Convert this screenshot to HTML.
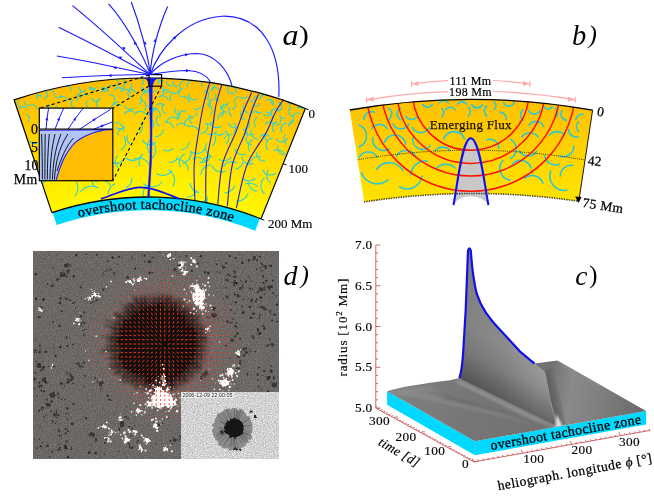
<!DOCTYPE html>
<html><head><meta charset="utf-8"><title>Figure</title>
<style>
html,body{margin:0;padding:0;background:#fff;}
body{width:654px;height:496px;overflow:hidden;font-family:"Liberation Serif", "DejaVu Serif", serif;}
svg{display:block;}
text{font-family:"Liberation Serif", "DejaVu Serif", serif;}
</style></head><body>
<svg width="654" height="496" viewBox="0 0 654 496">
<defs>
<radialGradient id="ga" gradientUnits="userSpaceOnUse" cx="148" cy="500" r="422"><stop offset="0.718" stop-color="#fff800"/><stop offset="0.832" stop-color="#ffe000"/><stop offset="1" stop-color="#ffbe00"/></radialGradient>
<clipPath id="ca"><path d="M14.1,99.81 A422,422 0 0 1 305.4,108.45 L261.02,218.87 A303,303 0 0 0 51.86,212.66 Z"/></clipPath>
</defs>
<g id="panel-a">
<path d="M52.29,211.46 A304,304 0 0 1 260.4,217.54 L255.15,230.74 A289.8,289.8 0 0 0 56.76,224.94 Z" fill="#00d8ff"/>
<path d="M14.1,99.81 A422,422 0 0 1 305.4,108.45 L261.02,218.87 A303,303 0 0 0 51.86,212.66 Z" fill="url(#ga)"/>
<g clip-path="url(#ca)" fill="none" stroke="#30d4d0" stroke-width="1.1" stroke-linecap="round">
<path d="M117.5,134.77 A7.26,7.26 0 0 1 122.42,128.24"/>
<path d="M150.24,194.91 A13.2,13.2 0 0 1 136.68,198.17"/>
<path d="M267.69,150.01 A7.52,7.52 0 0 1 272.72,138.01"/>
<path d="M240.43,211.94 A11.89,11.89 0 0 1 229,213.74"/>
<path d="M223.56,166.41 A9.39,9.39 0 0 1 236.3,162.8"/>
<path d="M177.76,156.99 A8.57,8.57 0 0 1 169.27,162.42"/>
<path d="M134.47,114.47 A6.57,6.57 0 0 1 143.93,112.49"/>
<path d="M164.34,121.82 A8.6,8.6 0 0 1 173.76,128.13"/>
<path d="M50.9,90.67 A4.13,4.13 0 0 1 54.84,94.82"/>
<path d="M233.74,122.77 A7.14,7.14 0 0 1 233.98,132.58"/>
<path d="M177.86,119.66 A6.9,6.9 0 0 1 185.71,110.98"/>
<path d="M157.2,89.15 A4.72,4.72 0 0 1 149.17,90.39"/>
<path d="M283.94,155.1 A7.79,7.79 0 0 1 278.01,145.82"/>
<path d="M38.13,142.37 A6.93,6.93 0 0 1 29.65,141.07"/>
<path d="M214.78,207.72 A11.28,11.28 0 0 1 204.1,200.53"/>
<path d="M247.93,112.63 A5.55,5.55 0 0 1 243.7,105.26"/>
<path d="M255.26,178.69 A10.92,10.92 0 0 1 242.71,178.82"/>
<path d="M189.02,141.95 A8.12,8.12 0 0 1 181.27,149.85"/>
<path d="M211.4,88.8 A4.47,4.47 0 0 1 218.91,90.27"/>
<path d="M255.47,126.77 A6.46,6.46 0 0 1 256.95,117.33"/>
<path d="M196.51,190.87 A10.71,10.71 0 0 1 187.14,197.18"/>
<path d="M131.96,178.42 A10.21,10.21 0 0 1 126.37,187.51"/>
<path d="M288.74,126.41 A5.34,5.34 0 0 1 292.61,120.73"/>
<path d="M39.51,189.72 A12.88,12.88 0 0 1 48.42,179.68"/>
<path d="M274.19,150.39 A9.03,9.03 0 0 1 285.02,154.42"/>
<path d="M165.41,113.48 A6.51,6.51 0 0 1 162.59,105.11"/>
<path d="M220.41,108.95 A5.27,5.27 0 0 1 226.61,104.36"/>
<path d="M57,218.22 A12.01,12.01 0 0 1 45.75,207.52"/>
<path d="M150.01,85.64 A4.92,4.92 0 0 1 141.96,89.79"/>
<path d="M204.74,148.93 A9.36,9.36 0 0 1 190.9,151.55"/>
<path d="M234.37,102.45 A5.15,5.15 0 0 1 238.51,96.68"/>
<path d="M281.92,132.21 A5.66,5.66 0 0 1 286.62,123.26"/>
<path d="M85.3,176.3 A13.08,13.08 0 0 1 93.71,186.77"/>
<path d="M124.74,126.73 A7.19,7.19 0 0 1 116.48,127.81"/>
<path d="M207.34,86.3 A4.33,4.33 0 0 1 204.12,92.32"/>
<path d="M114.5,90.01 A4.79,4.79 0 0 1 123.12,90.69"/>
<path d="M249.75,163.67 A9.23,9.23 0 0 1 260.4,156.41"/>
<path d="M210.25,155.62 A8.88,8.88 0 0 1 206.46,143.61"/>
<path d="M224.15,138.91 A7.21,7.21 0 0 1 232.28,134.51"/>
<path d="M265.08,124.05 A6.09,6.09 0 0 1 274.44,124.16"/>
<path d="M257.92,139.25 A7.49,7.49 0 0 1 251.12,129.91"/>
<path d="M259.34,104.87 A4.12,4.12 0 0 1 252.9,104.24"/>
<path d="M95.85,181.58 A10.99,10.99 0 0 1 110.39,185.22"/>
<path d="M60.18,97.4 A5.23,5.23 0 0 1 67.12,98.63"/>
<path d="M293.26,118.29 A4.72,4.72 0 0 1 289.42,124.35"/>
<path d="M201.94,162.16 A8.89,8.89 0 0 1 211.92,156.38"/>
<path d="M108.1,194.07 A13.23,13.23 0 0 1 114.61,183.67"/>
<path d="M246.82,96.56 A4.67,4.67 0 0 1 239.98,97.16"/>
<path d="M245.65,183.92 A11.86,11.86 0 0 1 257.26,186.43"/>
<path d="M142.25,95.13 A5.05,5.05 0 0 1 151.26,94.05"/>
<path d="M161.81,182.01 A12.55,12.55 0 0 1 143.75,183.73"/>
<path d="M149.52,152.58 A9.9,9.9 0 0 1 150.87,138.87"/>
<path d="M191.96,123.01 A6.5,6.5 0 0 1 189.57,115.53"/>
<path d="M73.96,178.88 A12.53,12.53 0 0 1 75.15,195.8"/>
<path d="M139.6,165.45 A9.45,9.45 0 0 1 142.76,154.79"/>
<path d="M293.42,116.11 A4.43,4.43 0 0 1 290.02,108.66"/>
<path d="M117.71,167.26 A8.91,8.91 0 0 1 117.4,155.56"/>
<path d="M177.48,159.55 A10.98,10.98 0 0 1 188.41,170.08"/>
<path d="M122.58,161.27 A10.68,10.68 0 0 1 106.95,157.88"/>
<path d="M266.39,112.38 A5.69,5.69 0 0 1 272.14,120.41"/>
<path d="M168.75,170.2 A11.75,11.75 0 0 1 172.91,186.27"/>
<path d="M180.58,96.9 A6.15,6.15 0 0 1 189.25,102.43"/>
<path d="M188.03,126.87 A8.25,8.25 0 0 1 199.1,131.14"/>
<path d="M156.95,104.8 A6.35,6.35 0 0 1 164.74,105.54"/>
<path d="M197.02,113.18 A6.35,6.35 0 0 1 189.36,116.21"/>
<path d="M192.77,158.89 A11.1,11.1 0 0 1 205.72,161.06"/>
<path d="M155.96,142.22 A8.29,8.29 0 0 1 142.46,140.33"/>
<path d="M276.09,195.62 A12.46,12.46 0 0 1 265.07,206.63"/>
<path d="M160.44,95.99 A6.21,6.21 0 0 1 168.09,99.86"/>
<path d="M26.42,114.34 A5.82,5.82 0 0 1 28.65,121.61"/>
<path d="M219.26,100.94 A5.18,5.18 0 0 1 215.79,93.88"/>
<path d="M270.06,182.67 A9.69,9.69 0 0 1 268.14,169.97"/>
<path d="M256.91,191.29 A9.76,9.76 0 0 1 248.11,181.81"/>
<path d="M265.73,100.61 A4.78,4.78 0 0 1 273.77,104.01"/>
<path d="M178.9,90.14 A4.82,4.82 0 0 1 170.71,91.88"/>
<path d="M163.05,89.46 A4.53,4.53 0 0 1 158.47,96.42"/>
<path d="M249.56,151.23 A8.39,8.39 0 0 1 252.19,139.79"/>
<path d="M251.75,145.19 A6.82,6.82 0 0 1 245.83,138.46"/>
<path d="M151.33,141.49 A10.5,10.5 0 0 1 151.99,158.07"/>
<path d="M154.04,109.58 A6.22,6.22 0 0 1 144.01,112.82"/>
<path d="M216.86,130.92 A6.57,6.57 0 0 1 207.43,133.68"/>
<path d="M145.02,200.06 A13.36,13.36 0 0 1 145.68,186.1"/>
<path d="M106.61,91.21 A4.66,4.66 0 0 1 101.41,87.03"/>
<path d="M61.1,95.31 A3.78,3.78 0 0 1 55.51,97.07"/>
<path d="M272.1,110.36 A5.24,5.24 0 0 1 263.54,114.51"/>
<path d="M228.01,93.16 A4.06,4.06 0 0 1 233.87,95.17"/>
<path d="M78.17,87.56 A4.2,4.2 0 0 1 78.29,95.06"/>
<path d="M76.87,94.37 A4.59,4.59 0 0 1 76.63,100.2"/>
<path d="M243.25,161.87 A9.95,9.95 0 0 1 235.42,169.14"/>
<path d="M123.9,88.57 A4.16,4.16 0 0 1 127.07,82.68"/>
<path d="M231.96,116.02 A5.78,5.78 0 0 1 229.68,108"/>
<path d="M95.4,88.23 A3.7,3.7 0 0 1 89.39,88.34"/>
<path d="M133.55,159.22 A11.23,11.23 0 0 1 148.8,164.3"/>
<path d="M208.2,98.64 A4.88,4.88 0 0 1 209.58,105.5"/>
<path d="M181.03,89.12 A4.75,4.75 0 0 1 183.8,80.98"/>
<path d="M234.58,185.97 A11.3,11.3 0 0 1 225.17,192.85"/>
<path d="M198.82,192.59 A11.26,11.26 0 0 1 190.02,183.2"/>
<path d="M120.31,78.56 A3.75,3.75 0 0 1 124.55,81.84"/>
<path d="M260.1,136.32 A6.49,6.49 0 0 1 269.19,136.08"/>
<path d="M171.92,171.07 A11.59,11.59 0 0 1 156.94,173.68"/>
<path d="M196.94,99.11 A5.3,5.3 0 0 1 188.81,94.67"/>
<path d="M32.15,104.68 A5.03,5.03 0 0 1 36.89,108.96"/>
<path d="M249.36,123.05 A5.93,5.93 0 0 1 243.25,129.66"/>
<path d="M278.68,102.9 A4.04,4.04 0 0 1 279.95,110.2"/>
<path d="M99.91,100.37 A5.36,5.36 0 0 1 91.65,98.25"/>
<path d="M199.16,81 A3.99,3.99 0 0 1 201.69,86.3"/>
<path d="M225.46,171.03 A9.62,9.62 0 0 1 212.14,165.67"/>
<path d="M176.82,125.4 A7.17,7.17 0 0 1 187.17,125.54"/>
<path d="M221.19,107.95 A5.22,5.22 0 0 1 221,116.72"/>
<path d="M209.05,107.3 A5.97,5.97 0 0 1 214.88,99.04"/>
<path d="M284.99,118.19 A4.32,4.32 0 0 1 279.81,115.69"/>
<path d="M200.45,107.15 A5.3,5.3 0 0 1 193.84,108.8"/>
<path d="M157.89,82.14 A4.75,4.75 0 0 1 163.95,81.36"/>
<path d="M111.66,106.75 A6.39,6.39 0 0 1 118.83,101.95"/>
<path d="M141.62,155.51 A10.34,10.34 0 0 1 125.3,157.35"/>
<path d="M80.29,98.24 A5.02,5.02 0 0 1 88.48,95.42"/>
<path d="M253.46,133.98 A6.1,6.1 0 0 1 245.34,132.78"/>
<path d="M141.11,122.42 A8.05,8.05 0 0 1 138.68,133.62"/>
<path d="M180.3,166.82 A9.14,9.14 0 0 1 184.77,153.97"/>
<path d="M30.85,105.08 A4.31,4.31 0 0 1 24.26,101.23"/>
<path d="M200.64,174.53 A12.22,12.22 0 0 1 210.07,164.66"/>
<path d="M133.73,108.15 A5.38,5.38 0 0 1 124.87,105.76"/>
<path d="M244.69,119.55 A5.61,5.61 0 0 1 241.42,111.27"/>
<path d="M207.09,123.38 A7.03,7.03 0 0 1 200.96,133.44"/>
<path d="M250.82,225.91 A13.4,13.4 0 0 1 239.64,219.9"/>
<path d="M207.13,103.97 A6.6,6.6 0 0 1 210.37,114.9"/>
<path d="M36.36,96.6 A4.54,4.54 0 0 1 42.19,96.49"/>
<path d="M106.61,90.12 A5.22,5.22 0 0 1 113.56,85.55"/>
<path d="M97.54,106.97 A6.06,6.06 0 0 1 100.27,97.91"/>
<path d="M40.09,118.1 A6.31,6.31 0 0 1 38.28,127.84"/>
<path d="M80.62,191.48 A14.33,14.33 0 0 1 98.33,187.8"/>
<path d="M206.26,90.59 A4.64,4.64 0 0 1 206.64,98.72"/>
<path d="M179.82,198.11 A11.02,11.02 0 0 1 164.78,199.18"/>
<path d="M191.07,151.73 A10.59,10.59 0 0 1 182.73,163.37"/>
<path d="M207.14,196.76 A11.69,11.69 0 0 1 204.16,207.29"/>
<path d="M89.08,87.79 A5.19,5.19 0 0 1 94.9,90.79"/>
<path d="M248.08,193.73 A11.46,11.46 0 0 1 236.64,200.96"/>
<path d="M121.04,91.35 A5.28,5.28 0 0 1 130.35,93.06"/>
<path d="M161.93,91.94 A5.03,5.03 0 0 1 168.65,90.23"/>
<path d="M261.33,97.16 A4.11,4.11 0 0 1 267.05,95.24"/>
<path d="M140.16,99.82 A6.7,6.7 0 0 1 144.95,110.29"/>
<path d="M149.83,117.41 A7.06,7.06 0 0 1 152.8,127.31"/>
<path d="M177.88,110.43 A6,6 0 0 1 178.39,118.58"/>
<path d="M56.86,105.59 A5.5,5.5 0 0 1 47.01,106.53"/>
<path d="M19.85,106.71 A4.56,4.56 0 0 1 18.35,100.61"/>
<path d="M253.15,163.52 A8.2,8.2 0 0 1 241.81,157.01"/>
<path d="M76.26,214.73 A13.37,13.37 0 0 1 64.27,213.23"/>
<path d="M225.13,131.19 A7.18,7.18 0 0 1 226.18,143.28"/>
<path d="M249.52,116.25 A5.04,5.04 0 0 1 258.02,113.17"/>
<path d="M245.24,129.06 A8.04,8.04 0 0 1 246.21,138.36"/>
<path d="M264.77,161.14 A8.39,8.39 0 0 1 256.42,152.28"/>
<path d="M172.71,148.5 A8.02,8.02 0 0 1 163.51,150.08"/>
<path d="M218.05,119.75 A6.8,6.8 0 0 1 226.62,112.15"/>
<path d="M19.31,109.1 A4.28,4.28 0 0 1 25.92,107.47"/>
<path d="M124.52,113.92 A6.6,6.6 0 0 1 133.63,112.12"/>
<path d="M178.89,95.05 A4.71,4.71 0 0 1 182.62,88.95"/>
<path d="M121.03,104.78 A5.59,5.59 0 0 1 114.02,102.74"/>
<path d="M231.25,157.48 A9.61,9.61 0 0 1 219.22,159.48"/>
<path d="M231.8,86.95 A3.67,3.67 0 0 1 235.54,92.67"/>
<path d="M159.47,126.09 A6.92,6.92 0 0 1 157.47,116.23"/>
<path d="M226.09,85.86 A3.7,3.7 0 0 1 227.09,91.53"/>
<path d="M215.13,136.04 A8.81,8.81 0 0 1 212.55,145.49"/>
<path d="M287.47,138.48 A6.58,6.58 0 0 1 276.33,139.17"/>
<path d="M210.17,156.7 A8.97,8.97 0 0 1 199.68,162.26"/>
<path d="M85.5,89.84 A4.4,4.4 0 0 1 80.06,91.54"/>
<path d="M130.06,144.21 A8.56,8.56 0 0 1 127.44,135.19"/>
<path d="M140.4,96.17 A5.43,5.43 0 0 1 138.91,104.34"/>
<path d="M34.43,163.4 A9.39,9.39 0 0 1 26.49,154.42"/>
<path d="M170.85,100.72 A5.31,5.31 0 0 1 172.07,94.12"/>
<path d="M135.55,91.48 A4.66,4.66 0 0 1 132.4,83.61"/>
<path d="M292.79,117.35 A5.25,5.25 0 0 1 299.2,113.11"/>
<path d="M65.39,86.37 A4.06,4.06 0 0 1 70.99,90.63"/>
<path d="M169.38,91.65 A4.24,4.24 0 0 1 163.17,87.22"/>
<path d="M245.72,153.89 A7.53,7.53 0 0 1 234.9,148.85"/>
<path d="M109.88,94.64 A4.89,4.89 0 0 1 114.92,99.76"/>
<path d="M280.4,118.88 A4.85,4.85 0 0 1 276.71,125.32"/>
<path d="M235.88,103.38 A5.3,5.3 0 0 1 232.47,109.12"/>
<path d="M140.6,77.48 A4.13,4.13 0 0 1 141.47,84.73"/>
<path d="M74.09,108.02 A5.81,5.81 0 0 1 71.67,101.2"/>
<path d="M102.95,88.31 A4.9,4.9 0 0 1 108.64,91.1"/>
<path d="M287.93,102.16 A3.87,3.87 0 0 1 288.97,108.61"/>
<path d="M65.88,101.13 A4.93,4.93 0 0 1 72.62,100.56"/>
<path d="M177.56,86.44 A3.9,3.9 0 0 1 173.16,81.47"/>
<path d="M88.32,107.48 A5.35,5.35 0 0 1 87.12,100.77"/>
<path d="M156.68,109.03 A6.29,6.29 0 0 1 148.34,105.38"/>
<path d="M103.65,87.06 A4.42,4.42 0 0 1 100.47,92.48"/>
<path d="M24.31,132.86 A5.65,5.65 0 0 1 22.76,125.98"/>
<path d="M264.34,193.61 A10.97,10.97 0 0 1 264.21,177.85"/>
<path d="M214.42,119.74 A6.05,6.05 0 0 1 205.43,123.28"/>
<path d="M49.85,105.1 A5.19,5.19 0 0 1 42.27,109.27"/>
<path d="M163.24,129.68 A7.62,7.62 0 0 1 155.65,136.76"/>
<path d="M115.66,78.93 A4.45,4.45 0 0 1 116.35,86.85"/>
<path d="M286.11,143.76 A6.63,6.63 0 0 1 285.57,134.42"/>
<path d="M237.86,127.1 A6.7,6.7 0 0 1 228.66,123.06"/>
<path d="M254.6,96 A4.76,4.76 0 0 1 249.92,101.61"/>
<path d="M297.32,108.44 A3.65,3.65 0 0 1 302.32,108.84"/>
<path d="M166.23,123.13 A6.73,6.73 0 0 1 176.97,118.52"/>
<path d="M156.8,77.81 A3.98,3.98 0 0 1 157.94,84"/>
<path d="M171.88,85.37 A3.76,3.76 0 0 1 166.6,81.48"/>
<path d="M184.35,125.82 A6.56,6.56 0 0 1 192.85,118.58"/>
<path d="M124.1,136.65 A9.49,9.49 0 0 1 121.3,149.97"/>
<path d="M150.81,108.13 A7.47,7.47 0 0 1 159.87,117.41"/>
<path d="M261.3,112.16 A4.39,4.39 0 0 1 255.37,110.3"/>
<path d="M30.6,152.51 A7.24,7.24 0 0 1 25.12,143.85"/>
<path d="M178.36,114.75 A5.4,5.4 0 0 1 175.16,107.39"/>
<path d="M44.76,90.63 A4.28,4.28 0 0 1 44.26,98.62"/>
<path d="M267,141.11 A7.37,7.37 0 0 1 266.3,132.43"/>
<path d="M274.17,131.98 A5.85,5.85 0 0 1 276.86,122.12"/>
<path d="M115.37,122.65 A7.23,7.23 0 0 1 123.49,131.03"/>
<path d="M187.55,87.06 A3.74,3.74 0 0 1 190.86,81.82"/>
<path d="M260.31,93.2 A3.54,3.54 0 0 1 259.27,98.83"/>
<path d="M275.81,173.26 A8.7,8.7 0 0 1 262.68,169.9"/>
<path d="M221.44,125.81 A7.34,7.34 0 0 1 209.77,122.92"/>
<path d="M212.15,82.41 A4.49,4.49 0 0 1 210.84,90.5"/>
<path d="M270.89,111.29 A4.6,4.6 0 0 1 279.29,111.9"/>
<path d="M273.81,105.01 A4.32,4.32 0 0 1 270.97,99.39"/>
<path d="M227.94,102.6 A4.77,4.77 0 0 1 221.16,106.93"/>
<path d="M35.3,93.3 A4.43,4.43 0 0 1 36.98,99.2"/>
<path d="M130.13,97.2 A4.73,4.73 0 0 1 131.39,88.6"/>
<path d="M140.37,87.84 A4.65,4.65 0 0 1 145.87,93.31"/>
<path d="M275.25,201.77 A12.4,12.4 0 0 1 272.2,215.88"/>
<path d="M224.18,133.39 A6.61,6.61 0 0 1 214.9,133.05"/>
</g>
<g fill="none" stroke="#2a1ad0" stroke-width="1.1">
<path d="M209.8,82.5 C208.75,86.25 205.37,96.75 203.5,105 C201.63,113.25 200.15,122 198.6,132 C197.05,142 194.82,153.63 194.2,165 C193.58,176.37 194.78,194.33 194.9,200.2"/>
<path d="M221.7,85 C220.75,88.33 217.62,97.17 216,105 C214.38,112.83 213.62,122 212,132 C210.38,142 207.33,153.25 206.3,165 C205.27,176.75 205.88,196.25 205.8,202.5"/>
<path d="M251.6,92.5 C250.33,95.42 246.68,103.25 244,110 C241.32,116.75 239.12,123.83 235.5,133 C231.88,142.17 225.25,153.13 222.3,165 C219.35,176.87 218.55,197.67 217.8,204.2"/>
<path d="M258.5,94.2 C257.42,96.83 254.25,103.53 252,110 C249.75,116.47 248.28,123.83 245,133 C241.72,142.17 235.25,152.8 232.3,165 C229.35,177.2 228.13,199.33 227.3,206.2"/>
<path d="M283.4,99.6 C282,101.83 277.9,107.43 275,113 C272.1,118.57 270.67,124.33 266,133 C261.33,141.67 251.95,152.47 247,165 C242.05,177.53 238.08,201 236.3,208.2"/>
</g>
<path d="M51.86,212.66 L14.1,99.81 A422,422 0 0 1 305.4,108.45 L261.02,218.87" fill="none" stroke="#000" stroke-width="1.2" stroke-linejoin="miter"/>
<path d="M51.86,212.66 A303,303 0 0 1 261.02,218.87" fill="none" stroke="#000" stroke-width="1.3"/>
<path d="M100.8,198.9 C115,194.5 128,187.4 139.5,187.4 C152,187.4 165,193 179.3,198.9" fill="none" stroke="#1010f0" stroke-width="1.7"/>
<path d="M144.5,78 C149,80 149.3,86 149.3,92 L150.3,130 L149.9,160 L147.6,197 L149.3,197 L151.6,160 L152,130 L152.2,92 C152.3,86 152.8,80 157.5,78.5 Z" fill="#1010f0" stroke="#1010f0" stroke-width="0.45"/>
<g stroke="#000" stroke-width="1.1" stroke-dasharray="3.2,2.6" fill="none">
<path d="M149,75 L39.5,108.3"/><path d="M149,86 L112.8,108.3"/><path d="M161.5,86 L112.8,180.7"/>
</g>
<rect x="149" y="74.6" width="12.6" height="11.6" fill="none" stroke="#000" stroke-width="1.2"/>
<g fill="none" stroke="#1a1aff" stroke-width="1.15">
<path d="M150.3,74.5 C135,74.5 110,75 62,77.8"/>
<path d="M150.3,74.5 C135,72 100,63 56.8,56"/>
<path d="M150.3,74.5 C138,68 105,50 58.6,27.3"/>
<path d="M150.3,74.5 C140,66 110,36 72.5,5.6"/>
<path d="M150.3,74.5 C146,62 128,25 108.6,3.8"/>
<path d="M150.3,74.5 C148,55 140,25 131.3,2"/>
<path d="M150.3,74.5 C151,55 158.5,27 167.6,6.5"/>
<path d="M150.3,74.5 C158,52 183,18.5 222,16.2 C262,15 281,50 278.8,97"/>
<path d="M150.3,74.5 C160,62 180,53.5 197,53.5 C215,54 228,70 232,86"/>
<path d="M150.3,74.5 C162,72.5 175,70.5 188,70.5 C200,71 207,76 210.5,82"/>
</g>
<polygon points="107.9,75.56 111.5,74.05 111.44,77.2" fill="#1a1aff"/>
<polygon points="112.95,67.23 116.79,66.5 116.08,69.57" fill="#1a1aff"/>
<polygon points="118.35,56.51 122.24,56.8 120.76,59.58" fill="#1a1aff"/>
<polygon points="122.09,46.65 125.84,47.74 123.81,50.15" fill="#1a1aff"/>
<polygon points="134.15,41.08 137.04,43.7 134.16,44.98" fill="#1a1aff"/>
<polygon points="144.56,40.95 146.85,44.11 143.77,44.77" fill="#1a1aff"/>
<polygon points="155.67,38.45 156.4,42.29 153.33,41.58" fill="#1a1aff"/>
<polygon points="176.29,35.75 175.34,39.53 172.85,37.59" fill="#1a1aff"/>
<polygon points="188.57,54.24 185.33,56.41 184.78,53.3" fill="#1a1aff"/>
<polygon points="189.6,70.6 186.03,72.17 186.03,69.02" fill="#1a1aff"/>
<rect x="39.3" y="108.1" width="73.5" height="72.6" fill="#fff"/>
<rect x="39.3" y="129" width="73.5" height="51.7" fill="#ffbc00"/>
<path d="M39.3,130.3 L112.8,129.6 C111.42,129.72 107.97,129.7 104.5,130.3 C101.03,130.9 96.08,131.75 92,133.2 C87.92,134.65 83.33,136.87 80,139 C76.67,141.13 74.63,142.83 72,146 C69.37,149.17 66.4,153.75 64.2,158 C62,162.25 60.17,167.72 58.8,171.5 C57.43,175.28 56.47,179.17 56,180.7 L39.3,180.7 Z" fill="#b0c4f6"/>
<g fill="none" stroke="#000" stroke-width="0.9">
<path d="M41.6,134 C42.2,150 42.34,165 42.4,179.5"/>
<path d="M45.2,134 C44.98,150 44.92,165 44.9,179.5"/>
<path d="M49.3,134 C47.8,150 47.46,165 47.3,179.5"/>
<path d="M55,134 C51.17,150 50.31,165 49.9,179.5"/>
<path d="M61,134 C54.55,150 53.09,165 52.4,179.5"/>
<path d="M67.8,134 C57.75,150 55.47,165 54.4,179.5"/>
<path d="M73.5,138 C66,146 60.5,160 57,171"/>
</g>
<path d="M39.3,130.3 L112.8,129.6 C111.42,129.72 107.97,129.7 104.5,130.3 C101.03,130.9 96.08,131.75 92,133.2 C87.92,134.65 83.33,136.87 80,139 C76.67,141.13 74.63,142.83 72,146 C69.37,149.17 66.4,153.75 64.2,158 C62,162.25 60.17,167.72 58.8,171.5 C57.43,175.28 56.47,179.17 56,180.7" fill="none" stroke="#1a1aff" stroke-width="1.1"/>
<g fill="none" stroke="#1a1aff" stroke-width="1">
<path d="M46,129.5 Q46.8,118.9 48.5,108.3"/>
<path d="M54.9,129.5 Q58.68,118.9 63.6,108.3"/>
<path d="M67.8,129.5 Q74.7,118.9 83,108.3"/>
<path d="M78.8,129.8 Q93.71,119.55 110.7,109.3"/>
<path d="M93,129.6 Q101.96,125.75 112.5,121.9"/>
</g>
<polygon points="47.18,116.91 48.28,120.47 45.3,120.11" fill="#1a1aff"/>
<polygon points="59.71,117.05 59.81,120.76 57.03,119.63" fill="#1a1aff"/>
<polygon points="76.27,117.27 75.5,120.91 73.07,119.16" fill="#1a1aff"/>
<polygon points="96.13,118.47 94.08,121.57 92.46,119.04" fill="#1a1aff"/>
<polygon points="104.31,125.02 101.7,127.66 100.6,124.87" fill="#1a1aff"/>
<line x1="39.3" y1="129" x2="112.8" y2="129" stroke="#000" stroke-width="1.1"/>
<rect x="39.3" y="108.1" width="73.5" height="72.6" fill="none" stroke="#000" stroke-width="1.2"/>
<g font-size="13.8" fill="#000" stroke="#000" stroke-width="0.25" text-anchor="end">
<text x="38" y="133.5">0</text><text x="38" y="152">5</text><text x="38.3" y="170">10</text><text x="37.6" y="184" letter-spacing="0.4">Mm</text>
</g>
<g font-size="13" fill="#000" stroke="#000" stroke-width="0.15">
<text x="308.5" y="118">0</text><text x="288.5" y="172.8">100</text><text x="268" y="228">200 Mm</text>
</g>
<g stroke="#000" stroke-width="1">
<line x1="305.4" y1="108.45" x2="308.65" y2="109.76"/>
<line x1="283.21" y1="163.66" x2="286.46" y2="164.96"/>
<line x1="261.02" y1="218.87" x2="264.26" y2="220.17"/>
</g>
<defs><path id="tpa" d="M78.83,217.34 A291,291 0 0 1 247.53,226.55"/></defs>
<text font-size="14" fill="#000" stroke="#000" stroke-width="0.3" letter-spacing="0.38"><textPath href="#tpa">overshoot tachocline zone</textPath></text>
<text transform="scale(1.13,1)" x="250.09" y="44.8" font-size="28.5" font-style="italic">a<tspan x="264.60" y="43" font-size="26" font-style="normal">)</tspan></text>
</g>
<defs>
<linearGradient id="gb" x1="0" y1="99" x2="0" y2="203" gradientUnits="userSpaceOnUse"><stop offset="0" stop-color="#ffc000"/><stop offset="1" stop-color="#ffe400"/></linearGradient>
<clipPath id="cb"><path d="M349.8,110 A694,694 0 0 1 592.6,110.2 L578.8,201.3 A715,715 0 0 0 364.2,201.9 Z"/></clipPath>
</defs>
<g id="panel-b">
<path d="M349.8,110 A694,694 0 0 1 592.6,110.2 L578.8,201.3 A715,715 0 0 0 364.2,201.9 Z" fill="url(#gb)"/>
<g clip-path="url(#cb)" fill="none" stroke="#28c8d8" stroke-width="1.6" stroke-linecap="round">
<path d="M363.86,119.4 A7.76,7.76 0 0 1 374.27,112.11"/>
<path d="M388.26,108.09 A6.65,6.65 0 0 1 388.26,119.62"/>
<path d="M400.46,119.62 A6.65,6.65 0 0 1 400.46,108.09"/>
<path d="M417.31,116.07 A6.65,6.65 0 0 1 405.79,116.07"/>
<path d="M432.32,104.43 A5.55,5.55 0 0 1 422.72,104.43"/>
<path d="M439.17,102.91 A5.55,5.55 0 0 1 448.26,102.91"/>
<path d="M441.73,108.5 A5.55,5.55 0 0 1 441.73,116.99"/>
<path d="M445.83,109.57 A5.55,5.55 0 0 1 454.91,109.57"/>
<path d="M457.58,104.02 A5.55,5.55 0 0 1 466.67,104.02"/>
<path d="M468.35,107.39 A5.55,5.55 0 0 1 468.35,115.89"/>
<path d="M358.93,125.2 A11.54,11.54 0 0 1 358.93,146.88"/>
<path d="M371.75,128.48 A9.32,9.32 0 0 1 387.02,128.48"/>
<path d="M389.37,148.97 A11.09,11.09 0 0 1 372.9,137.44"/>
<path d="M384.49,142.23 A11.09,11.09 0 0 1 405.83,144.09"/>
<path d="M408.97,124.06 A9.32,9.32 0 0 1 392.83,124.06"/>
<path d="M429.51,127.72 A9.98,9.98 0 0 1 412.22,127.72"/>
<path d="M430.29,145.78 A9.98,9.98 0 0 1 412.81,137.63"/>
<path d="M434.96,150.7 A9.98,9.98 0 0 1 450.25,150.7"/>
<path d="M443.72,138.9 A11.09,11.09 0 0 1 464.56,138.9"/>
<path d="M359.07,157.33 A10.65,10.65 0 0 1 377.51,157.33"/>
<path d="M387.86,179.84 A16.64,16.64 0 0 1 361.53,172.78"/>
<path d="M376.65,169.28 A15.53,15.53 0 0 1 402.81,170.42"/>
<path d="M396.4,156 A11.09,11.09 0 0 1 416.43,157.75"/>
<path d="M421.97,176.37 A15.08,15.08 0 0 1 399.57,186.81"/>
<path d="M411.1,174.86 A13.75,13.75 0 0 1 427.25,161.31"/>
<path d="M436.83,167.98 A12.87,12.87 0 0 1 455.03,167.98"/>
<path d="M482.48,104.76 A6.21,6.21 0 0 1 471.72,104.76"/>
<path d="M486.8,116.07 A6.65,6.65 0 0 1 486.8,105.87"/>
<path d="M494.21,101.91 A4.88,4.88 0 0 1 494.21,109.39"/>
<path d="M499.95,112.08 A6.21,6.21 0 0 1 506.06,119.37"/>
<path d="M514.03,102.44 A5.55,5.55 0 0 1 503.61,102.44"/>
<path d="M523.11,120.4 A7.1,7.1 0 0 1 523.11,109.53"/>
<path d="M540.09,110.53 A6.65,6.65 0 0 1 528.57,110.53"/>
<path d="M529.19,125.39 A7.99,7.99 0 0 1 543.61,126.65"/>
<path d="M552.31,106.76 A4.88,4.88 0 0 1 543.86,106.76"/>
<path d="M555.24,107.65 A6.65,6.65 0 0 1 555.24,117.84"/>
<path d="M566.45,120.41 A6.65,6.65 0 0 1 561.84,110.53"/>
<path d="M575.91,119.43 A6.21,6.21 0 0 1 583.1,114.39"/>
<path d="M578.46,131.57 A7.54,7.54 0 0 1 578.46,121.87"/>
<path d="M577.83,137.03 A7.76,7.76 0 0 1 568.71,129.38"/>
<path d="M486.93,139.9 A8.87,8.87 0 0 1 498.84,148.24"/>
<path d="M510.82,139.68 A10.65,10.65 0 0 1 510.82,158.13"/>
<path d="M521.72,136.97 A9.98,9.98 0 0 1 538.07,136.97"/>
<path d="M536.76,151.01 A9.98,9.98 0 0 1 519.47,151.01"/>
<path d="M549.31,135.17 A9.98,9.98 0 0 1 564.6,135.17"/>
<path d="M573.82,146.02 A10.65,10.65 0 0 1 559.53,156.03"/>
<path d="M559.2,164.21 A11.09,11.09 0 0 1 544.48,155.71"/>
<path d="M510.03,180.22 A12.2,12.2 0 0 1 502.8,160.36"/>
<path d="M512.08,164.4 A11.09,11.09 0 0 1 531,167.74"/>
<path d="M524.7,178.22 A11.54,11.54 0 0 1 542.95,183.11"/>
<path d="M566.78,190.17 A14.42,14.42 0 0 1 550.73,171.04"/>
<path d="M560.28,175.97 A10.65,10.65 0 0 1 572.78,165.48"/>
</g>
<path d="M453.6,204.3 C457,188 462,138.2 470.8,138.2 C479.6,138.2 485,188 488.3,204.3 L488.3,204.3 C480,193.5 461,193.5 453.6,204.3 Z" fill="#c8c8c8"/>
<g fill="none" stroke="#000" stroke-width="0.9" stroke-dasharray="0.8,1.1">
<path d="M357.6,159.8 A670,670 0 0 1 583.8,159.8"/>
<path d="M364.2,201.9 A715,715 0 0 1 578.8,201.3" stroke-width="1.6" stroke-dasharray="0.7,1.0"/>
</g>
<g clip-path="url(#cb)" fill="none" stroke="#ff1000" stroke-width="1.5">
<circle cx="470.8" cy="91.9" r="58.3"/>
<circle cx="470.8" cy="89.4" r="74"/>
<circle cx="470.8" cy="86.2" r="89.8"/>
<circle cx="470.8" cy="86.35" r="105"/>
</g>
<path d="M453.6,204.3 C457,188 462,138.2 470.8,138.2 C479.6,138.2 485,188 488.3,204.3" fill="none" stroke="#1010f0" stroke-width="2.1" stroke-linecap="round"/>
<path d="M349.8,110 A694,694 0 0 1 592.6,110.2" fill="none" stroke="#000" stroke-width="1.3"/>
<path d="M592.6,110.2 L578.8,201.3" fill="none" stroke="#000" stroke-width="0.9"/>
<polygon points="575.2,196.6 581.6,197.1 578.5,203" fill="#000"/>
<g fill="none" stroke="#ffaaaa" stroke-width="1.2">
<path d="M411.5,83.8 A560,560 0 0 1 448,80.6"/>
<path d="M493,80.5 A560,560 0 0 1 530,83.8"/>
<path d="M411.5,80.9 V86.8"/><path d="M530,80.9 V86.8"/>
<path d="M366.6,99.8 A640,640 0 0 1 448,91.6"/>
<path d="M493,91.5 A640,640 0 0 1 575.2,99.8"/>
<path d="M366.6,96.9 V102.8"/><path d="M575.2,96.9 V102.8"/>
</g>
<g fill="#ffaaaa">
<polygon points="412,83.8 418.5,81 418.5,86"/>
<polygon points="529.5,83.8 523,81 523,86"/>
<polygon points="367.2,99.8 373.5,96.6 374,101.6"/>
<polygon points="574.6,99.8 568.3,96.6 567.8,101.6"/>
</g>
<g font-size="12" fill="#000" stroke="#000" stroke-width="0.2" text-anchor="middle" letter-spacing="0.3">
<text x="470.5" y="84.8">111 Mm</text><text x="470.5" y="95.7">198 Mm</text>
</g>
<text x="470.8" y="128.9" font-size="13" text-anchor="middle" fill="#1a1200" stroke="#1a1200" stroke-width="0.25" letter-spacing="0.3">Emerging Flux</text>
<g font-size="13.5" fill="#000" stroke="#000" stroke-width="0.25">
<text transform="translate(596.5,115.5) rotate(10)">0</text>
<text transform="translate(587.5,165) rotate(5)">42</text>
<text transform="translate(582,206.8) rotate(9)" letter-spacing="0.4">75 Mm</text>
</g>
<text x="572" y="44.9" font-size="28.5" font-style="italic">b<tspan x="588.6" y="43" font-size="25" font-style="italic">)</tspan></text>
</g>
<g id="panel-c">
<defs>
<linearGradient id="gc1" gradientUnits="userSpaceOnUse" x1="400" y1="380" x2="640" y2="420"><stop offset="0" stop-color="#808080"/><stop offset="0.3" stop-color="#767676"/><stop offset="0.6" stop-color="#727272"/><stop offset="0.7" stop-color="#8a8a8a"/><stop offset="0.85" stop-color="#7c7c7c"/><stop offset="1" stop-color="#6a6a6a"/></linearGradient>
<linearGradient id="gc2" gradientUnits="userSpaceOnUse" x1="462" y1="340" x2="548" y2="360"><stop offset="0" stop-color="#828282"/><stop offset="0.5" stop-color="#8c8c8c"/><stop offset="1" stop-color="#a0a0a0"/></linearGradient>
<linearGradient id="gc3" gradientUnits="userSpaceOnUse" x1="524" y1="354" x2="503" y2="398"><stop offset="0" stop-color="#000" stop-opacity="0"/><stop offset="0.45" stop-color="#000" stop-opacity="0.1"/><stop offset="1" stop-color="#000" stop-opacity="0.36"/></linearGradient>
<linearGradient id="gc4" gradientUnits="userSpaceOnUse" x1="546" y1="395" x2="566" y2="391"><stop offset="0" stop-color="#565656"/><stop offset="0.45" stop-color="#6a6a6a"/><stop offset="1" stop-color="#848484" stop-opacity="0"/></linearGradient>
<radialGradient id="gc5" gradientUnits="userSpaceOnUse" cx="558" cy="423.5" r="6"><stop offset="0" stop-color="#dcdcdc"/><stop offset="0.5" stop-color="#a8a8a8" stop-opacity="0.6"/><stop offset="1" stop-color="#909090" stop-opacity="0"/></radialGradient>
<clipPath id="cc"><path d="M387.1,391.2 Q407,385.3 450,380.3 L459.3,378 L557.4,360.5 L646.1,411.1 L474.9,441.2 Z"/></clipPath>
<filter id="blc2" x="-50%" y="-50%" width="200%" height="200%"><feGaussianBlur stdDeviation="0.9"/></filter>
<filter id="blc" x="-20%" y="-20%" width="140%" height="140%"><feGaussianBlur stdDeviation="1.6"/></filter>
</defs>
<polygon points="387.1,391.2 474.9,441.2 474.9,455.2 387.1,404.7" fill="#00d8ff"/>
<polygon points="474.9,441.2 646.1,411.1 646.1,424.5 474.9,455.2" fill="#00d8ff"/>
<path d="M387.1,391.2 Q407,385.3 450,380.3 L459.3,378 L534.5,363.6 L557.4,360.5 L646.1,411.1 L474.9,441.2 Z" fill="url(#gc1)"/>
<g clip-path="url(#cc)">
<g filter="url(#blc)" fill="none">
<path d="M400,392 L557,427" stroke="#909090" stroke-width="2.5" opacity="0.7"/>
<path d="M456,380.5 L556,429" stroke="#a0a0a0" stroke-width="3.5" opacity="0.75"/>
<path d="M388,393 L430,388 L440,396 Z" stroke="#909090" stroke-width="4" opacity="0.6"/>
<path d="M430,392 L556,428" stroke="#5c5c5c" stroke-width="2.5" opacity="0.5"/>
<path d="M563,364 L600,386" stroke="#8c8c8c" stroke-width="6" opacity="0.5"/>
</g>
</g>
<path d="M459.3,378 C461.5,372 462.8,360 463.5,346.7 L465.7,310 L467.9,250 Q469.4,246.5 470.9,250 C471.5,262 472.5,276 476.7,293.7 C480,304 488,318 500.5,330.2 L520.7,352.2 L534.5,363.6 L544.6,371.5 L550,401 L556.5,426 Z" fill="url(#gc2)"/>
<path d="M459.3,378 C461.5,372 462.8,360 463.5,346.7 L465.7,310 L467.9,250 Q469.4,246.5 470.9,250 C471.5,262 472.5,276 476.7,293.7 C480,304 488,318 500.5,330.2 L520.7,352.2 L534.5,363.6 L544.6,371.5 L550,401 L556.5,426 Z" fill="url(#gc3)"/>
<path d="M544.6,371.5 L550,401 L556.5,426 L566,424 L560,395 L553,366 Z" fill="url(#gc4)"/>
<g clip-path="url(#cc)"><path d="M556.3,414 L562.5,425.5 L555.5,428 Z" fill="#e0e0e0" filter="url(#blc2)"/><path d="M545,372.5 L550.3,401 L556.6,424" fill="none" stroke="#b4b4b4" stroke-width="0.9" opacity="0.8"/></g>
<path d="M459.3,378 C461.5,372 462.8,360 463.5,346.7 L465.7,310 L468,250.5 Q469.4,246.2 470.8,250.5 C471.5,262 472.5,276 476.7,293.7 C480,304 488,318 500.5,330.2 L520.7,352.2 L534.5,363.6" fill="none" stroke="#1010e8" stroke-width="2.2" stroke-linejoin="round"/>
<g stroke="#d26464" stroke-width="1" fill="none">
<path d="M375.8,245 V408 L474,461.9 L650,430.4"/>
<path d="M375.8,408 h4.5"/>
<path d="M375.8,399.85 h2.2"/>
<path d="M375.8,391.7 h2.2"/>
<path d="M375.8,383.55 h2.2"/>
<path d="M375.8,375.4 h2.2"/>
<path d="M375.8,367.25 h4.5"/>
<path d="M375.8,359.1 h2.2"/>
<path d="M375.8,350.95 h2.2"/>
<path d="M375.8,342.8 h2.2"/>
<path d="M375.8,334.65 h2.2"/>
<path d="M375.8,326.5 h4.5"/>
<path d="M375.8,318.35 h2.2"/>
<path d="M375.8,310.2 h2.2"/>
<path d="M375.8,302.05 h2.2"/>
<path d="M375.8,293.9 h2.2"/>
<path d="M375.8,285.75 h4.5"/>
<path d="M375.8,277.6 h2.2"/>
<path d="M375.8,269.45 h2.2"/>
<path d="M375.8,261.3 h2.2"/>
<path d="M375.8,253.15 h2.2"/>
<path d="M375.8,245 h4.5"/>
<path d="M474,461.9 l3.94,-0.7"/>
<path d="M471.33,460.42 l1.77,-0.32"/>
<path d="M468.67,458.94 l1.77,-0.32"/>
<path d="M466,457.46 l1.77,-0.32"/>
<path d="M463.33,455.98 l1.77,-0.32"/>
<path d="M460.67,454.5 l1.77,-0.32"/>
<path d="M458,453.02 l1.77,-0.32"/>
<path d="M455.33,451.54 l1.77,-0.32"/>
<path d="M452.67,450.06 l1.77,-0.32"/>
<path d="M450,448.58 l1.77,-0.32"/>
<path d="M447.33,447.1 l3.94,-0.7"/>
<path d="M444.67,445.62 l1.77,-0.32"/>
<path d="M442,444.14 l1.77,-0.32"/>
<path d="M439.33,442.66 l1.77,-0.32"/>
<path d="M436.67,441.18 l1.77,-0.32"/>
<path d="M434,439.7 l1.77,-0.32"/>
<path d="M431.33,438.22 l1.77,-0.32"/>
<path d="M428.67,436.74 l1.77,-0.32"/>
<path d="M426,435.26 l1.77,-0.32"/>
<path d="M423.33,433.78 l1.77,-0.32"/>
<path d="M420.67,432.3 l3.94,-0.7"/>
<path d="M418,430.82 l1.77,-0.32"/>
<path d="M415.33,429.34 l1.77,-0.32"/>
<path d="M412.67,427.86 l1.77,-0.32"/>
<path d="M410,426.38 l1.77,-0.32"/>
<path d="M407.33,424.9 l1.77,-0.32"/>
<path d="M404.67,423.42 l1.77,-0.32"/>
<path d="M402,421.94 l1.77,-0.32"/>
<path d="M399.33,420.46 l1.77,-0.32"/>
<path d="M396.67,418.98 l1.77,-0.32"/>
<path d="M394,417.5 l3.94,-0.7"/>
<path d="M391.33,416.02 l1.77,-0.32"/>
<path d="M388.67,414.54 l1.77,-0.32"/>
<path d="M386,413.06 l1.77,-0.32"/>
<path d="M383.33,411.58 l1.77,-0.32"/>
<path d="M380.67,410.1 l1.77,-0.32"/>
<path d="M378,408.62 l1.77,-0.32"/>
<path d="M375.33,407.14 l1.77,-0.32"/>
<path d="M474,461.9 l-2,-3.48"/>
<path d="M478.89,461.02 l-0.9,-1.57"/>
<path d="M483.78,460.15 l-0.9,-1.57"/>
<path d="M488.67,459.27 l-0.9,-1.57"/>
<path d="M493.56,458.4 l-0.9,-1.57"/>
<path d="M498.44,457.52 l-0.9,-1.57"/>
<path d="M503.33,456.65 l-0.9,-1.57"/>
<path d="M508.22,455.77 l-0.9,-1.57"/>
<path d="M513.11,454.9 l-0.9,-1.57"/>
<path d="M518,454.02 l-0.9,-1.57"/>
<path d="M522.89,453.15 l-2,-3.48"/>
<path d="M527.78,452.27 l-0.9,-1.57"/>
<path d="M532.67,451.4 l-0.9,-1.57"/>
<path d="M537.56,450.52 l-0.9,-1.57"/>
<path d="M542.44,449.65 l-0.9,-1.57"/>
<path d="M547.33,448.77 l-0.9,-1.57"/>
<path d="M552.22,447.9 l-0.9,-1.57"/>
<path d="M557.11,447.02 l-0.9,-1.57"/>
<path d="M562,446.15 l-0.9,-1.57"/>
<path d="M566.89,445.27 l-0.9,-1.57"/>
<path d="M571.78,444.4 l-2,-3.48"/>
<path d="M576.67,443.52 l-0.9,-1.57"/>
<path d="M581.56,442.65 l-0.9,-1.57"/>
<path d="M586.44,441.77 l-0.9,-1.57"/>
<path d="M591.33,440.9 l-0.9,-1.57"/>
<path d="M596.22,440.02 l-0.9,-1.57"/>
<path d="M601.11,439.15 l-0.9,-1.57"/>
<path d="M606,438.27 l-0.9,-1.57"/>
<path d="M610.89,437.4 l-0.9,-1.57"/>
<path d="M615.78,436.52 l-0.9,-1.57"/>
<path d="M620.67,435.65 l-2,-3.48"/>
<path d="M625.56,434.77 l-0.9,-1.57"/>
<path d="M630.44,433.9 l-0.9,-1.57"/>
<path d="M635.33,433.02 l-0.9,-1.57"/>
<path d="M640.22,432.15 l-0.9,-1.57"/>
<path d="M645.11,431.27 l-0.9,-1.57"/>
<path d="M650,430.4 l-0.9,-1.57"/>
</g>
<g font-size="13.3" fill="#000" stroke="#000" stroke-width="0.15" text-anchor="end" letter-spacing="0.3">
<text x="372.5" y="249">7.0</text>
<text x="372.5" y="289.7">6.5</text>
<text x="372.5" y="330.5">6.0</text>
<text x="372.5" y="371.2">5.5</text>
<text x="372.5" y="412">5.0</text>
</g>
<g font-size="13.3" fill="#000" stroke="#000" stroke-width="0.15" text-anchor="middle" letter-spacing="0.35">
<text x="379.6" y="424.5">300</text><text x="406" y="440.9">200</text><text x="434.8" y="455.3">100</text><text x="465.6" y="468">0</text>
<text x="533.8" y="463.2">100</text><text x="582" y="454.4">200</text><text x="629.6" y="446">300</text>
</g>
<text transform="translate(346.8,376.5) rotate(-90)" font-size="13.1" stroke="#000" stroke-width="0.15" letter-spacing="0.8">radius [10<tspan font-size="9" dy="-4.8">2</tspan><tspan dy="4.8"> Mm]</tspan></text>
<text transform="translate(377.5,444.5) rotate(30)" font-size="13.2" stroke="#000" stroke-width="0.2" letter-spacing="0.3" font-style="italic">time [d]</text>
<text transform="translate(491.3,450) rotate(-10)" font-size="13.8" stroke="#000" stroke-width="0.3" letter-spacing="0.35">overshoot tachocline zone</text>
<text transform="translate(498.4,490.2) rotate(-10.3)" font-size="13.5" stroke="#000" stroke-width="0.25" letter-spacing="0.5">heliograph. longitude <tspan font-style="italic">ϕ</tspan> [°]</text>
<text x="575.3" y="284.9" font-size="27.5" font-style="italic">c<tspan x="589.3" y="283" font-size="24.6" font-style="normal">)</tspan></text>
</g>
<g id="panel-d">
<defs>
<filter id="nz" x="0" y="0" width="100%" height="100%" color-interpolation-filters="sRGB"><feTurbulence type="fractalNoise" baseFrequency="0.85" numOctaves="2" seed="3"/><feColorMatrix type="matrix" values="0.24 0 0 0 0.30  0.24 0 0 0 0.288  0.24 0 0 0 0.28  0 0 0 0 1"/></filter>
<filter id="nz2" x="0" y="0" width="100%" height="100%" color-interpolation-filters="sRGB"><feTurbulence type="fractalNoise" baseFrequency="0.9" numOctaves="2" seed="8"/><feColorMatrix type="matrix" values="0.45 0 0 0 0.6  0.45 0 0 0 0.6  0.45 0 0 0 0.6  0 0 0 0 1"/></filter>
<filter id="rough" x="-30%" y="-30%" width="160%" height="160%"><feTurbulence type="fractalNoise" baseFrequency="0.11" numOctaves="3" seed="5" result="t"/><feDisplacementMap in="SourceGraphic" in2="t" scale="16" xChannelSelector="R" yChannelSelector="G"/><feGaussianBlur stdDeviation="0.45"/></filter>
<filter id="rough2" x="-30%" y="-30%" width="160%" height="160%"><feTurbulence type="fractalNoise" baseFrequency="0.3" numOctaves="2" seed="9" result="t"/><feDisplacementMap in="SourceGraphic" in2="t" scale="5" xChannelSelector="R" yChannelSelector="G"/><feGaussianBlur stdDeviation="0.6"/></filter>
<filter id="bl0" x="0" y="0" width="100%" height="100%"><feGaussianBlur stdDeviation="0.35"/></filter>
<filter id="bl05" x="-10%" y="-10%" width="120%" height="120%"><feGaussianBlur stdDeviation="0.85"/></filter>
<filter id="bl1" x="-30%" y="-30%" width="160%" height="160%"><feGaussianBlur stdDeviation="1.2"/></filter>
<filter id="bl3" x="-30%" y="-30%" width="160%" height="160%"><feGaussianBlur stdDeviation="3"/></filter>
<radialGradient id="gsp" gradientUnits="userSpaceOnUse" cx="158" cy="343.5" r="53"><stop offset="0" stop-color="#141212" stop-opacity="1"/><stop offset="0.7" stop-color="#1c1a1a" stop-opacity="0.85"/><stop offset="0.87" stop-color="#2a2626" stop-opacity="0.5"/><stop offset="1" stop-color="#3a3838" stop-opacity="0"/></radialGradient>
<clipPath id="cd"><rect x="33.8" y="251.7" width="244.9" height="207.1"/></clipPath>
<clipPath id="cdi"><rect x="181" y="392.5" width="97.7" height="66.3"/></clipPath>
</defs>
<rect x="33.8" y="251.7" width="244.9" height="207.1" fill="#707070" filter="url(#nz)"/>
<g clip-path="url(#cd)">
<g fill="#202020" filter="url(#rough2)" opacity="0.7">
<ellipse cx="63" cy="275" rx="3.12" ry="2.49"/>
<circle cx="65.66" cy="276.89" r="1.08"/>
<circle cx="59.02" cy="279.1" r="1.35"/>
<circle cx="63.17" cy="275.07" r="0.89"/>
<ellipse cx="58" cy="279" rx="1.95" ry="1.37"/>
<circle cx="56.19" cy="280.2" r="0.76"/>
<circle cx="62.11" cy="275.25" r="0.89"/>
<circle cx="51.59" cy="285.97" r="1.29"/>
<ellipse cx="68" cy="271" rx="1.56" ry="1.91"/>
<circle cx="69.62" cy="264.48" r="0.96"/>
<circle cx="67.97" cy="265.62" r="1.46"/>
<circle cx="66.16" cy="266.17" r="1.35"/>
<ellipse cx="52.6" cy="395" rx="3.12" ry="2.42"/>
<circle cx="58.59" cy="394.34" r="1.14"/>
<circle cx="50.4" cy="394.79" r="0.85"/>
<circle cx="46.12" cy="400.12" r="0.89"/>
<ellipse cx="39" cy="366" rx="2.34" ry="2.73"/>
<circle cx="34.92" cy="372.56" r="1.42"/>
<circle cx="42.57" cy="369.68" r="1.16"/>
<circle cx="42.22" cy="360.71" r="1.08"/>
<ellipse cx="44" cy="380" rx="2.34" ry="2.8"/>
<circle cx="39.82" cy="385.92" r="1.41"/>
<circle cx="42.73" cy="378.11" r="1.06"/>
<circle cx="42.4" cy="386.93" r="1.01"/>
<ellipse cx="48" cy="405" rx="2.34" ry="1.68"/>
<circle cx="42.31" cy="408.05" r="1.49"/>
<circle cx="47.94" cy="404.88" r="1.14"/>
<circle cx="51.47" cy="401.11" r="1.19"/>
<ellipse cx="55" cy="415" rx="1.95" ry="2.02"/>
<circle cx="56.72" cy="410.53" r="0.84"/>
<circle cx="52.87" cy="420.98" r="0.98"/>
<circle cx="56.36" cy="412.29" r="0.78"/>
<ellipse cx="77.4" cy="363.5" rx="1.95" ry="1.44"/>
<circle cx="81.79" cy="367.38" r="1"/>
<circle cx="79.97" cy="365.96" r="1.42"/>
<circle cx="83.82" cy="362.2" r="1.49"/>
<ellipse cx="71.8" cy="378" rx="1.95" ry="2.49"/>
<circle cx="73.07" cy="383.36" r="1.09"/>
<circle cx="70.06" cy="374.46" r="1.4"/>
<circle cx="67.07" cy="371.97" r="1.34"/>
<ellipse cx="101" cy="384" rx="2.34" ry="2.72"/>
<circle cx="100.76" cy="388.72" r="0.74"/>
<circle cx="97.61" cy="381.06" r="1.04"/>
<circle cx="96.39" cy="377.97" r="0.97"/>
<ellipse cx="122.5" cy="423.4" rx="2.73" ry="3.38"/>
<circle cx="129.27" cy="426.84" r="1.08"/>
<circle cx="119.03" cy="429.82" r="1.12"/>
<circle cx="125.7" cy="416.8" r="0.87"/>
<ellipse cx="92" cy="434.6" rx="1.95" ry="2.35"/>
<circle cx="96.13" cy="439.94" r="1.18"/>
<circle cx="90.97" cy="435.74" r="1.38"/>
<circle cx="89.31" cy="435.08" r="0.92"/>
<ellipse cx="66" cy="447" rx="1.95" ry="2.26"/>
<circle cx="59.14" cy="449.59" r="1.46"/>
<circle cx="59.33" cy="448.31" r="1.22"/>
<circle cx="70.92" cy="448.18" r="0.91"/>
<ellipse cx="60" cy="436" rx="1.56" ry="1.47"/>
<circle cx="66.42" cy="441.68" r="0.81"/>
<circle cx="54.33" cy="430.32" r="0.72"/>
<circle cx="59.26" cy="430.97" r="1.39"/>
<ellipse cx="40" cy="352" rx="1.56" ry="1.71"/>
<circle cx="34.77" cy="352.54" r="0.96"/>
<circle cx="39.91" cy="348.07" r="0.83"/>
<circle cx="35.58" cy="350.29" r="1.27"/>
<ellipse cx="214.3" cy="315" rx="2.5" ry="2.57"/>
<circle cx="207.95" cy="317.95" r="1.4"/>
<circle cx="218.14" cy="319.07" r="0.71"/>
<circle cx="213.79" cy="308.89" r="1.31"/>
<ellipse cx="223" cy="267" rx="1.95" ry="1.57"/>
<circle cx="225.96" cy="263.54" r="1.26"/>
<circle cx="220.39" cy="260.59" r="1.01"/>
<circle cx="220.33" cy="272.61" r="0.94"/>
<ellipse cx="228" cy="275" rx="1.56" ry="1.56"/>
<circle cx="228.69" cy="281.28" r="0.78"/>
<circle cx="229.42" cy="275.11" r="1.29"/>
<circle cx="234.54" cy="272.34" r="1.26"/>
<ellipse cx="234" cy="283" rx="1.95" ry="1.98"/>
<circle cx="234.85" cy="276.89" r="1.35"/>
<circle cx="240.68" cy="280.97" r="0.95"/>
<circle cx="240.91" cy="277.51" r="0.76"/>
<ellipse cx="238.7" cy="296" rx="1.95" ry="1.45"/>
<circle cx="243.1" cy="299.64" r="1.06"/>
<circle cx="240.4" cy="289.28" r="1.22"/>
<circle cx="237.9" cy="296.24" r="1.01"/>
<ellipse cx="261" cy="289" rx="2.34" ry="2.2"/>
<circle cx="257.16" cy="282.68" r="1.05"/>
<circle cx="257.46" cy="291.86" r="1.35"/>
<circle cx="264.13" cy="288.38" r="0.89"/>
<ellipse cx="270" cy="287" rx="1.95" ry="1.82"/>
<circle cx="269.81" cy="288.85" r="1.47"/>
<circle cx="264.2" cy="286.72" r="1.09"/>
<circle cx="273.04" cy="292.47" r="1.32"/>
<ellipse cx="254" cy="258" rx="1.95" ry="2.1"/>
<circle cx="257.62" cy="260.35" r="1.39"/>
<circle cx="256.79" cy="260.56" r="0.9"/>
<circle cx="259.83" cy="256.4" r="1.19"/>
<ellipse cx="265" cy="267" rx="1.95" ry="2.33"/>
<circle cx="271.49" cy="273.85" r="0.71"/>
<circle cx="262.38" cy="264.36" r="1.01"/>
<circle cx="260.04" cy="267.75" r="0.76"/>
<ellipse cx="265" cy="309" rx="1.95" ry="1.72"/>
<circle cx="271.21" cy="312.39" r="1.07"/>
<circle cx="259.52" cy="315.38" r="1.26"/>
<circle cx="260.88" cy="306.69" r="1.21"/>
<ellipse cx="246" cy="281" rx="1.56" ry="1.73"/>
<circle cx="242.65" cy="287.32" r="0.96"/>
<circle cx="242.56" cy="285.84" r="0.82"/>
<circle cx="248.54" cy="276.8" r="1.18"/>
<ellipse cx="252" cy="300" rx="1.56" ry="1.35"/>
<circle cx="250.31" cy="306.17" r="1.07"/>
<circle cx="251.12" cy="301.64" r="0.92"/>
<circle cx="247.44" cy="298.38" r="0.92"/>
<ellipse cx="274" cy="384.5" rx="3.12" ry="2.54"/>
<circle cx="280.45" cy="377.98" r="1.35"/>
<circle cx="280.09" cy="387.36" r="0.72"/>
<circle cx="274.02" cy="378.05" r="1.19"/>
<ellipse cx="268" cy="378" rx="1.95" ry="2.18"/>
<circle cx="264.36" cy="371.11" r="1.14"/>
<circle cx="262.32" cy="375.33" r="1.06"/>
<circle cx="273.52" cy="376.18" r="0.81"/>
<ellipse cx="205" cy="374" rx="2.34" ry="2.75"/>
<circle cx="209.51" cy="374.41" r="0.74"/>
<circle cx="200.63" cy="372.64" r="1.14"/>
<circle cx="201.15" cy="378.23" r="1.37"/>
<ellipse cx="232" cy="340" rx="1.56" ry="1.96"/>
<circle cx="237.37" cy="333.25" r="1.17"/>
<circle cx="226.13" cy="345.6" r="1.3"/>
<circle cx="235.63" cy="335.64" r="0.75"/>
<ellipse cx="246" cy="352" rx="1.56" ry="1.86"/>
<circle cx="247.49" cy="353.68" r="1.08"/>
<circle cx="250.2" cy="349.73" r="0.92"/>
<circle cx="243.94" cy="349.17" r="1.2"/>
<ellipse cx="150" cy="262" rx="1.56" ry="1.93"/>
<circle cx="143.99" cy="255.95" r="1.11"/>
<circle cx="152.49" cy="257.66" r="0.92"/>
<circle cx="143.82" cy="255.52" r="1.1"/>
<ellipse cx="175" cy="270" rx="1.95" ry="2.16"/>
<circle cx="177.14" cy="265.21" r="0.78"/>
<circle cx="181.03" cy="270.54" r="1.03"/>
<circle cx="177.67" cy="273.19" r="1.12"/>
<ellipse cx="96" cy="300" rx="1.4" ry="1.05"/>
<circle cx="100.58" cy="295.99" r="0.73"/>
<circle cx="93.93" cy="300.46" r="1.2"/>
<circle cx="91.44" cy="302.93" r="1.1"/>
<ellipse cx="231" cy="323" rx="1.56" ry="1.24"/>
<circle cx="235.91" cy="327.29" r="1.43"/>
<circle cx="233.51" cy="319.04" r="1.32"/>
<circle cx="236.64" cy="323.47" r="1.43"/>
<ellipse cx="240" cy="362" rx="1.56" ry="2"/>
<circle cx="238.46" cy="368.19" r="1.45"/>
<circle cx="244.11" cy="355.16" r="0.98"/>
<circle cx="241.59" cy="363.5" r="1.3"/>
<ellipse cx="258" cy="330" rx="1.4" ry="1.53"/>
<circle cx="253.26" cy="336.03" r="1.13"/>
<circle cx="263.34" cy="325.9" r="1.5"/>
<circle cx="258.77" cy="333.86" r="1.29"/>
<ellipse cx="272" cy="345" rx="1.56" ry="1.92"/>
<circle cx="270.07" cy="339.16" r="1.02"/>
<circle cx="267.5" cy="345.56" r="1.35"/>
<circle cx="270.07" cy="339.83" r="0.72"/>
<ellipse cx="84" cy="330" rx="1.17" ry="1.12"/>
<circle cx="85.13" cy="323.37" r="1.23"/>
<circle cx="79.95" cy="324.5" r="1.44"/>
<circle cx="84.32" cy="335.53" r="1.11"/>
<ellipse cx="70" cy="300" rx="1.17" ry="0.91"/>
<circle cx="66.36" cy="298.94" r="1.21"/>
<circle cx="73.79" cy="303.52" r="1.22"/>
<circle cx="66.54" cy="299.02" r="1"/>
<ellipse cx="110" cy="270" rx="1.17" ry="1.16"/>
<circle cx="106.72" cy="270.53" r="1.07"/>
<circle cx="103.5" cy="274.52" r="1.17"/>
<circle cx="114.24" cy="273.31" r="1.28"/>
<ellipse cx="130" cy="446" rx="1.56" ry="2.02"/>
<circle cx="128.28" cy="444.51" r="0.7"/>
<circle cx="132.3" cy="447.14" r="1.16"/>
<circle cx="136.97" cy="441.76" r="0.88"/>
<ellipse cx="175" cy="440" rx="1.56" ry="1.78"/>
<circle cx="179.37" cy="439.76" r="0.74"/>
<circle cx="173.19" cy="444.57" r="1.1"/>
<circle cx="174.46" cy="438.45" r="1.2"/>
</g>
<circle cx="158" cy="343.5" r="53" fill="url(#gsp)"/>
<g stroke="#181414" stroke-linecap="round" filter="url(#bl05)" opacity="0.6">
<line x1="141.71" y1="331.9" x2="115.31" y2="313.1" stroke-width="1.65"/>
<line x1="158.16" y1="323.5" x2="158.34" y2="302.25" stroke-width="0.98"/>
<line x1="161.98" y1="323.9" x2="167.37" y2="297.34" stroke-width="1.72"/>
<line x1="164.32" y1="362.47" x2="173.14" y2="388.91" stroke-width="1.68"/>
<line x1="175.69" y1="352.83" x2="193.66" y2="362.3" stroke-width="1.4"/>
<line x1="170.14" y1="359.39" x2="186.92" y2="381.35" stroke-width="0.99"/>
<line x1="149.75" y1="325.28" x2="140.22" y2="304.22" stroke-width="0.94"/>
<line x1="163.34" y1="362.77" x2="169.48" y2="384.9" stroke-width="1.48"/>
<line x1="162.01" y1="363.09" x2="167.15" y2="388.18" stroke-width="1.07"/>
<line x1="146.17" y1="327.37" x2="131.06" y2="306.78" stroke-width="0.91"/>
<line x1="170.65" y1="358.99" x2="181.28" y2="372.01" stroke-width="1.47"/>
<line x1="140.87" y1="353.82" x2="120.71" y2="365.98" stroke-width="1.67"/>
<line x1="146.74" y1="326.97" x2="135.49" y2="310.47" stroke-width="1.5"/>
<line x1="141.43" y1="332.29" x2="117.82" y2="316.32" stroke-width="1.25"/>
<line x1="177.44" y1="338.8" x2="198.08" y2="333.8" stroke-width="1.4"/>
<line x1="144.84" y1="328.44" x2="127.74" y2="308.86" stroke-width="1.08"/>
<line x1="158.63" y1="323.51" x2="159.4" y2="298.62" stroke-width="1.2"/>
<line x1="138.07" y1="341.77" x2="112.03" y2="339.51" stroke-width="1.57"/>
<line x1="177.84" y1="345.99" x2="202.65" y2="349.11" stroke-width="1.2"/>
<line x1="161.58" y1="363.18" x2="165.91" y2="387" stroke-width="1.34"/>
<line x1="175.1" y1="353.87" x2="194.65" y2="365.73" stroke-width="0.88"/>
<line x1="164.07" y1="324.44" x2="170.32" y2="304.84" stroke-width="1.06"/>
<line x1="162.31" y1="363.03" x2="165.91" y2="379.31" stroke-width="0.91"/>
<line x1="169.58" y1="359.8" x2="183.91" y2="379.97" stroke-width="1.63"/>
<line x1="161.62" y1="363.17" x2="164.8" y2="380.44" stroke-width="1.29"/>
<line x1="172.95" y1="356.78" x2="189.15" y2="371.18" stroke-width="1.54"/>
<line x1="163.8" y1="362.64" x2="171.28" y2="387.33" stroke-width="1.29"/>
<line x1="175.22" y1="353.68" x2="191.91" y2="363.55" stroke-width="1.36"/>
<line x1="174.45" y1="354.87" x2="189.96" y2="365.59" stroke-width="1.33"/>
<line x1="166.3" y1="325.3" x2="175.96" y2="304.12" stroke-width="1.43"/>
<line x1="177.97" y1="344.64" x2="198.17" y2="345.79" stroke-width="1.05"/>
<line x1="175.11" y1="333.15" x2="193.09" y2="322.28" stroke-width="1.56"/>
<line x1="177.54" y1="347.78" x2="199.98" y2="352.7" stroke-width="1.68"/>
<line x1="160.67" y1="323.68" x2="163.89" y2="299.78" stroke-width="0.9"/>
<line x1="175.89" y1="334.56" x2="191.2" y2="326.9" stroke-width="1.76"/>
<line x1="161.28" y1="323.77" x2="165.56" y2="298.05" stroke-width="1.28"/>
<line x1="168.29" y1="360.65" x2="178.98" y2="378.46" stroke-width="1.43"/>
<line x1="146.86" y1="326.89" x2="132.6" y2="305.62" stroke-width="1.58"/>
<line x1="176.88" y1="350.09" x2="195.79" y2="356.68" stroke-width="0.8"/>
<line x1="148.94" y1="361.33" x2="134.93" y2="388.92" stroke-width="1.53"/>
<line x1="169.82" y1="359.63" x2="181.83" y2="376.02" stroke-width="0.82"/>
<line x1="147.49" y1="326.49" x2="133.72" y2="304.21" stroke-width="0.95"/>
<line x1="143.93" y1="357.72" x2="119.87" y2="382.03" stroke-width="1.17"/>
<line x1="150.74" y1="324.87" x2="140.67" y2="299.04" stroke-width="1.22"/>
<line x1="139.24" y1="336.56" x2="112.95" y2="326.83" stroke-width="0.92"/>
<line x1="138.01" y1="344.2" x2="110.52" y2="345.16" stroke-width="1.06"/>
<line x1="165.76" y1="361.93" x2="176.94" y2="388.46" stroke-width="1.17"/>
<line x1="164.15" y1="362.53" x2="169.21" y2="378.18" stroke-width="0.94"/>
<line x1="171.55" y1="328.79" x2="185.59" y2="313.55" stroke-width="1.43"/>
<line x1="160.44" y1="363.35" x2="163.51" y2="388.27" stroke-width="1.2"/>
<line x1="156.29" y1="323.57" x2="154.24" y2="299.6" stroke-width="1.11"/>
<line x1="154.24" y1="363.14" x2="149.39" y2="388.5" stroke-width="1.62"/>
<line x1="150.82" y1="324.83" x2="141.68" y2="301.05" stroke-width="1.06"/>
<line x1="173.52" y1="330.89" x2="195.14" y2="313.33" stroke-width="0.86"/>
<line x1="149.4" y1="325.44" x2="136.31" y2="297.97" stroke-width="1.44"/>
<line x1="177.5" y1="339.06" x2="205.1" y2="332.77" stroke-width="0.97"/>
<line x1="178" y1="343.09" x2="198.58" y2="342.67" stroke-width="1.12"/>
<line x1="177.78" y1="340.54" x2="195.92" y2="337.83" stroke-width="1.13"/>
<line x1="143.94" y1="329.28" x2="126.46" y2="311.6" stroke-width="0.99"/>
<line x1="163.48" y1="324.27" x2="170.22" y2="300.63" stroke-width="1.52"/>
<line x1="162.96" y1="324.13" x2="169.96" y2="296.8" stroke-width="1.68"/>
<line x1="166.9" y1="325.59" x2="180.11" y2="298.99" stroke-width="1.25"/>
<line x1="152.01" y1="324.42" x2="144.36" y2="300.07" stroke-width="1.77"/>
<line x1="146.76" y1="326.96" x2="132" y2="305.22" stroke-width="1.43"/>
<line x1="152.43" y1="362.71" x2="146.95" y2="381.64" stroke-width="1.12"/>
<line x1="171.05" y1="358.66" x2="181.52" y2="370.83" stroke-width="0.8"/>
<line x1="138.82" y1="349.16" x2="105.49" y2="358.99" stroke-width="0.75"/>
<line x1="144.93" y1="328.36" x2="130.58" y2="311.72" stroke-width="1.26"/>
<line x1="152.33" y1="362.68" x2="145.4" y2="386.08" stroke-width="1.48"/>
<line x1="140.89" y1="353.85" x2="117.04" y2="368.28" stroke-width="1.5"/>
<line x1="172.93" y1="356.81" x2="188.52" y2="370.7" stroke-width="1.47"/>
<line x1="168.17" y1="326.28" x2="183.29" y2="300.7" stroke-width="0.98"/>
<line x1="143.88" y1="329.34" x2="125.86" y2="311.28" stroke-width="1.47"/>
<line x1="169.37" y1="327.04" x2="179.53" y2="312.32" stroke-width="1.08"/>
<line x1="176.42" y1="335.7" x2="195.69" y2="327.54" stroke-width="1.4"/>
<line x1="166.35" y1="325.32" x2="174.65" y2="307.24" stroke-width="1.56"/>
<line x1="177.99" y1="343.96" x2="198.76" y2="344.43" stroke-width="0.88"/>
<line x1="146.67" y1="359.98" x2="133.66" y2="378.9" stroke-width="0.73"/>
<line x1="164.55" y1="324.6" x2="170.59" y2="307.19" stroke-width="1.33"/>
<line x1="139.15" y1="336.82" x2="105.2" y2="324.8" stroke-width="1.63"/>
<line x1="143.56" y1="329.66" x2="126.71" y2="313.5" stroke-width="1.54"/>
<line x1="174.36" y1="355" x2="198.09" y2="371.68" stroke-width="1.04"/>
<line x1="157.65" y1="363.5" x2="157.32" y2="382.65" stroke-width="1.14"/>
<line x1="163.16" y1="324.18" x2="170.38" y2="297.16" stroke-width="1.52"/>
<line x1="155.41" y1="323.67" x2="152.77" y2="303.5" stroke-width="1.05"/>
<line x1="151.32" y1="362.35" x2="143.1" y2="385.53" stroke-width="1.66"/>
<line x1="177.99" y1="342.99" x2="195.16" y2="342.56" stroke-width="1.76"/>
<line x1="175.43" y1="333.69" x2="194.99" y2="322.67" stroke-width="1.46"/>
<line x1="162.3" y1="323.97" x2="166.3" y2="305.79" stroke-width="1.38"/>
<line x1="177.87" y1="341.21" x2="206.01" y2="337.95" stroke-width="1.7"/>
<line x1="175.23" y1="353.65" x2="197.64" y2="366.85" stroke-width="1.24"/>
<line x1="174.83" y1="332.7" x2="190.27" y2="322.8" stroke-width="1.3"/>
<line x1="172.53" y1="357.25" x2="192.33" y2="375.98" stroke-width="1.49"/>
<line x1="177.62" y1="347.39" x2="197.56" y2="351.34" stroke-width="0.86"/>
<line x1="144.82" y1="328.46" x2="124.95" y2="305.8" stroke-width="0.77"/>
<line x1="177.06" y1="337.43" x2="205.17" y2="328.46" stroke-width="1.18"/>
<line x1="140.13" y1="334.51" x2="115.39" y2="322.07" stroke-width="1.37"/>
<line x1="141.94" y1="355.42" x2="119.24" y2="372.26" stroke-width="1.52"/>
<line x1="165.77" y1="361.93" x2="173.62" y2="380.52" stroke-width="1.54"/>
<line x1="161.13" y1="363.25" x2="163.79" y2="380.01" stroke-width="1.7"/>
<line x1="168.77" y1="360.35" x2="180.48" y2="378.69" stroke-width="1.04"/>
<line x1="156.53" y1="363.45" x2="154.96" y2="384.86" stroke-width="1.29"/>
<line x1="172.91" y1="356.83" x2="190.41" y2="372.46" stroke-width="0.76"/>
<line x1="175.59" y1="353.01" x2="192.15" y2="361.97" stroke-width="0.96"/>
<line x1="147.12" y1="360.28" x2="134.07" y2="380.42" stroke-width="1.62"/>
<line x1="147.07" y1="326.75" x2="132.42" y2="304.29" stroke-width="1.55"/>
<line x1="150.16" y1="325.1" x2="141.04" y2="303.7" stroke-width="1.38"/>
<line x1="157.43" y1="323.51" x2="156.75" y2="299.81" stroke-width="1.53"/>
<line x1="144.57" y1="328.68" x2="121.12" y2="302.82" stroke-width="0.99"/>
<line x1="148.54" y1="325.88" x2="132.5" y2="296.01" stroke-width="1.28"/>
<line x1="174.56" y1="332.28" x2="188.9" y2="322.57" stroke-width="1.5"/>
<line x1="156.07" y1="363.41" x2="153.44" y2="390.59" stroke-width="1.17"/>
<line x1="138.48" y1="339.13" x2="112.71" y2="333.37" stroke-width="0.98"/>
<line x1="171.27" y1="328.54" x2="187.87" y2="309.83" stroke-width="1.39"/>
<line x1="172.94" y1="356.8" x2="187.96" y2="370.16" stroke-width="1.76"/>
<line x1="163.79" y1="362.64" x2="170.61" y2="385.16" stroke-width="1.47"/>
<line x1="138.04" y1="342.18" x2="106.49" y2="340.1" stroke-width="1.77"/>
<line x1="161.92" y1="323.89" x2="165.71" y2="304.94" stroke-width="1.17"/>
<line x1="140.49" y1="353.17" x2="111.82" y2="369" stroke-width="1.44"/>
<line x1="156.62" y1="363.45" x2="154.81" y2="389.65" stroke-width="1.17"/>
<line x1="177.91" y1="345.42" x2="197.9" y2="347.34" stroke-width="1.11"/>
<line x1="164.55" y1="362.4" x2="172.86" y2="386.39" stroke-width="1.79"/>
<line x1="176.18" y1="335.16" x2="198.73" y2="324.81" stroke-width="1.64"/>
<line x1="138.03" y1="344.55" x2="105.91" y2="346.23" stroke-width="1.68"/>
<line x1="176.61" y1="350.82" x2="196.22" y2="358.54" stroke-width="1.11"/>
<line x1="147.17" y1="360.32" x2="133.06" y2="382.25" stroke-width="0.76"/>
<line x1="149.38" y1="325.45" x2="135.05" y2="295.47" stroke-width="0.96"/>
<line x1="165.86" y1="361.89" x2="173.98" y2="380.91" stroke-width="1.58"/>
<line x1="160.94" y1="363.28" x2="164.88" y2="389.78" stroke-width="0.89"/>
<line x1="141.46" y1="332.25" x2="114.21" y2="313.72" stroke-width="1.44"/>
<line x1="175.25" y1="353.62" x2="200.6" y2="368.49" stroke-width="1.63"/>
<line x1="138.14" y1="345.88" x2="101.79" y2="350.25" stroke-width="1.36"/>
<line x1="167.79" y1="360.94" x2="178.35" y2="379.74" stroke-width="1.6"/>
<line x1="138.52" y1="348.02" x2="116.11" y2="353.21" stroke-width="0.88"/>
<line x1="165.8" y1="361.91" x2="175.25" y2="384.2" stroke-width="1.41"/>
<line x1="139.06" y1="349.94" x2="111.84" y2="359.19" stroke-width="1.76"/>
<line x1="146.98" y1="360.19" x2="130.5" y2="385.15" stroke-width="0.93"/>
<line x1="138.08" y1="341.73" x2="112.76" y2="339.49" stroke-width="0.82"/>
<line x1="147.63" y1="360.6" x2="136.68" y2="378.66" stroke-width="1.12"/>
<line x1="146.54" y1="327.11" x2="130.39" y2="304" stroke-width="1.58"/>
<line x1="138.2" y1="346.34" x2="114.64" y2="349.73" stroke-width="1.5"/>
<line x1="141.67" y1="355.05" x2="114.44" y2="374.31" stroke-width="1.77"/>
<line x1="138.23" y1="340.47" x2="112" y2="336.45" stroke-width="1.09"/>
<line x1="138" y1="343.68" x2="110.25" y2="343.94" stroke-width="0.81"/>
<line x1="141.94" y1="355.42" x2="116.46" y2="374.31" stroke-width="1.6"/>
<line x1="159.46" y1="323.55" x2="161.54" y2="295.25" stroke-width="1.58"/>
<line x1="141.02" y1="354.07" x2="113.94" y2="370.93" stroke-width="0.76"/>
<line x1="163.46" y1="324.26" x2="170.54" y2="299.33" stroke-width="0.99"/>
<line x1="138.3" y1="346.97" x2="111.85" y2="351.62" stroke-width="1.57"/>
<line x1="140.08" y1="352.39" x2="109.18" y2="367.72" stroke-width="1.72"/>
<line x1="161.46" y1="323.8" x2="165.14" y2="302.8" stroke-width="1.08"/>
<line x1="176.85" y1="336.82" x2="203.87" y2="327.25" stroke-width="0.91"/>
<line x1="145.04" y1="358.73" x2="123.96" y2="383.5" stroke-width="1.53"/>
<line x1="153.87" y1="363.07" x2="148.94" y2="386.37" stroke-width="1.76"/>
<line x1="174.87" y1="354.24" x2="191.61" y2="364.89" stroke-width="1.43"/>
<line x1="174.71" y1="332.52" x2="199.16" y2="316.45" stroke-width="1.22"/>
<line x1="163.01" y1="324.14" x2="170.43" y2="295.47" stroke-width="1.06"/>
<line x1="160.82" y1="363.3" x2="163.59" y2="382.74" stroke-width="1.56"/>
<line x1="170.79" y1="358.87" x2="185.92" y2="377.06" stroke-width="1.72"/>
<line x1="164.06" y1="362.56" x2="171.57" y2="386.2" stroke-width="1.28"/>
<line x1="177.55" y1="339.3" x2="200.22" y2="334.43" stroke-width="1.24"/>
<line x1="174.44" y1="332.11" x2="196.24" y2="316.99" stroke-width="0.86"/>
<line x1="164.63" y1="324.63" x2="171.79" y2="304.26" stroke-width="1.77"/>
<line x1="177.46" y1="338.9" x2="199.76" y2="333.63" stroke-width="1.16"/>
<line x1="160.88" y1="363.29" x2="163.74" y2="382.95" stroke-width="0.93"/>
<line x1="167.83" y1="360.92" x2="180.73" y2="383.75" stroke-width="0.76"/>
<line x1="141.73" y1="331.87" x2="116.62" y2="313.92" stroke-width="1.51"/>
<line x1="139.77" y1="335.28" x2="106.02" y2="320.06" stroke-width="1.01"/>
<line x1="174.67" y1="354.54" x2="194.81" y2="367.88" stroke-width="1"/>
<line x1="177.94" y1="342.01" x2="206.77" y2="339.85" stroke-width="1.46"/>
<line x1="168.03" y1="326.2" x2="177.78" y2="309.4" stroke-width="1.23"/>
<line x1="143.18" y1="356.93" x2="123.71" y2="374.57" stroke-width="1.11"/>
<line x1="138.2" y1="346.29" x2="105.31" y2="350.91" stroke-width="0.73"/>
<line x1="138.61" y1="338.61" x2="114.96" y2="332.65" stroke-width="1.77"/>
<line x1="139.05" y1="337.11" x2="108.92" y2="326.95" stroke-width="1.05"/>
<line x1="152.51" y1="324.27" x2="144.77" y2="297.14" stroke-width="1.7"/>
<line x1="140.51" y1="333.79" x2="117.75" y2="321.15" stroke-width="1.39"/>
<line x1="177.01" y1="349.72" x2="202.11" y2="357.94" stroke-width="1.04"/>
<line x1="154.18" y1="323.87" x2="150.52" y2="305.07" stroke-width="1.36"/>
<line x1="167.74" y1="360.97" x2="175.78" y2="375.39" stroke-width="0.99"/>
<line x1="169.59" y1="327.2" x2="182.02" y2="309.73" stroke-width="1.28"/>
<line x1="163.01" y1="324.14" x2="170.46" y2="295.39" stroke-width="0.99"/>
<line x1="151.11" y1="324.72" x2="140.84" y2="296.69" stroke-width="1.57"/>
<line x1="146.57" y1="359.91" x2="131.13" y2="382.09" stroke-width="1.56"/>
<line x1="157.9" y1="363.5" x2="157.78" y2="386.34" stroke-width="1.4"/>
<line x1="169.88" y1="327.41" x2="181.42" y2="311.8" stroke-width="1.43"/>
<line x1="162.1" y1="363.08" x2="165.83" y2="380.88" stroke-width="1.22"/>
<line x1="146.02" y1="327.48" x2="128.17" y2="303.61" stroke-width="1.74"/>
<line x1="168.25" y1="360.67" x2="180.27" y2="380.78" stroke-width="1.23"/>
<line x1="156.89" y1="363.47" x2="155.25" y2="392.76" stroke-width="0.86"/>
<line x1="156.67" y1="363.46" x2="155.54" y2="380.42" stroke-width="1.41"/>
<line x1="147.04" y1="326.77" x2="134.44" y2="307.54" stroke-width="1.71"/>
<line x1="144.76" y1="328.51" x2="129.23" y2="310.94" stroke-width="1.74"/>
<line x1="170.09" y1="327.57" x2="182.42" y2="311.33" stroke-width="1.65"/>
<line x1="171.66" y1="358.1" x2="185.92" y2="373.34" stroke-width="1.16"/>
<line x1="177.21" y1="337.93" x2="196.59" y2="332.3" stroke-width="1.12"/>
<line x1="163.3" y1="362.78" x2="170.59" y2="389.27" stroke-width="0.9"/>
<line x1="169.52" y1="327.15" x2="181.49" y2="310.17" stroke-width="1.3"/>
<line x1="172.28" y1="329.5" x2="186.37" y2="315.69" stroke-width="1.28"/>
<line x1="144.86" y1="328.42" x2="125.62" y2="306.32" stroke-width="1.15"/>
<line x1="145.84" y1="327.62" x2="130.74" y2="307.92" stroke-width="0.87"/>
<line x1="177.97" y1="344.62" x2="202.41" y2="346" stroke-width="1.33"/>
<line x1="164.13" y1="324.46" x2="169.71" y2="307.15" stroke-width="1.44"/>
<line x1="138.85" y1="349.28" x2="109.35" y2="358.19" stroke-width="1.61"/>
<line x1="138.14" y1="341.11" x2="108.73" y2="337.58" stroke-width="1.41"/>
<line x1="169.97" y1="359.52" x2="186.87" y2="382.12" stroke-width="1.27"/>
<line x1="177.29" y1="348.76" x2="199.23" y2="354.75" stroke-width="1.74"/>
<line x1="177.82" y1="340.84" x2="199.6" y2="337.93" stroke-width="0.99"/>
<line x1="176.42" y1="335.71" x2="194.83" y2="327.94" stroke-width="0.72"/>
<line x1="158.37" y1="363.5" x2="158.79" y2="386.08" stroke-width="1.44"/>
<line x1="176.26" y1="351.66" x2="195.14" y2="360.1" stroke-width="1.5"/>
<line x1="146.82" y1="360.08" x2="134.34" y2="378.6" stroke-width="1.48"/>
<line x1="139.57" y1="351.26" x2="108.86" y2="364.2" stroke-width="1.23"/>
<line x1="165.65" y1="325.02" x2="174.51" y2="303.61" stroke-width="1.77"/>
<line x1="165.72" y1="325.05" x2="175.81" y2="300.97" stroke-width="1.24"/>
<line x1="142.56" y1="330.79" x2="121.7" y2="313.63" stroke-width="0.78"/>
<line x1="172.97" y1="330.24" x2="193.41" y2="312.14" stroke-width="1.54"/>
<line x1="170.67" y1="328.02" x2="185.69" y2="309.67" stroke-width="1.79"/>
<line x1="138.28" y1="346.85" x2="100.27" y2="353.31" stroke-width="0.79"/>
<line x1="143.56" y1="357.34" x2="122.1" y2="377.89" stroke-width="1.6"/>
<line x1="138.17" y1="340.9" x2="103.01" y2="336.28" stroke-width="1.11"/>
<line x1="149.15" y1="325.56" x2="135.47" y2="297.85" stroke-width="1.36"/>
<line x1="177.83" y1="346.11" x2="202.81" y2="349.4" stroke-width="0.7"/>
<line x1="151.48" y1="362.41" x2="145.02" y2="381.14" stroke-width="1.54"/>
<line x1="167.82" y1="360.92" x2="180.62" y2="383.63" stroke-width="0.78"/>
<line x1="163.34" y1="362.77" x2="170.22" y2="387.57" stroke-width="1.72"/>
<line x1="176.01" y1="352.19" x2="198.17" y2="362.88" stroke-width="1.14"/>
<line x1="143.59" y1="329.63" x2="127.81" y2="314.46" stroke-width="0.72"/>
<line x1="175.6" y1="352.99" x2="200.67" y2="366.51" stroke-width="1.24"/>
<line x1="142.79" y1="330.51" x2="125.26" y2="315.54" stroke-width="1.45"/>
</g>
<ellipse cx="157.5" cy="344" rx="38" ry="37" fill="#121010" filter="url(#rough)"/>
<path d="M168,360 L172,392 L175,360 Z" fill="#181212" filter="url(#bl1)"/>
<g fill="#ffffff" filter="url(#rough2)">
<ellipse cx="198.8" cy="297" rx="6.5" ry="9"/>
<ellipse cx="197" cy="288" rx="2.55" ry="3.4"/>
<ellipse cx="201" cy="306" rx="2.55" ry="3.4"/>
<ellipse cx="161.5" cy="399.4" rx="11" ry="8"/>
<ellipse cx="158" cy="392" rx="4.25" ry="5.95"/>
<ellipse cx="170" cy="403" rx="6" ry="4"/>
<ellipse cx="150" cy="404" rx="4.25" ry="2.55"/>
<ellipse cx="94.3" cy="295" rx="2.98" ry="2.12"/>
<ellipse cx="90" cy="298" rx="1.7" ry="1.7"/>
<ellipse cx="77.7" cy="319.3" rx="1.87" ry="2.38"/>
<ellipse cx="130" cy="281.6" rx="2.55" ry="1.7"/>
<ellipse cx="138.7" cy="279.4" rx="2.55" ry="1.7"/>
<ellipse cx="181" cy="265" rx="1.7" ry="4.25"/>
<ellipse cx="194" cy="260.5" rx="1.7" ry="2.55"/>
<ellipse cx="169" cy="255" rx="2.12" ry="1.7"/>
<ellipse cx="185" cy="272" rx="1.7" ry="2.55"/>
<ellipse cx="230.5" cy="372" rx="3.4" ry="4.25"/>
<ellipse cx="223.6" cy="383.3" rx="4.25" ry="3.4"/>
<ellipse cx="238.5" cy="353.5" rx="1.53" ry="2.12"/>
<ellipse cx="155.7" cy="426" rx="2.55" ry="2.55"/>
<ellipse cx="166" cy="449" rx="2.12" ry="2.55"/>
<ellipse cx="104.5" cy="426.7" rx="2.55" ry="1.7"/>
<ellipse cx="112" cy="432" rx="2.55" ry="1.7"/>
<ellipse cx="127" cy="440" rx="3.4" ry="2.55"/>
<ellipse cx="138.4" cy="411" rx="2.55" ry="2.12"/>
<ellipse cx="156.4" cy="426.7" rx="1.7" ry="1.7"/>
<ellipse cx="120" cy="418" rx="1.7" ry="1.7"/>
<ellipse cx="135" cy="432" rx="2.55" ry="1.7"/>
<ellipse cx="147" cy="440" rx="2.55" ry="2.55"/>
<ellipse cx="140" cy="448" rx="2.12" ry="1.7"/>
<ellipse cx="108" cy="440" rx="1.7" ry="1.7"/>
<ellipse cx="227" cy="382" rx="2.55" ry="2.55"/>
<ellipse cx="163.8" cy="380" rx="1.36" ry="5.95"/>
<ellipse cx="52" cy="365" rx="1.27" ry="1.27"/>
<ellipse cx="40" cy="310" rx="1.02" ry="1.02"/>
<ellipse cx="208" cy="330" rx="1.27" ry="1.7"/>
</g>
<g fill="#f4f4f4" filter="url(#bl0)">
<circle cx="205.8" cy="290.1" r="1.0"/>
<circle cx="208.6" cy="278.0" r="0.9"/>
<circle cx="192.6" cy="286.0" r="1.0"/>
<circle cx="194.0" cy="313.7" r="0.9"/>
<circle cx="213.5" cy="295.6" r="0.6"/>
<circle cx="203.3" cy="309.7" r="0.8"/>
<circle cx="196.9" cy="284.5" r="0.9"/>
<circle cx="189.6" cy="301.0" r="0.9"/>
<circle cx="183.5" cy="306.3" r="0.6"/>
<circle cx="209.4" cy="286.2" r="0.8"/>
<circle cx="210.5" cy="305.6" r="1.1"/>
<circle cx="190.6" cy="312.6" r="0.9"/>
<circle cx="211.8" cy="308.5" r="0.7"/>
<circle cx="184.5" cy="299.5" r="1.1"/>
<circle cx="205.1" cy="285.6" r="1.1"/>
<circle cx="205.8" cy="310.9" r="0.8"/>
<circle cx="208.1" cy="282.5" r="1.0"/>
<circle cx="202.6" cy="284.0" r="0.8"/>
<circle cx="206.9" cy="305.5" r="0.6"/>
<circle cx="197.9" cy="286.2" r="1.1"/>
<circle cx="189.8" cy="287.9" r="0.6"/>
<circle cx="187.1" cy="302.6" r="0.6"/>
<circle cx="208.9" cy="294.9" r="0.8"/>
<circle cx="196.5" cy="311.0" r="0.7"/>
<circle cx="203.2" cy="289.0" r="0.8"/>
<circle cx="192.7" cy="283.9" r="0.7"/>
<circle cx="193.7" cy="288.4" r="0.7"/>
<circle cx="190.9" cy="291.5" r="0.8"/>
<circle cx="191.7" cy="292.2" r="0.7"/>
<circle cx="193.3" cy="286.4" r="0.9"/>
<circle cx="191.0" cy="286.0" r="1.1"/>
<circle cx="203.2" cy="296.1" r="0.7"/>
<circle cx="205.9" cy="304.0" r="0.8"/>
<circle cx="193.9" cy="308.8" r="1.2"/>
<circle cx="202.5" cy="300.4" r="0.6"/>
<circle cx="202.8" cy="314.0" r="1.0"/>
<circle cx="203.8" cy="307.6" r="1.2"/>
<circle cx="155.3" cy="406.7" r="0.8"/>
<circle cx="182.2" cy="410.0" r="0.9"/>
<circle cx="140.7" cy="386.5" r="0.6"/>
<circle cx="166.9" cy="417.0" r="0.9"/>
<circle cx="145.5" cy="404.1" r="0.9"/>
<circle cx="187.5" cy="392.5" r="1.1"/>
<circle cx="174.7" cy="398.1" r="0.5"/>
<circle cx="168.8" cy="389.6" r="0.9"/>
<circle cx="133.9" cy="403.4" r="0.8"/>
<circle cx="171.2" cy="407.3" r="1.1"/>
<circle cx="166.9" cy="390.4" r="1.2"/>
<circle cx="145.0" cy="411.9" r="0.9"/>
<circle cx="173.8" cy="388.3" r="0.5"/>
<circle cx="137.2" cy="392.7" r="0.8"/>
<circle cx="170.2" cy="387.2" r="0.8"/>
<circle cx="152.0" cy="407.9" r="0.9"/>
<circle cx="182.2" cy="395.5" r="1.0"/>
<circle cx="169.0" cy="410.9" r="0.9"/>
<circle cx="153.2" cy="404.8" r="1.1"/>
<circle cx="177.1" cy="411.3" r="1.2"/>
<circle cx="157.6" cy="410.5" r="0.7"/>
<circle cx="134.2" cy="394.0" r="0.6"/>
<circle cx="162.3" cy="418.9" r="0.7"/>
<circle cx="149.7" cy="384.5" r="0.5"/>
<circle cx="185.5" cy="402.4" r="1.1"/>
<circle cx="155.0" cy="386.3" r="0.6"/>
<circle cx="148.8" cy="397.8" r="0.7"/>
<circle cx="181.1" cy="402.6" r="0.8"/>
<circle cx="158.3" cy="410.0" r="0.5"/>
<circle cx="174.5" cy="401.1" r="1.2"/>
<circle cx="184.6" cy="403.0" r="0.8"/>
<circle cx="147.6" cy="393.2" r="1.2"/>
<circle cx="167.9" cy="387.1" r="0.8"/>
<circle cx="173.5" cy="394.5" r="1.1"/>
<circle cx="146.1" cy="389.0" r="0.9"/>
<circle cx="150.9" cy="394.4" r="0.7"/>
<circle cx="152.5" cy="408.0" r="0.6"/>
<circle cx="156.1" cy="380.6" r="1.0"/>
<circle cx="148.2" cy="403.0" r="0.7"/>
<circle cx="149.6" cy="391.1" r="1.1"/>
<circle cx="164.4" cy="401.6" r="0.8"/>
<circle cx="153.1" cy="385.2" r="0.9"/>
<circle cx="163.8" cy="391.2" r="1.2"/>
<circle cx="166.4" cy="389.5" r="0.6"/>
<circle cx="145.3" cy="392.4" r="0.5"/>
<circle cx="158.2" cy="376.3" r="0.6"/>
<circle cx="153.1" cy="386.8" r="0.6"/>
<circle cx="150.7" cy="390.6" r="1.0"/>
<circle cx="151.3" cy="390.4" r="1.1"/>
<circle cx="169.4" cy="392.6" r="0.7"/>
<circle cx="165.9" cy="383.8" r="0.8"/>
<circle cx="160.5" cy="408.2" r="1.1"/>
<circle cx="167.4" cy="388.7" r="1.1"/>
<circle cx="179.8" cy="397.9" r="0.7"/>
<circle cx="162.6" cy="399.2" r="1.1"/>
<circle cx="156.5" cy="399.9" r="1.1"/>
<circle cx="170.2" cy="397.7" r="0.7"/>
<circle cx="177.9" cy="406.1" r="0.6"/>
<circle cx="165.8" cy="411.6" r="0.6"/>
<circle cx="182.9" cy="398.1" r="1.0"/>
<circle cx="170.7" cy="408.8" r="0.8"/>
<circle cx="159.1" cy="396.3" r="0.5"/>
<circle cx="181.9" cy="407.8" r="0.5"/>
<circle cx="176.1" cy="399.8" r="1.2"/>
<circle cx="140.3" cy="405.1" r="1.1"/>
<circle cx="153.7" cy="399.5" r="0.8"/>
<circle cx="151.7" cy="399.9" r="0.7"/>
<circle cx="158.3" cy="398.8" r="1.1"/>
<circle cx="145.7" cy="407.9" r="0.6"/>
<circle cx="152.7" cy="401.2" r="0.6"/>
<circle cx="158.6" cy="404.8" r="1.2"/>
<circle cx="156.3" cy="405.8" r="0.7"/>
<circle cx="92.6" cy="291.3" r="0.6"/>
<circle cx="91.2" cy="289.3" r="0.6"/>
<circle cx="99.6" cy="296.6" r="1.2"/>
<circle cx="98.3" cy="296.1" r="1.0"/>
<circle cx="94.7" cy="290.7" r="0.5"/>
<circle cx="87.8" cy="297.3" r="0.6"/>
<circle cx="94.7" cy="299.7" r="0.6"/>
<circle cx="85.4" cy="298.7" r="0.6"/>
<circle cx="73.9" cy="323.4" r="0.9"/>
<circle cx="79.1" cy="324.2" r="1.2"/>
<circle cx="80.0" cy="312.8" r="0.5"/>
<circle cx="81.4" cy="321.1" r="0.5"/>
<circle cx="134.3" cy="280.9" r="0.9"/>
<circle cx="133.6" cy="279.3" r="1.0"/>
<circle cx="132.9" cy="284.4" r="1.0"/>
<circle cx="126.2" cy="282.1" r="1.1"/>
<circle cx="134.1" cy="283.2" r="0.7"/>
<circle cx="140.4" cy="277.3" r="1.0"/>
<circle cx="144.4" cy="278.2" r="0.8"/>
<circle cx="146.3" cy="278.8" r="1.1"/>
<circle cx="181.4" cy="270.6" r="0.9"/>
<circle cx="182.5" cy="269.1" r="0.9"/>
<circle cx="183.7" cy="262.5" r="1.1"/>
<circle cx="185.9" cy="261.9" r="0.6"/>
<circle cx="184.4" cy="274.4" r="1.2"/>
<circle cx="182.2" cy="270.7" r="1.0"/>
<circle cx="195.9" cy="262.5" r="0.6"/>
<circle cx="191.2" cy="258.2" r="1.1"/>
<circle cx="196.8" cy="266.5" r="1.1"/>
<circle cx="191.2" cy="264.7" r="1.0"/>
<circle cx="173.5" cy="258.5" r="0.8"/>
<circle cx="163.1" cy="254.6" r="0.5"/>
<circle cx="168.7" cy="257.1" r="1.0"/>
<circle cx="170.1" cy="259.2" r="1.0"/>
<circle cx="187.6" cy="271.9" r="0.8"/>
<circle cx="185.8" cy="267.0" r="0.6"/>
<circle cx="182.9" cy="265.9" r="0.8"/>
<circle cx="183.2" cy="274.5" r="0.8"/>
<circle cx="233.9" cy="365.4" r="1.2"/>
<circle cx="226.1" cy="378.9" r="1.0"/>
<circle cx="238.5" cy="365.8" r="0.8"/>
<circle cx="225.9" cy="373.8" r="0.9"/>
<circle cx="232.7" cy="366.1" r="0.7"/>
<circle cx="236.8" cy="375.5" r="0.8"/>
<circle cx="238.8" cy="371.3" r="1.1"/>
<circle cx="232.6" cy="380.1" r="1.0"/>
<circle cx="237.3" cy="376.3" r="0.9"/>
<circle cx="235.7" cy="373.1" r="1.0"/>
<circle cx="228.9" cy="390.2" r="0.8"/>
<circle cx="214.4" cy="389.4" r="0.8"/>
<circle cx="232.0" cy="376.9" r="0.9"/>
<circle cx="229.8" cy="387.0" r="1.2"/>
<circle cx="222.8" cy="391.0" r="0.6"/>
<circle cx="222.4" cy="374.9" r="1.1"/>
<circle cx="218.7" cy="380.7" r="1.1"/>
<circle cx="212.5" cy="378.7" r="0.9"/>
<circle cx="219.8" cy="389.4" r="0.9"/>
<circle cx="220.4" cy="375.7" r="1.1"/>
<circle cx="236.2" cy="352.8" r="1.1"/>
<circle cx="238.0" cy="350.5" r="0.8"/>
<circle cx="240.6" cy="349.6" r="0.6"/>
<circle cx="160.0" cy="421.1" r="0.6"/>
<circle cx="153.2" cy="419.3" r="0.9"/>
<circle cx="161.0" cy="424.2" r="0.5"/>
<circle cx="151.9" cy="420.1" r="1.1"/>
<circle cx="155.9" cy="418.5" r="1.1"/>
<circle cx="163.3" cy="449.5" r="0.6"/>
<circle cx="171.9" cy="451.3" r="1.1"/>
<circle cx="170.7" cy="445.3" r="0.8"/>
<circle cx="163.6" cy="447.8" r="0.6"/>
<circle cx="163.8" cy="450.9" r="0.7"/>
<circle cx="100.8" cy="426.4" r="0.6"/>
<circle cx="109.0" cy="428.5" r="1.1"/>
<circle cx="98.5" cy="428.1" r="1.0"/>
<circle cx="106.8" cy="422.4" r="0.9"/>
<circle cx="115.7" cy="432.7" r="0.7"/>
<circle cx="108.9" cy="435.3" r="0.8"/>
<circle cx="111.1" cy="434.5" r="1.0"/>
<circle cx="118.4" cy="431.9" r="0.6"/>
<circle cx="123.9" cy="433.6" r="0.9"/>
<circle cx="120.7" cy="434.7" r="0.8"/>
<circle cx="125.6" cy="436.3" r="1.1"/>
<circle cx="122.3" cy="438.3" r="0.9"/>
<circle cx="130.1" cy="435.4" r="0.7"/>
<circle cx="124.5" cy="432.5" r="1.2"/>
<circle cx="136.4" cy="415.1" r="0.8"/>
<circle cx="141.9" cy="414.7" r="0.7"/>
<circle cx="131.5" cy="411.8" r="0.9"/>
<circle cx="142.4" cy="410.8" r="0.6"/>
<circle cx="144.3" cy="413.1" r="0.7"/>
<circle cx="157.2" cy="430.7" r="1.2"/>
<circle cx="156.5" cy="421.6" r="1.2"/>
<circle cx="153.7" cy="426.2" r="1.0"/>
<circle cx="120.4" cy="420.2" r="0.8"/>
<circle cx="119.7" cy="414.0" r="0.8"/>
<circle cx="121.8" cy="419.8" r="0.9"/>
<circle cx="129.4" cy="432.1" r="1.0"/>
<circle cx="128.6" cy="429.9" r="1.1"/>
<circle cx="130.3" cy="431.6" r="0.9"/>
<circle cx="135.0" cy="434.6" r="1.0"/>
<circle cx="144.1" cy="441.1" r="0.8"/>
<circle cx="145.6" cy="443.0" r="0.5"/>
<circle cx="141.8" cy="435.5" r="1.1"/>
<circle cx="143.7" cy="437.7" r="0.9"/>
<circle cx="146.5" cy="444.1" r="0.7"/>
<circle cx="141.9" cy="449.8" r="1.2"/>
<circle cx="145.5" cy="450.6" r="1.0"/>
<circle cx="139.9" cy="445.6" r="1.0"/>
<circle cx="141.4" cy="451.4" r="0.8"/>
<circle cx="109.9" cy="438.7" r="0.5"/>
<circle cx="104.8" cy="438.1" r="1.0"/>
<circle cx="110.7" cy="441.6" r="1.0"/>
<circle cx="223.2" cy="379.5" r="0.5"/>
<circle cx="234.0" cy="384.0" r="0.7"/>
<circle cx="231.0" cy="383.9" r="0.6"/>
<circle cx="223.9" cy="381.1" r="0.9"/>
<circle cx="223.6" cy="377.6" r="0.9"/>
<circle cx="163.9" cy="391.4" r="1.0"/>
<circle cx="163.0" cy="395.9" r="0.6"/>
<circle cx="159.9" cy="382.4" r="1.0"/>
<circle cx="163.4" cy="391.0" r="0.7"/>
<circle cx="163.8" cy="368.9" r="1.1"/>
<circle cx="162.6" cy="364.6" r="0.9"/>
<circle cx="51.4" cy="368.1" r="0.8"/>
<circle cx="54.4" cy="365.8" r="0.6"/>
<circle cx="41.5" cy="310.8" r="1.2"/>
<circle cx="39.0" cy="308.2" r="0.9"/>
<circle cx="205.8" cy="332.5" r="0.7"/>
<circle cx="210.1" cy="326.4" r="0.8"/>
<circle cx="205.8" cy="328.9" r="1.0"/>
<circle cx="199.7" cy="276.5" r="0.6" opacity="0.8"/>
<circle cx="208.6" cy="311.6" r="0.6" opacity="0.8"/>
<circle cx="100.0" cy="379.8" r="0.6" opacity="0.8"/>
<circle cx="111.1" cy="281.4" r="1.0" opacity="0.8"/>
<circle cx="186.5" cy="293.6" r="0.7" opacity="0.8"/>
<circle cx="161.2" cy="405.9" r="1.0" opacity="0.8"/>
<circle cx="219.4" cy="342.1" r="0.8" opacity="0.8"/>
<circle cx="98.4" cy="293.7" r="0.8" opacity="0.8"/>
<circle cx="200.4" cy="380.5" r="0.6" opacity="0.8"/>
<circle cx="106.0" cy="351.7" r="0.9" opacity="0.8"/>
<circle cx="178.5" cy="393.4" r="0.9" opacity="0.8"/>
<circle cx="88.8" cy="360.4" r="0.8" opacity="0.8"/>
<circle cx="120.3" cy="380.0" r="1.0" opacity="0.8"/>
<circle cx="134.6" cy="289.9" r="0.5" opacity="0.8"/>
<circle cx="106.5" cy="286.7" r="0.9" opacity="0.8"/>
<circle cx="230.5" cy="306.1" r="0.6" opacity="0.8"/>
<circle cx="186.1" cy="403.1" r="0.6" opacity="0.8"/>
<circle cx="85.5" cy="351.0" r="0.7" opacity="0.8"/>
<circle cx="184.4" cy="289.6" r="1.0" opacity="0.8"/>
<circle cx="209.1" cy="369.0" r="0.5" opacity="0.8"/>
<circle cx="113.8" cy="318.2" r="0.9" opacity="0.8"/>
<circle cx="92.8" cy="381.7" r="0.7" opacity="0.8"/>
<circle cx="196.8" cy="280.4" r="0.7" opacity="0.8"/>
<circle cx="172.5" cy="275.9" r="0.9" opacity="0.8"/>
<circle cx="109.6" cy="368.6" r="0.8" opacity="0.8"/>
<circle cx="96.3" cy="336.0" r="1.1" opacity="0.8"/>
<circle cx="196.8" cy="411.7" r="0.8" opacity="0.8"/>
<circle cx="215.2" cy="382.8" r="0.6" opacity="0.8"/>
</g>
<g fill="#1a1a1a" filter="url(#bl0)" opacity="0.8">
<circle cx="223.0" cy="440.1" r="1.2"/>
<circle cx="263.4" cy="283.0" r="0.9"/>
<circle cx="85.0" cy="376.1" r="1.0"/>
<circle cx="259.7" cy="457.6" r="1.1"/>
<circle cx="65.7" cy="428.9" r="1.0"/>
<circle cx="169.4" cy="258.4" r="0.9"/>
<circle cx="67.3" cy="408.4" r="1.2"/>
<circle cx="236.7" cy="283.1" r="1.1"/>
<circle cx="75.9" cy="307.7" r="0.6"/>
<circle cx="237.7" cy="268.3" r="0.5"/>
<circle cx="230.5" cy="446.4" r="0.7"/>
<circle cx="277.2" cy="321.6" r="0.9"/>
<circle cx="262.4" cy="307.1" r="1.1"/>
<circle cx="59.6" cy="325.9" r="1.1"/>
<circle cx="186.3" cy="255.9" r="0.9"/>
<circle cx="257.2" cy="410.7" r="1.0"/>
<circle cx="230.9" cy="309.9" r="0.9"/>
<circle cx="258.8" cy="430.9" r="1.1"/>
<circle cx="183.9" cy="453.6" r="1.0"/>
<circle cx="43.9" cy="416.7" r="0.8"/>
<circle cx="144.5" cy="261.8" r="0.7"/>
<circle cx="195.8" cy="428.0" r="1.1"/>
<circle cx="208.3" cy="273.0" r="1.2"/>
<circle cx="68.3" cy="381.5" r="1.1"/>
<circle cx="223.9" cy="420.9" r="1.1"/>
<circle cx="54.0" cy="348.2" r="0.7"/>
<circle cx="156.3" cy="444.2" r="0.7"/>
<circle cx="258.3" cy="398.7" r="1.2"/>
<circle cx="274.7" cy="314.7" r="1.1"/>
<circle cx="255.4" cy="418.1" r="1.0"/>
<circle cx="263.2" cy="276.3" r="1.1"/>
<circle cx="262.7" cy="425.7" r="1.1"/>
<circle cx="104.9" cy="443.1" r="1.0"/>
<circle cx="53.1" cy="267.8" r="0.8"/>
<circle cx="66.1" cy="413.5" r="0.8"/>
<circle cx="238.3" cy="356.9" r="1.2"/>
<circle cx="198.1" cy="263.4" r="0.9"/>
<circle cx="207.6" cy="396.0" r="1.3"/>
<circle cx="259.1" cy="337.5" r="0.6"/>
<circle cx="251.3" cy="444.1" r="0.9"/>
<circle cx="38.6" cy="317.2" r="1.0"/>
<circle cx="270.9" cy="370.3" r="1.0"/>
<circle cx="271.9" cy="286.3" r="0.8"/>
<circle cx="99.5" cy="429.0" r="0.6"/>
<circle cx="261.0" cy="389.7" r="0.6"/>
<circle cx="264.5" cy="407.3" r="1.1"/>
<circle cx="270.6" cy="265.8" r="1.2"/>
<circle cx="55.4" cy="423.3" r="0.8"/>
<circle cx="260.8" cy="408.6" r="0.9"/>
<circle cx="231.2" cy="304.9" r="0.7"/>
<circle cx="269.5" cy="395.1" r="1.0"/>
<circle cx="39.7" cy="345.4" r="0.9"/>
<circle cx="126.4" cy="406.7" r="0.6"/>
<circle cx="229.8" cy="256.1" r="1.0"/>
<circle cx="88.1" cy="399.9" r="0.6"/>
<circle cx="225.7" cy="287.7" r="0.8"/>
<circle cx="63.1" cy="388.3" r="0.5"/>
<circle cx="132.3" cy="257.2" r="0.6"/>
<circle cx="54.2" cy="366.3" r="1.1"/>
<circle cx="270.9" cy="366.1" r="0.8"/>
<circle cx="112.6" cy="257.6" r="1.2"/>
<circle cx="118.7" cy="451.2" r="0.8"/>
<circle cx="247.3" cy="374.3" r="1.0"/>
<circle cx="152.4" cy="272.6" r="0.8"/>
<circle cx="259.4" cy="318.3" r="0.8"/>
<circle cx="44.0" cy="391.3" r="1.0"/>
<circle cx="216.7" cy="264.2" r="0.9"/>
<circle cx="119.2" cy="413.7" r="0.7"/>
<circle cx="234.7" cy="294.5" r="1.1"/>
<circle cx="204.6" cy="424.0" r="1.2"/>
<circle cx="255.4" cy="351.4" r="0.7"/>
<circle cx="180.3" cy="436.6" r="1.1"/>
<circle cx="269.4" cy="377.5" r="1.1"/>
<circle cx="250.9" cy="317.7" r="1.2"/>
<circle cx="72.8" cy="344.6" r="0.8"/>
<circle cx="60.5" cy="347.1" r="1.3"/>
<circle cx="243.1" cy="312.6" r="1.3"/>
<circle cx="36.8" cy="396.3" r="0.7"/>
<circle cx="132.2" cy="428.6" r="0.9"/>
<circle cx="227.3" cy="321.6" r="1.2"/>
<circle cx="52.2" cy="402.0" r="0.8"/>
<circle cx="257.6" cy="373.8" r="0.8"/>
<circle cx="200.9" cy="256.1" r="1.2"/>
<circle cx="191.9" cy="271.0" r="1.0"/>
<circle cx="65.4" cy="445.4" r="0.8"/>
<circle cx="158.8" cy="252.3" r="0.7"/>
<circle cx="59.3" cy="444.2" r="0.7"/>
<circle cx="64.9" cy="399.5" r="0.7"/>
<circle cx="104.7" cy="454.2" r="0.6"/>
<circle cx="93.1" cy="294.2" r="0.6"/>
<circle cx="227.1" cy="436.6" r="0.6"/>
<circle cx="199.1" cy="412.2" r="0.9"/>
<circle cx="256.0" cy="441.3" r="0.5"/>
<circle cx="41.4" cy="390.6" r="1.1"/>
<circle cx="46.3" cy="382.7" r="1.1"/>
<circle cx="106.3" cy="439.3" r="1.1"/>
<circle cx="179.9" cy="265.5" r="1.1"/>
<circle cx="43.7" cy="367.3" r="1.3"/>
<circle cx="222.4" cy="422.9" r="0.8"/>
<circle cx="97.7" cy="265.0" r="0.5"/>
<circle cx="67.3" cy="419.3" r="0.7"/>
<circle cx="268.1" cy="391.3" r="1.0"/>
<circle cx="86.6" cy="254.3" r="0.8"/>
<circle cx="258.6" cy="423.8" r="0.9"/>
<circle cx="169.3" cy="417.5" r="0.8"/>
<circle cx="67.4" cy="346.0" r="1.0"/>
<circle cx="64.4" cy="385.6" r="0.7"/>
<circle cx="253.5" cy="338.2" r="1.0"/>
<circle cx="253.5" cy="313.7" r="1.2"/>
<circle cx="96.8" cy="254.9" r="0.9"/>
<circle cx="246.1" cy="348.3" r="1.0"/>
<circle cx="34.4" cy="438.8" r="0.6"/>
<circle cx="68.3" cy="379.5" r="1.0"/>
<circle cx="250.1" cy="288.6" r="1.0"/>
<circle cx="61.0" cy="259.7" r="0.6"/>
<circle cx="127.7" cy="277.2" r="1.2"/>
<circle cx="63.1" cy="270.6" r="0.6"/>
<circle cx="68.0" cy="457.3" r="1.2"/>
<circle cx="47.5" cy="283.8" r="0.9"/>
<circle cx="247.9" cy="428.0" r="1.1"/>
<circle cx="82.4" cy="321.5" r="0.8"/>
<circle cx="258.9" cy="367.5" r="0.9"/>
<circle cx="60.5" cy="298.6" r="1.1"/>
<circle cx="45.7" cy="351.8" r="1.2"/>
<circle cx="68.4" cy="413.3" r="0.6"/>
<circle cx="277.1" cy="304.8" r="1.3"/>
<circle cx="217.5" cy="404.4" r="0.6"/>
<circle cx="204.9" cy="272.2" r="1.1"/>
<circle cx="242.1" cy="306.4" r="0.9"/>
<circle cx="47.6" cy="445.9" r="1.2"/>
<circle cx="252.2" cy="336.7" r="0.7"/>
<circle cx="261.1" cy="263.3" r="0.7"/>
<circle cx="258.6" cy="386.7" r="0.8"/>
<circle cx="119.3" cy="256.8" r="1.1"/>
<circle cx="39.2" cy="382.7" r="1.0"/>
<circle cx="61.3" cy="383.4" r="1.3"/>
<circle cx="40.2" cy="371.1" r="0.5"/>
<circle cx="226.8" cy="296.4" r="1.1"/>
<circle cx="73.9" cy="276.2" r="1.2"/>
<circle cx="34.6" cy="388.1" r="0.7"/>
<circle cx="234.5" cy="408.4" r="0.6"/>
<circle cx="227.8" cy="297.8" r="0.8"/>
<circle cx="183.0" cy="447.5" r="0.6"/>
<circle cx="223.2" cy="298.6" r="0.7"/>
<circle cx="49.7" cy="456.4" r="0.6"/>
<circle cx="135.2" cy="268.5" r="1.0"/>
<circle cx="210.2" cy="412.3" r="1.2"/>
<circle cx="261.3" cy="270.8" r="0.7"/>
<circle cx="229.9" cy="358.1" r="0.7"/>
<circle cx="40.2" cy="317.0" r="0.7"/>
<circle cx="267.5" cy="287.3" r="0.7"/>
<circle cx="45.7" cy="415.0" r="0.6"/>
<circle cx="278.5" cy="429.7" r="0.6"/>
<circle cx="249.1" cy="260.4" r="1.1"/>
<circle cx="39.3" cy="439.3" r="0.7"/>
<circle cx="271.4" cy="382.2" r="0.6"/>
<circle cx="103.4" cy="289.5" r="1.1"/>
<circle cx="73.6" cy="403.9" r="1.1"/>
<circle cx="61.9" cy="311.2" r="0.9"/>
<circle cx="65.7" cy="448.0" r="1.3"/>
<circle cx="217.4" cy="271.9" r="0.7"/>
<circle cx="117.8" cy="264.4" r="0.5"/>
<circle cx="273.1" cy="396.4" r="1.2"/>
<circle cx="37.1" cy="448.2" r="0.7"/>
<circle cx="50.9" cy="411.5" r="0.8"/>
<circle cx="233.7" cy="373.6" r="0.6"/>
<circle cx="252.6" cy="415.9" r="1.1"/>
<circle cx="35.9" cy="340.0" r="0.8"/>
<circle cx="42.5" cy="307.3" r="0.9"/>
<circle cx="39.1" cy="410.7" r="0.9"/>
<circle cx="209.3" cy="423.4" r="0.9"/>
<circle cx="258.2" cy="457.8" r="0.7"/>
<circle cx="58.6" cy="397.7" r="0.7"/>
<circle cx="107.7" cy="395.7" r="1.2"/>
<circle cx="232.7" cy="301.2" r="0.5"/>
<circle cx="42.6" cy="442.7" r="0.6"/>
<circle cx="67.9" cy="431.2" r="0.9"/>
<circle cx="260.8" cy="297.6" r="1.3"/>
<circle cx="261.4" cy="301.1" r="0.5"/>
<circle cx="251.5" cy="280.4" r="0.5"/>
<circle cx="34.5" cy="379.0" r="1.3"/>
<circle cx="53.2" cy="322.2" r="0.9"/>
<circle cx="107.6" cy="261.1" r="0.9"/>
<circle cx="110.9" cy="400.2" r="0.9"/>
<circle cx="57.3" cy="417.7" r="0.7"/>
<circle cx="242.3" cy="262.7" r="1.2"/>
<circle cx="128.1" cy="418.6" r="0.8"/>
<circle cx="269.8" cy="456.8" r="0.7"/>
<circle cx="273.2" cy="419.8" r="0.9"/>
<circle cx="80.7" cy="287.3" r="1.0"/>
<circle cx="275.1" cy="421.5" r="0.8"/>
<circle cx="89.2" cy="452.8" r="1.3"/>
<circle cx="202.0" cy="402.6" r="0.5"/>
<circle cx="271.4" cy="371.4" r="1.2"/>
<circle cx="58.5" cy="415.3" r="1.1"/>
<circle cx="264.4" cy="328.7" r="1.1"/>
<circle cx="266.1" cy="280.8" r="1.1"/>
<circle cx="272.9" cy="280.6" r="1.0"/>
<circle cx="69.2" cy="381.9" r="0.6"/>
<circle cx="255.9" cy="301.4" r="1.0"/>
<circle cx="40.4" cy="306.9" r="0.7"/>
<circle cx="213.0" cy="398.2" r="1.1"/>
<circle cx="258.0" cy="379.8" r="0.7"/>
<circle cx="170.5" cy="440.8" r="1.0"/>
<circle cx="36.4" cy="361.4" r="0.6"/>
<circle cx="235.2" cy="336.4" r="1.0"/>
<circle cx="256.7" cy="299.2" r="0.9"/>
<circle cx="257.6" cy="375.1" r="0.9"/>
<circle cx="86.0" cy="418.1" r="1.2"/>
<circle cx="237.2" cy="388.5" r="0.5"/>
<circle cx="235.6" cy="257.9" r="1.0"/>
<circle cx="40.7" cy="446.3" r="1.1"/>
<circle cx="52.1" cy="451.7" r="0.9"/>
<circle cx="260.1" cy="333.1" r="1.1"/>
<circle cx="43.3" cy="299.6" r="1.3"/>
<circle cx="264.4" cy="294.5" r="0.7"/>
<circle cx="65.8" cy="433.5" r="1.1"/>
<circle cx="240.2" cy="338.4" r="0.8"/>
<circle cx="252.5" cy="289.0" r="0.7"/>
<circle cx="61.6" cy="399.0" r="0.8"/>
<circle cx="95.7" cy="453.1" r="1.3"/>
<circle cx="36.0" cy="298.8" r="1.2"/>
<circle cx="158.7" cy="424.9" r="1.2"/>
<circle cx="55.6" cy="355.9" r="1.1"/>
<circle cx="216.6" cy="448.7" r="0.5"/>
<circle cx="82.4" cy="366.2" r="0.8"/>
<circle cx="66.7" cy="337.4" r="1.0"/>
<circle cx="272.2" cy="320.3" r="0.9"/>
<circle cx="256.8" cy="269.2" r="0.8"/>
<circle cx="247.3" cy="394.2" r="1.2"/>
<circle cx="132.0" cy="259.2" r="0.6"/>
<circle cx="109.1" cy="399.4" r="0.9"/>
<circle cx="72.3" cy="423.9" r="1.3"/>
<circle cx="235.8" cy="302.6" r="1.1"/>
<circle cx="40.1" cy="427.1" r="0.7"/>
<circle cx="276.3" cy="296.0" r="0.8"/>
<circle cx="76.2" cy="255.1" r="1.2"/>
<circle cx="48.3" cy="366.2" r="0.6"/>
<circle cx="237.7" cy="309.7" r="0.5"/>
<circle cx="84.3" cy="386.5" r="0.6"/>
<circle cx="265.0" cy="423.8" r="1.0"/>
<circle cx="84.3" cy="312.2" r="1.0"/>
<circle cx="241.1" cy="437.5" r="0.6"/>
<circle cx="70.5" cy="380.2" r="0.8"/>
<circle cx="226.5" cy="280.1" r="1.0"/>
<circle cx="234.8" cy="313.2" r="0.6"/>
<circle cx="191.4" cy="431.0" r="0.7"/>
<circle cx="91.4" cy="444.7" r="0.5"/>
<circle cx="60.0" cy="302.9" r="1.2"/>
<circle cx="256.4" cy="422.2" r="1.1"/>
<circle cx="39.1" cy="364.1" r="0.8"/>
<circle cx="130.5" cy="435.8" r="1.0"/>
<circle cx="44.1" cy="258.5" r="0.6"/>
<circle cx="134.7" cy="426.0" r="0.7"/>
<circle cx="162.5" cy="423.4" r="0.7"/>
<circle cx="81.1" cy="316.3" r="1.1"/>
<circle cx="35.7" cy="274.3" r="1.2"/>
<circle cx="149.8" cy="272.8" r="1.3"/>
<circle cx="67.4" cy="383.1" r="0.9"/>
<circle cx="264.2" cy="454.9" r="0.7"/>
</g>
<path d="M36.2,254.0L35.4,253.4M40.5,254.0L39.7,253.4M44.8,254.0L44.0,253.4M49.1,254.0L48.3,253.4M53.3,254.0L52.7,253.4M57.6,254.0L57.0,253.4M61.9,254.0L61.3,253.4M66.2,254.0L65.6,253.4M70.5,254.0L69.9,253.4M74.8,254.0L74.2,253.4M79.1,254.0L78.5,253.4M83.4,254.0L82.8,253.4M87.7,254.0L87.1,253.4M92.0,254.1L91.4,253.3M96.3,254.1L95.7,253.3M100.6,254.1L100.0,253.3M104.8,254.1L104.4,253.3M109.1,254.1L108.7,253.3M113.4,254.1L113.0,253.3M117.7,254.1L117.3,253.3M122.0,254.1L121.6,253.3M126.3,254.1L125.9,253.3M130.6,254.1L130.2,253.3M134.8,254.1L134.6,253.3M139.1,254.1L138.9,253.3M143.4,254.1L143.2,253.3M147.7,254.1L147.5,253.3M152.0,254.1L151.8,253.3M156.2,254.1L156.2,253.3M160.5,254.1L160.5,253.3M164.8,254.1L164.8,253.3M169.1,254.1L169.1,253.3M173.4,254.1L173.4,253.3M177.6,254.1L177.8,253.3M181.9,254.1L182.1,253.3M186.2,254.1L186.4,253.3M190.5,254.1L190.7,253.3M194.8,254.1L195.0,253.3M199.0,254.1L199.4,253.3M203.3,254.1L203.7,253.3M207.6,254.1L208.0,253.3M211.9,254.1L212.3,253.3M216.2,254.1L216.6,253.3M220.5,254.1L220.9,253.3M224.8,254.1L225.2,253.3M229.0,254.1L229.6,253.3M233.3,254.1L233.9,253.3M237.6,254.0L238.2,253.4M241.9,254.0L242.5,253.4M246.2,254.0L246.8,253.4M250.5,254.0L251.1,253.4M254.8,254.0L255.4,253.4M259.1,254.0L259.7,253.4M263.4,254.0L264.0,253.4M267.7,254.0L268.3,253.4M272.0,254.0L272.6,253.4M276.3,254.0L276.9,253.4M36.2,258.3L35.4,257.7M40.5,258.3L39.7,257.7M44.8,258.3L44.0,257.7M49.1,258.3L48.3,257.7M53.4,258.3L52.6,257.7M57.6,258.3L57.0,257.7M61.9,258.3L61.3,257.7M66.2,258.3L65.6,257.7M70.5,258.3L69.9,257.7M74.8,258.3L74.2,257.7M79.1,258.3L78.5,257.7M83.4,258.3L82.8,257.7M87.7,258.3L87.1,257.7M92.0,258.3L91.4,257.7M96.3,258.4L95.7,257.6M100.6,258.4L100.0,257.6M104.9,258.4L104.3,257.6M109.1,258.4L108.7,257.6M113.4,258.4L113.0,257.6M117.7,258.4L117.3,257.6M122.0,258.4L121.6,257.6M126.3,258.4L125.9,257.6M130.6,258.4L130.2,257.6M134.8,258.4L134.6,257.6M139.1,258.4L138.9,257.6M143.4,258.4L143.2,257.6M147.7,258.4L147.5,257.6M152.0,258.4L151.8,257.6M156.2,258.4L156.2,257.6M160.5,258.4L160.5,257.6M164.8,258.4L164.8,257.6M169.1,258.4L169.1,257.6M173.4,258.4L173.4,257.6M177.6,258.4L177.8,257.6M181.9,258.4L182.1,257.6M186.2,258.4L186.4,257.6M190.5,258.4L190.7,257.6M194.7,258.4L195.1,257.6M199.0,258.4L199.4,257.6M203.3,258.4L203.7,257.6M207.6,258.4L208.0,257.6M211.9,258.4L212.3,257.6M216.2,258.4L216.6,257.6M220.5,258.4L220.9,257.6M224.7,258.4L225.3,257.6M229.0,258.4L229.6,257.6M233.3,258.4L233.9,257.6M237.6,258.3L238.2,257.7M241.9,258.3L242.5,257.7M246.2,258.3L246.8,257.7M250.5,258.3L251.1,257.7M254.8,258.3L255.4,257.7M259.1,258.3L259.7,257.7M263.4,258.3L264.0,257.7M267.7,258.3L268.3,257.7M271.9,258.3L272.7,257.7M276.2,258.3L277.0,257.7M36.2,262.5L35.4,262.1M40.5,262.5L39.7,262.1M44.8,262.6L44.0,262.0M49.1,262.6L48.3,262.0M53.4,262.6L52.6,262.0M57.7,262.6L56.9,262.0M62.0,262.6L61.2,262.0M66.2,262.6L65.6,262.0M70.5,262.6L69.9,262.0M74.8,262.6L74.2,262.0M79.1,262.6L78.5,262.0M83.4,262.6L82.8,262.0M87.7,262.6L87.1,262.0M92.0,262.6L91.4,262.0M96.3,262.6L95.7,262.0M100.6,262.7L100.0,261.9M104.9,262.7L104.3,261.9M109.1,262.7L108.7,261.9M113.4,262.7L113.0,261.9M117.7,262.7L117.3,261.9M122.0,262.7L121.6,261.9M126.3,262.7L125.9,261.9M130.6,262.7L130.2,261.9M134.9,262.7L134.5,261.9M139.1,262.7L138.9,261.9M143.4,262.7L143.2,261.9M147.7,262.7L147.5,261.9M152.0,262.7L151.8,261.9M156.2,262.7L156.2,261.9M160.5,262.7L160.5,261.9M164.8,262.7L164.8,261.9M169.1,262.7L169.1,261.9M173.3,262.7L173.5,261.9M177.6,262.7L177.8,261.9M181.9,262.7L182.1,261.9M186.2,262.7L186.4,261.9M190.5,262.7L190.7,261.9M194.7,262.7L195.1,261.9M199.0,262.7L199.4,261.9M203.3,262.7L203.7,261.9M207.6,262.7L208.0,261.9M211.9,262.7L212.3,261.9M216.2,262.7L216.6,261.9M220.4,262.7L221.0,261.9M224.7,262.7L225.3,261.9M229.0,262.7L229.6,261.9M233.3,262.6L233.9,262.0M237.6,262.6L238.2,262.0M241.9,262.6L242.5,262.0M246.2,262.6L246.8,262.0M250.5,262.6L251.1,262.0M254.8,262.6L255.4,262.0M259.1,262.6L259.7,262.0M263.4,262.6L264.0,262.0M267.6,262.6L268.4,262.0M271.9,262.6L272.7,262.0M276.2,262.6L277.0,262.0M36.2,266.8L35.4,266.4M40.5,266.8L39.7,266.4M44.8,266.8L44.0,266.4M49.1,266.9L48.3,266.3M53.4,266.9L52.6,266.3M57.7,266.9L56.9,266.3M62.0,266.9L61.2,266.3M66.3,266.9L65.5,266.3M70.5,266.9L69.9,266.3M74.8,266.9L74.2,266.3M79.1,266.9L78.5,266.3M83.4,266.9L82.8,266.3M87.7,266.9L87.1,266.3M92.0,266.9L91.4,266.3M96.3,266.9L95.7,266.3M100.6,266.9L100.0,266.3M104.9,267.0L104.3,266.2M109.2,267.0L108.6,266.2M113.4,267.0L113.0,266.2M117.7,267.0L117.3,266.2M122.0,267.0L121.6,266.2M126.3,267.0L125.9,266.2M130.6,267.0L130.2,266.2M134.9,267.0L134.5,266.2M139.1,267.0L138.9,266.2M143.4,267.0L143.2,266.2M147.7,267.0L147.5,266.2M152.0,267.0L151.8,266.2M156.2,267.0L156.2,266.2M160.5,267.0L160.5,266.2M164.8,267.0L164.8,266.2M169.1,267.0L169.1,266.2M173.3,267.0L173.5,266.2M177.6,267.0L177.8,266.2M181.9,267.0L182.1,266.2M186.2,267.0L186.4,266.2M190.5,267.0L190.7,266.2M194.7,267.0L195.1,266.2M199.0,267.0L199.4,266.2M203.3,267.0L203.7,266.2M207.6,267.0L208.0,266.2M211.9,267.0L212.3,266.2M216.1,267.0L216.7,266.2M220.4,267.0L221.0,266.2M224.7,267.0L225.3,266.2M229.0,266.9L229.6,266.3M233.3,266.9L233.9,266.3M237.6,266.9L238.2,266.3M241.9,266.9L242.5,266.3M246.2,266.9L246.8,266.3M250.5,266.9L251.1,266.3M254.8,266.9L255.4,266.3M259.1,266.9L259.7,266.3M263.3,266.9L264.1,266.3M267.6,266.9L268.4,266.3M271.9,266.9L272.7,266.3M276.2,266.9L277.0,266.3M36.2,271.1L35.4,270.7M40.5,271.1L39.7,270.7M44.8,271.1L44.0,270.7M49.1,271.1L48.3,270.7M53.4,271.1L52.6,270.7M57.7,271.2L56.9,270.6M62.0,271.2L61.2,270.6M66.3,271.2L65.5,270.6M70.6,271.2L69.8,270.6M74.8,271.2L74.2,270.6M79.1,271.2L78.5,270.6M83.4,271.2L82.8,270.6M87.7,271.2L87.1,270.6M92.0,271.2L91.4,270.6M96.3,271.2L95.7,270.6M100.6,271.2L100.0,270.6M104.9,271.3L104.3,270.5M109.2,271.3L108.6,270.5M113.5,271.3L112.9,270.5M117.7,271.3L117.3,270.5M122.0,271.3L121.6,270.5M126.3,271.3L125.9,270.5M130.6,271.3L130.2,270.5M134.9,271.3L134.5,270.5M139.1,271.3L138.9,270.5M143.4,271.3L143.2,270.5M181.9,271.3L182.1,270.5M186.2,271.3L186.4,270.5M190.4,271.3L190.8,270.5M194.7,271.3L195.1,270.5M199.0,271.3L199.4,270.5M203.3,271.3L203.7,270.5M207.6,271.3L208.0,270.5M211.9,271.3L212.3,270.5M216.1,271.3L216.7,270.5M220.4,271.3L221.0,270.5M224.7,271.2L225.3,270.6M229.0,271.2L229.6,270.6M233.3,271.2L233.9,270.6M237.6,271.2L238.2,270.6M241.9,271.2L242.5,270.6M246.2,271.2L246.8,270.6M250.5,271.2L251.1,270.6M254.8,271.2L255.4,270.6M259.0,271.2L259.8,270.6M263.3,271.2L264.1,270.6M267.6,271.2L268.4,270.6M271.9,271.2L272.7,270.6M276.2,271.1L277.0,270.7M36.2,275.4L35.4,275.0M40.5,275.4L39.7,275.0M44.8,275.4L44.0,275.0M49.1,275.4L48.3,275.0M53.4,275.4L52.6,275.0M57.7,275.4L56.9,275.0M62.0,275.5L61.2,274.9M66.3,275.5L65.5,274.9M70.6,275.5L69.8,274.9M74.9,275.5L74.1,274.9M79.1,275.5L78.5,274.9M83.4,275.5L82.8,274.9M87.7,275.5L87.1,274.9M92.0,275.5L91.4,274.9M96.3,275.5L95.7,274.9M100.6,275.5L100.0,274.9M104.9,275.5L104.3,274.9M109.2,275.6L108.6,274.8M113.5,275.6L112.9,274.8M117.7,275.6L117.3,274.8M122.0,275.6L121.6,274.8M126.3,275.6L125.9,274.8M130.6,275.6L130.2,274.8M194.7,275.6L195.1,274.8M199.0,275.6L199.4,274.8M203.3,275.6L203.7,274.8M207.6,275.6L208.0,274.8M211.8,275.6L212.4,274.8M216.1,275.6L216.7,274.8M220.4,275.5L221.0,274.9M224.7,275.5L225.3,274.9M229.0,275.5L229.6,274.9M233.3,275.5L233.9,274.9M237.6,275.5L238.2,274.9M241.9,275.5L242.5,274.9M246.2,275.5L246.8,274.9M250.4,275.5L251.2,274.9M254.7,275.5L255.5,274.9M259.0,275.5L259.8,274.9M263.3,275.5L264.1,274.9M267.6,275.5L268.4,274.9M271.9,275.4L272.7,275.0M276.2,275.4L277.0,275.0M36.2,279.7L35.4,279.3M40.5,279.7L39.7,279.3M44.8,279.7L44.0,279.3M49.1,279.7L48.3,279.3M53.4,279.7L52.6,279.3M57.7,279.7L56.9,279.3M62.0,279.7L61.2,279.3M66.3,279.7L65.5,279.3M70.6,279.8L69.8,279.2M74.9,279.8L74.1,279.2M79.2,279.8L78.4,279.2M83.4,279.8L82.8,279.2M87.7,279.8L87.1,279.2M92.0,279.8L91.4,279.2M96.3,279.8L95.7,279.2M100.6,279.8L100.0,279.2M104.9,279.8L104.3,279.2M109.2,279.8L108.6,279.2M113.5,279.9L112.9,279.1M117.8,279.9L117.2,279.1M122.0,279.9L121.6,279.1M203.3,279.9L203.7,279.1M207.5,279.9L208.1,279.1M211.8,279.9L212.4,279.1M216.1,279.9L216.7,279.1M220.4,279.8L221.0,279.2M224.7,279.8L225.3,279.2M229.0,279.8L229.6,279.2M233.3,279.8L233.9,279.2M237.6,279.8L238.2,279.2M241.9,279.8L242.5,279.2M246.1,279.8L246.9,279.2M250.4,279.8L251.2,279.2M254.7,279.8L255.5,279.2M259.0,279.8L259.8,279.2M263.3,279.7L264.1,279.3M267.6,279.7L268.4,279.3M271.9,279.7L272.7,279.3M276.2,279.7L277.0,279.3M36.2,284.0L35.4,283.6M40.5,284.0L39.7,283.6M44.8,284.0L44.0,283.6M49.1,284.0L48.3,283.6M53.4,284.0L52.6,283.6M57.7,284.0L56.9,283.6M62.0,284.0L61.2,283.6M66.3,284.0L65.5,283.6M70.6,284.0L69.8,283.6M74.9,284.1L74.1,283.5M79.2,284.1L78.4,283.5M83.5,284.1L82.7,283.5M87.8,284.1L87.0,283.5M92.0,284.1L91.4,283.5M96.3,284.1L95.7,283.5M100.6,284.1L100.0,283.5M104.9,284.1L104.3,283.5M109.2,284.1L108.6,283.5M113.5,284.1L112.9,283.5M117.8,284.2L117.2,283.4M211.8,284.2L212.4,283.4M216.1,284.1L216.7,283.5M220.4,284.1L221.0,283.5M224.7,284.1L225.3,283.5M229.0,284.1L229.6,283.5M233.3,284.1L233.9,283.5M237.6,284.1L238.2,283.5M241.8,284.1L242.6,283.5M246.1,284.1L246.9,283.5M250.4,284.1L251.2,283.5M254.7,284.1L255.5,283.5M259.0,284.0L259.8,283.6M263.3,284.0L264.1,283.6M267.6,284.0L268.4,283.6M271.9,284.0L272.7,283.6M276.2,284.0L277.0,283.6M36.2,288.3L35.4,287.9M40.5,288.3L39.7,287.9M44.8,288.3L44.0,287.9M49.1,288.3L48.3,287.9M53.4,288.3L52.6,287.9M57.7,288.3L56.9,287.9M62.0,288.3L61.2,287.9M66.3,288.3L65.5,287.9M70.6,288.3L69.8,287.9M74.9,288.3L74.1,287.9M79.2,288.3L78.4,287.9M83.5,288.4L82.7,287.8M87.8,288.4L87.0,287.8M92.1,288.4L91.3,287.8M96.3,288.4L95.7,287.8M100.6,288.4L100.0,287.8M104.9,288.4L104.3,287.8M109.2,288.4L108.6,287.8M113.5,288.4L112.9,287.8M216.1,288.4L216.7,287.8M220.4,288.4L221.0,287.8M224.7,288.4L225.3,287.8M229.0,288.4L229.6,287.8M233.3,288.4L233.9,287.8M237.5,288.4L238.3,287.8M241.8,288.4L242.6,287.8M246.1,288.4L246.9,287.8M250.4,288.3L251.2,287.9M254.7,288.3L255.5,287.9M259.0,288.3L259.8,287.9M263.3,288.3L264.1,287.9M267.6,288.3L268.4,287.9M271.9,288.3L272.7,287.9M276.2,288.3L277.0,287.9M36.2,292.6L35.4,292.2M40.5,292.6L39.7,292.2M44.8,292.6L44.0,292.2M49.1,292.6L48.3,292.2M53.4,292.6L52.6,292.2M57.7,292.6L56.9,292.2M62.0,292.6L61.2,292.2M66.3,292.6L65.5,292.2M70.6,292.6L69.8,292.2M74.9,292.6L74.1,292.2M79.2,292.6L78.4,292.2M83.5,292.6L82.7,292.2M87.8,292.7L87.0,292.1M92.1,292.7L91.3,292.1M96.4,292.7L95.6,292.1M100.6,292.7L100.0,292.1M104.9,292.7L104.3,292.1M109.2,292.7L108.6,292.1M220.4,292.7L221.0,292.1M224.7,292.7L225.3,292.1M228.9,292.7L229.7,292.1M233.2,292.7L234.0,292.1M237.5,292.7L238.3,292.1M241.8,292.7L242.6,292.1M246.1,292.6L246.9,292.2M250.4,292.6L251.2,292.2M254.7,292.6L255.5,292.2M259.0,292.6L259.8,292.2M263.3,292.6L264.1,292.2M267.6,292.6L268.4,292.2M271.9,292.6L272.7,292.2M276.2,292.6L277.0,292.2M36.2,296.9L35.4,296.5M40.5,296.9L39.7,296.5M44.8,296.9L44.0,296.5M49.1,296.9L48.3,296.5M53.4,296.9L52.6,296.5M57.7,296.9L56.9,296.5M62.0,296.9L61.2,296.5M66.3,296.9L65.5,296.5M70.6,296.9L69.8,296.5M74.9,296.9L74.1,296.5M79.2,296.9L78.4,296.5M83.5,296.9L82.7,296.5M87.8,296.9L87.0,296.5M92.1,296.9L91.3,296.5M96.4,297.0L95.6,296.4M100.7,297.0L99.9,296.4M104.9,297.0L104.3,296.4M224.6,297.0L225.4,296.4M228.9,297.0L229.7,296.4M233.2,297.0L234.0,296.4M237.5,296.9L238.3,296.5M241.8,296.9L242.6,296.5M246.1,296.9L246.9,296.5M250.4,296.9L251.2,296.5M254.7,296.9L255.5,296.5M259.0,296.9L259.8,296.5M263.3,296.9L264.1,296.5M267.6,296.9L268.4,296.5M271.9,296.9L272.7,296.5M276.2,296.9L277.0,296.5M36.2,301.1L35.4,300.9M40.5,301.2L39.7,300.8M44.8,301.2L44.0,300.8M49.1,301.2L48.3,300.8M53.4,301.2L52.6,300.8M57.7,301.2L56.9,300.8M62.0,301.2L61.2,300.8M66.3,301.2L65.5,300.8M70.6,301.2L69.8,300.8M74.9,301.2L74.1,300.8M79.2,301.2L78.4,300.8M83.5,301.2L82.7,300.8M87.8,301.2L87.0,300.8M92.1,301.2L91.3,300.8M96.4,301.2L95.6,300.8M100.7,301.3L99.9,300.7M228.9,301.3L229.7,300.7M233.2,301.2L234.0,300.8M237.5,301.2L238.3,300.8M241.8,301.2L242.6,300.8M246.1,301.2L246.9,300.8M250.4,301.2L251.2,300.8M254.7,301.2L255.5,300.8M259.0,301.2L259.8,300.8M263.3,301.2L264.1,300.8M267.6,301.2L268.4,300.8M271.9,301.2L272.7,300.8M276.2,301.2L277.0,300.8M36.2,305.4L35.4,305.2M40.5,305.4L39.7,305.2M44.8,305.4L44.0,305.2M49.1,305.4L48.3,305.2M53.4,305.5L52.6,305.1M57.7,305.5L56.9,305.1M62.0,305.5L61.2,305.1M66.3,305.5L65.5,305.1M70.6,305.5L69.8,305.1M74.9,305.5L74.1,305.1M79.2,305.5L78.4,305.1M83.5,305.5L82.7,305.1M87.8,305.5L87.0,305.1M92.1,305.5L91.3,305.1M96.4,305.5L95.6,305.1M228.9,305.5L229.7,305.1M233.2,305.5L234.0,305.1M237.5,305.5L238.3,305.1M241.8,305.5L242.6,305.1M246.1,305.5L246.9,305.1M250.4,305.5L251.2,305.1M254.7,305.5L255.5,305.1M259.0,305.5L259.8,305.1M263.3,305.5L264.1,305.1M267.6,305.5L268.4,305.1M271.9,305.5L272.7,305.1M276.2,305.4L277.0,305.2M36.2,309.7L35.4,309.5M40.5,309.7L39.7,309.5M44.8,309.7L44.0,309.5M49.1,309.7L48.3,309.5M53.4,309.7L52.6,309.5M57.7,309.7L56.9,309.5M62.0,309.7L61.2,309.5M66.3,309.8L65.5,309.4M70.6,309.8L69.8,309.4M74.9,309.8L74.1,309.4M79.2,309.8L78.4,309.4M83.5,309.8L82.7,309.4M87.8,309.8L87.0,309.4M92.1,309.8L91.3,309.4M96.4,309.8L95.6,309.4M233.2,309.8L234.0,309.4M237.5,309.8L238.3,309.4M241.8,309.8L242.6,309.4M246.1,309.8L246.9,309.4M250.4,309.8L251.2,309.4M254.7,309.8L255.5,309.4M259.0,309.8L259.8,309.4M263.3,309.8L264.1,309.4M267.6,309.7L268.4,309.5M271.9,309.7L272.7,309.5M276.2,309.7L277.0,309.5M36.2,314.0L35.4,313.8M40.5,314.0L39.7,313.8M44.8,314.0L44.0,313.8M49.1,314.0L48.3,313.8M53.4,314.0L52.6,313.8M57.7,314.0L56.9,313.8M62.0,314.0L61.2,313.8M66.3,314.0L65.5,313.8M70.6,314.0L69.8,313.8M74.9,314.0L74.1,313.8M79.2,314.1L78.4,313.7M83.5,314.1L82.7,313.7M87.8,314.1L87.0,313.7M92.1,314.1L91.3,313.7M233.2,314.1L234.0,313.7M237.5,314.1L238.3,313.7M241.8,314.1L242.6,313.7M246.1,314.1L246.9,313.7M250.4,314.1L251.2,313.7M254.7,314.0L255.5,313.8M259.0,314.0L259.8,313.8M263.3,314.0L264.1,313.8M267.6,314.0L268.4,313.8M271.9,314.0L272.7,313.8M276.2,314.0L277.0,313.8M36.2,318.3L35.4,318.1M40.5,318.3L39.7,318.1M44.8,318.3L44.0,318.1M49.1,318.3L48.3,318.1M53.4,318.3L52.6,318.1M57.7,318.3L56.9,318.1M62.0,318.3L61.2,318.1M66.3,318.3L65.5,318.1M70.6,318.3L69.8,318.1M74.9,318.3L74.1,318.1M79.2,318.3L78.4,318.1M83.5,318.3L82.7,318.1M87.8,318.3L87.0,318.1M92.1,318.4L91.3,318.0M237.5,318.4L238.3,318.0M241.8,318.3L242.6,318.1M246.1,318.3L246.9,318.1M250.4,318.3L251.2,318.1M254.7,318.3L255.5,318.1M259.0,318.3L259.8,318.1M263.3,318.3L264.1,318.1M267.6,318.3L268.4,318.1M271.9,318.3L272.7,318.1M276.2,318.3L277.0,318.1M36.2,322.6L35.4,322.4M40.5,322.6L39.7,322.4M44.8,322.6L44.0,322.4M49.1,322.6L48.3,322.4M53.4,322.6L52.6,322.4M57.7,322.6L56.9,322.4M62.0,322.6L61.2,322.4M66.3,322.6L65.5,322.4M70.6,322.6L69.8,322.4M74.9,322.6L74.1,322.4M79.2,322.6L78.4,322.4M83.5,322.6L82.7,322.4M87.8,322.6L87.0,322.4M237.5,322.6L238.3,322.4M241.8,322.6L242.6,322.4M246.1,322.6L246.9,322.4M250.4,322.6L251.2,322.4M254.7,322.6L255.5,322.4M259.0,322.6L259.8,322.4M263.3,322.6L264.1,322.4M267.6,322.6L268.4,322.4M271.9,322.6L272.7,322.4M276.2,322.6L277.0,322.4M36.2,326.9L35.4,326.7M40.5,326.9L39.7,326.7M44.8,326.9L44.0,326.7M49.1,326.9L48.3,326.7M53.4,326.9L52.6,326.7M57.7,326.9L56.9,326.7M62.0,326.9L61.2,326.7M66.3,326.9L65.5,326.7M70.6,326.9L69.8,326.7M74.9,326.9L74.1,326.7M79.2,326.9L78.4,326.7M83.5,326.9L82.7,326.7M87.8,326.9L87.0,326.7M237.5,326.9L238.3,326.7M241.8,326.9L242.6,326.7M246.1,326.9L246.9,326.7M250.4,326.9L251.2,326.7M254.7,326.9L255.5,326.7M259.0,326.9L259.8,326.7M263.3,326.9L264.1,326.7M267.6,326.9L268.4,326.7M271.9,326.9L272.7,326.7M276.2,326.9L277.0,326.7M36.2,331.1L35.4,331.1M40.5,331.2L39.7,331.0M44.8,331.2L44.0,331.0M49.1,331.2L48.3,331.0M53.4,331.2L52.6,331.0M57.7,331.2L56.9,331.0M62.0,331.2L61.2,331.0M66.3,331.2L65.5,331.0M70.6,331.2L69.8,331.0M74.9,331.2L74.1,331.0M79.2,331.2L78.4,331.0M83.5,331.2L82.7,331.0M87.8,331.2L87.0,331.0M241.8,331.2L242.6,331.0M246.1,331.2L246.9,331.0M250.4,331.2L251.2,331.0M254.7,331.2L255.5,331.0M259.0,331.2L259.8,331.0M263.3,331.2L264.1,331.0M267.6,331.2L268.4,331.0M271.9,331.2L272.7,331.0M276.2,331.2L277.0,331.0M36.2,335.4L35.4,335.4M40.5,335.4L39.7,335.4M44.8,335.4L44.0,335.4M49.1,335.4L48.3,335.4M53.4,335.4L52.6,335.4M57.7,335.4L56.9,335.4M62.0,335.4L61.2,335.4M66.3,335.4L65.5,335.4M70.6,335.4L69.8,335.4M74.9,335.4L74.1,335.4M79.2,335.5L78.4,335.3M83.5,335.5L82.7,335.3M87.8,335.5L87.0,335.3M241.8,335.5L242.6,335.3M246.1,335.5L246.9,335.3M250.4,335.4L251.2,335.4M254.7,335.4L255.5,335.4M259.0,335.4L259.8,335.4M263.3,335.4L264.1,335.4M267.6,335.4L268.4,335.4M271.9,335.4L272.7,335.4M276.2,335.4L277.0,335.4M36.2,339.7L35.4,339.7M40.5,339.7L39.7,339.7M44.8,339.7L44.0,339.7M49.1,339.7L48.3,339.7M53.4,339.7L52.6,339.7M57.7,339.7L56.9,339.7M62.0,339.7L61.2,339.7M66.3,339.7L65.5,339.7M70.6,339.7L69.8,339.7M74.9,339.7L74.1,339.7M79.2,339.7L78.4,339.7M83.5,339.7L82.7,339.7M87.8,339.7L87.0,339.7M241.8,339.7L242.6,339.7M246.1,339.7L246.9,339.7M250.4,339.7L251.2,339.7M254.7,339.7L255.5,339.7M259.0,339.7L259.8,339.7M263.3,339.7L264.1,339.7M267.6,339.7L268.4,339.7M271.9,339.7L272.7,339.7M276.2,339.7L277.0,339.7M36.2,344.0L35.4,344.0M40.5,344.0L39.7,344.0M44.8,344.0L44.0,344.0M49.1,344.0L48.3,344.0M53.4,344.0L52.6,344.0M57.7,344.0L56.9,344.0M62.0,344.0L61.2,344.0M66.3,344.0L65.5,344.0M70.6,344.0L69.8,344.0M74.9,344.0L74.1,344.0M79.2,344.0L78.4,344.0M83.5,344.0L82.7,344.0M87.8,344.0L87.0,344.0M241.8,344.0L242.6,344.0M246.1,344.0L246.9,344.0M250.4,344.0L251.2,344.0M254.7,344.0L255.5,344.0M259.0,344.0L259.8,344.0M263.3,344.0L264.1,344.0M267.6,344.0L268.4,344.0M271.9,344.0L272.7,344.0M276.2,344.0L277.0,344.0M36.2,348.3L35.4,348.3M40.5,348.3L39.7,348.3M44.8,348.3L44.0,348.3M49.1,348.3L48.3,348.3M53.4,348.3L52.6,348.3M57.7,348.3L56.9,348.3M62.0,348.3L61.2,348.3M66.3,348.3L65.5,348.3M70.6,348.3L69.8,348.3M74.9,348.3L74.1,348.3M79.2,348.3L78.4,348.3M83.5,348.3L82.7,348.3M87.8,348.3L87.0,348.3M241.8,348.3L242.6,348.3M246.1,348.3L246.9,348.3M250.4,348.3L251.2,348.3M254.7,348.3L255.5,348.3M259.0,348.3L259.8,348.3M263.3,348.3L264.1,348.3M267.6,348.3L268.4,348.3M271.9,348.3L272.7,348.3M276.2,348.3L277.0,348.3M36.2,352.6L35.4,352.6M40.5,352.6L39.7,352.6M44.8,352.6L44.0,352.6M49.1,352.6L48.3,352.6M53.4,352.6L52.6,352.6M57.7,352.6L56.9,352.6M62.0,352.6L61.2,352.6M66.3,352.6L65.5,352.6M70.6,352.6L69.8,352.6M74.9,352.6L74.1,352.6M79.2,352.6L78.4,352.6M83.5,352.6L82.7,352.6M87.8,352.6L87.0,352.6M241.8,352.6L242.6,352.6M246.1,352.6L246.9,352.6M250.4,352.6L251.2,352.6M254.7,352.6L255.5,352.6M259.0,352.6L259.8,352.6M263.3,352.6L264.1,352.6M267.6,352.6L268.4,352.6M271.9,352.6L272.7,352.6M276.2,352.6L277.0,352.6M36.2,356.9L35.4,356.9M40.5,356.9L39.7,356.9M44.8,356.9L44.0,356.9M49.1,356.9L48.3,356.9M53.4,356.9L52.6,356.9M57.7,356.9L56.9,356.9M62.0,356.8L61.2,357.0M66.3,356.8L65.5,357.0M70.6,356.8L69.8,357.0M74.9,356.8L74.1,357.0M79.2,356.8L78.4,357.0M83.5,356.8L82.7,357.0M87.8,356.8L87.0,357.0M241.8,356.8L242.6,357.0M246.1,356.8L246.9,357.0M250.4,356.8L251.2,357.0M254.7,356.8L255.5,357.0M259.0,356.8L259.8,357.0M263.3,356.8L264.1,357.0M267.6,356.8L268.4,357.0M271.9,356.9L272.7,356.9M276.2,356.9L277.0,356.9M36.2,361.1L35.4,361.3M40.5,361.1L39.7,361.3M44.8,361.1L44.0,361.3M49.1,361.1L48.3,361.3M53.4,361.1L52.6,361.3M57.7,361.1L56.9,361.3M62.0,361.1L61.2,361.3M66.3,361.1L65.5,361.3M70.6,361.1L69.8,361.3M74.9,361.1L74.1,361.3M79.2,361.1L78.4,361.3M83.5,361.1L82.7,361.3M87.8,361.1L87.0,361.3M241.8,361.1L242.6,361.3M246.1,361.1L246.9,361.3M250.4,361.1L251.2,361.3M254.7,361.1L255.5,361.3M259.0,361.1L259.8,361.3M263.3,361.1L264.1,361.3M267.6,361.1L268.4,361.3M271.9,361.1L272.7,361.3M276.2,361.1L277.0,361.3M36.2,365.4L35.4,365.6M40.5,365.4L39.7,365.6M44.8,365.4L44.0,365.6M49.1,365.4L48.3,365.6M53.4,365.4L52.6,365.6M57.7,365.4L56.9,365.6M62.0,365.4L61.2,365.6M66.3,365.4L65.5,365.6M70.6,365.4L69.8,365.6M74.9,365.4L74.1,365.6M79.2,365.4L78.4,365.6M83.5,365.4L82.7,365.6M87.8,365.4L87.0,365.6M237.5,365.4L238.3,365.6M241.8,365.4L242.6,365.6M246.1,365.4L246.9,365.6M250.4,365.4L251.2,365.6M254.7,365.4L255.5,365.6M259.0,365.4L259.8,365.6M263.3,365.4L264.1,365.6M267.6,365.4L268.4,365.6M271.9,365.4L272.7,365.6M276.2,365.4L277.0,365.6M36.2,369.7L35.4,369.9M40.5,369.7L39.7,369.9M44.8,369.7L44.0,369.9M49.1,369.7L48.3,369.9M53.4,369.7L52.6,369.9M57.7,369.7L56.9,369.9M62.0,369.7L61.2,369.9M66.3,369.7L65.5,369.9M70.6,369.7L69.8,369.9M74.9,369.7L74.1,369.9M79.2,369.7L78.4,369.9M83.5,369.7L82.7,369.9M87.8,369.7L87.0,369.9M92.1,369.7L91.3,369.9M237.5,369.7L238.3,369.9M241.8,369.7L242.6,369.9M246.1,369.7L246.9,369.9M250.4,369.7L251.2,369.9M254.7,369.7L255.5,369.9M259.0,369.7L259.8,369.9M263.3,369.7L264.1,369.9M267.6,369.7L268.4,369.9M271.9,369.7L272.7,369.9M276.2,369.7L277.0,369.9M36.2,374.0L35.4,374.2M40.5,374.0L39.7,374.2M44.8,374.0L44.0,374.2M49.1,374.0L48.3,374.2M53.4,374.0L52.6,374.2M57.7,374.0L56.9,374.2M62.0,374.0L61.2,374.2M66.3,374.0L65.5,374.2M70.6,374.0L69.8,374.2M74.9,374.0L74.1,374.2M79.2,374.0L78.4,374.2M83.5,373.9L82.7,374.3M87.8,373.9L87.0,374.3M92.1,373.9L91.3,374.3M237.5,373.9L238.3,374.3M241.8,373.9L242.6,374.3M246.1,374.0L246.9,374.2M250.4,374.0L251.2,374.2M254.7,374.0L255.5,374.2M259.0,374.0L259.8,374.2M263.3,374.0L264.1,374.2M267.6,374.0L268.4,374.2M271.9,374.0L272.7,374.2M276.2,374.0L277.0,374.2M36.2,378.3L35.4,378.5M40.5,378.3L39.7,378.5M44.8,378.3L44.0,378.5M49.1,378.3L48.3,378.5M53.4,378.3L52.6,378.5M57.7,378.3L56.9,378.5M62.0,378.3L61.2,378.5M66.3,378.3L65.5,378.5M70.6,378.2L69.8,378.6M74.9,378.2L74.1,378.6M79.2,378.2L78.4,378.6M83.5,378.2L82.7,378.6M87.8,378.2L87.0,378.6M92.1,378.2L91.3,378.6M233.2,378.2L234.0,378.6M237.5,378.2L238.3,378.6M241.8,378.2L242.6,378.6M246.1,378.2L246.9,378.6M250.4,378.2L251.2,378.6M254.7,378.2L255.5,378.6M259.0,378.3L259.8,378.5M263.3,378.3L264.1,378.5M267.6,378.3L268.4,378.5M271.9,378.3L272.7,378.5M276.2,378.3L277.0,378.5M36.2,382.6L35.4,382.8M40.5,382.6L39.7,382.8M44.8,382.6L44.0,382.8M49.1,382.6L48.3,382.8M53.4,382.6L52.6,382.8M57.7,382.6L56.9,382.8M62.0,382.5L61.2,382.9M66.3,382.5L65.5,382.9M70.6,382.5L69.8,382.9M74.9,382.5L74.1,382.9M79.2,382.5L78.4,382.9M83.5,382.5L82.7,382.9M87.8,382.5L87.0,382.9M92.1,382.5L91.3,382.9M96.4,382.5L95.6,382.9M233.2,382.5L234.0,382.9M237.5,382.5L238.3,382.9M241.8,382.5L242.6,382.9M246.1,382.5L246.9,382.9M250.4,382.5L251.2,382.9M254.7,382.5L255.5,382.9M259.0,382.5L259.8,382.9M263.3,382.5L264.1,382.9M267.6,382.5L268.4,382.9M271.9,382.6L272.7,382.8M276.2,382.6L277.0,382.8M36.2,386.9L35.4,387.1M40.5,386.9L39.7,387.1M44.8,386.9L44.0,387.1M49.1,386.8L48.3,387.2M53.4,386.8L52.6,387.2M57.7,386.8L56.9,387.2M62.0,386.8L61.2,387.2M66.3,386.8L65.5,387.2M70.6,386.8L69.8,387.2M74.9,386.8L74.1,387.2M79.2,386.8L78.4,387.2M83.5,386.8L82.7,387.2M87.8,386.8L87.0,387.2M92.1,386.8L91.3,387.2M96.4,386.8L95.6,387.2M100.7,386.8L99.9,387.2M228.9,386.8L229.7,387.2M233.2,386.8L234.0,387.2M237.5,386.8L238.3,387.2M241.8,386.8L242.6,387.2M246.1,386.8L246.9,387.2M250.4,386.8L251.2,387.2M254.7,386.8L255.5,387.2M259.0,386.8L259.8,387.2M263.3,386.8L264.1,387.2M267.6,386.8L268.4,387.2M271.9,386.8L272.7,387.2M276.2,386.8L277.0,387.2M36.2,391.1L35.4,391.5M40.5,391.1L39.7,391.5M44.8,391.1L44.0,391.5M49.1,391.1L48.3,391.5M53.4,391.1L52.6,391.5M57.7,391.1L56.9,391.5M62.0,391.1L61.2,391.5M66.3,391.1L65.5,391.5M70.6,391.1L69.8,391.5M74.9,391.1L74.1,391.5M79.2,391.1L78.4,391.5M83.5,391.1L82.7,391.5M87.8,391.1L87.0,391.5M92.1,391.1L91.3,391.5M96.4,391.0L95.6,391.6M100.7,391.0L99.9,391.6M224.6,391.0L225.4,391.6M228.9,391.0L229.7,391.6M233.2,391.1L234.0,391.5M237.5,391.1L238.3,391.5M241.8,391.1L242.6,391.5M246.1,391.1L246.9,391.5M250.4,391.1L251.2,391.5M254.7,391.1L255.5,391.5M259.0,391.1L259.8,391.5M263.3,391.1L264.1,391.5M267.6,391.1L268.4,391.5M271.9,391.1L272.7,391.5M276.2,391.1L277.0,391.5M36.2,395.4L35.4,395.8M40.5,395.4L39.7,395.8M44.8,395.4L44.0,395.8M49.1,395.4L48.3,395.8M53.4,395.4L52.6,395.8M57.7,395.4L56.9,395.8M62.0,395.4L61.2,395.8M66.3,395.4L65.5,395.8M70.6,395.4L69.8,395.8M74.9,395.4L74.1,395.8M79.2,395.4L78.4,395.8M83.5,395.4L82.7,395.8M87.8,395.4L87.0,395.8M92.1,395.3L91.3,395.9M96.4,395.3L95.6,395.9M100.7,395.3L99.9,395.9M104.9,395.3L104.3,395.9M36.2,399.7L35.4,400.1M40.5,399.7L39.7,400.1M44.8,399.7L44.0,400.1M49.1,399.7L48.3,400.1M53.4,399.7L52.6,400.1M57.7,399.7L56.9,400.1M62.0,399.7L61.2,400.1M66.3,399.7L65.5,400.1M70.6,399.7L69.8,400.1M74.9,399.7L74.1,400.1M79.2,399.7L78.4,400.1M83.5,399.6L82.7,400.2M87.8,399.6L87.0,400.2M92.1,399.6L91.3,400.2M96.4,399.6L95.6,400.2M100.6,399.6L100.0,400.2M104.9,399.6L104.3,400.2M109.2,399.6L108.6,400.2M36.2,404.0L35.4,404.4M40.5,404.0L39.7,404.4M44.8,404.0L44.0,404.4M49.1,404.0L48.3,404.4M53.4,404.0L52.6,404.4M57.7,404.0L56.9,404.4M62.0,404.0L61.2,404.4M66.3,404.0L65.5,404.4M70.6,404.0L69.8,404.4M74.9,404.0L74.1,404.4M79.2,403.9L78.4,404.5M83.5,403.9L82.7,404.5M87.8,403.9L87.0,404.5M92.0,403.9L91.4,404.5M96.3,403.9L95.7,404.5M100.6,403.9L100.0,404.5M104.9,403.9L104.3,404.5M109.2,403.9L108.6,404.5M113.5,403.9L112.9,404.5M36.2,408.3L35.4,408.7M40.5,408.3L39.7,408.7M44.8,408.3L44.0,408.7M49.1,408.3L48.3,408.7M53.4,408.3L52.6,408.7M57.7,408.3L56.9,408.7M62.0,408.3L61.2,408.7M66.3,408.3L65.5,408.7M70.6,408.2L69.8,408.8M74.9,408.2L74.1,408.8M79.2,408.2L78.4,408.8M83.5,408.2L82.7,408.8M87.7,408.2L87.1,408.8M92.0,408.2L91.4,408.8M96.3,408.2L95.7,408.8M100.6,408.2L100.0,408.8M104.9,408.2L104.3,408.8M109.2,408.2L108.6,408.8M113.5,408.1L112.9,408.9M117.8,408.1L117.2,408.9M122.0,408.1L121.6,408.9M36.2,412.6L35.4,413.0M40.5,412.6L39.7,413.0M44.8,412.6L44.0,413.0M49.1,412.6L48.3,413.0M53.4,412.6L52.6,413.0M57.7,412.6L56.9,413.0M62.0,412.6L61.2,413.0M66.3,412.5L65.5,413.1M70.6,412.5L69.8,413.1M74.9,412.5L74.1,413.1M79.2,412.5L78.4,413.1M83.4,412.5L82.8,413.1M87.7,412.5L87.1,413.1M92.0,412.5L91.4,413.1M96.3,412.5L95.7,413.1M100.6,412.5L100.0,413.1M104.9,412.5L104.3,413.1M109.2,412.5L108.6,413.1M113.5,412.4L112.9,413.2M117.8,412.4L117.2,413.2M122.0,412.4L121.6,413.2M126.3,412.4L125.9,413.2M36.2,416.9L35.4,417.3M40.5,416.9L39.7,417.3M44.8,416.9L44.0,417.3M49.1,416.9L48.3,417.3M53.4,416.9L52.6,417.3M57.7,416.8L56.9,417.4M62.0,416.8L61.2,417.4M66.3,416.8L65.5,417.4M70.6,416.8L69.8,417.4M74.9,416.8L74.1,417.4M79.1,416.8L78.5,417.4M83.4,416.8L82.8,417.4M87.7,416.8L87.1,417.4M92.0,416.8L91.4,417.4M96.3,416.8L95.7,417.4M100.6,416.8L100.0,417.4M104.9,416.8L104.3,417.4M109.2,416.7L108.6,417.5M113.5,416.7L112.9,417.5M117.7,416.7L117.3,417.5M122.0,416.7L121.6,417.5M126.3,416.7L125.9,417.5M130.6,416.7L130.2,417.5M134.9,416.7L134.5,417.5M139.1,416.7L138.9,417.5M36.2,421.2L35.4,421.6M40.5,421.2L39.7,421.6M44.8,421.2L44.0,421.6M49.1,421.2L48.3,421.6M53.4,421.1L52.6,421.7M57.7,421.1L56.9,421.7M62.0,421.1L61.2,421.7M66.3,421.1L65.5,421.7M70.5,421.1L69.9,421.7M74.8,421.1L74.2,421.7M79.1,421.1L78.5,421.7M83.4,421.1L82.8,421.7M87.7,421.1L87.1,421.7M92.0,421.1L91.4,421.7M96.3,421.1L95.7,421.7M100.6,421.1L100.0,421.7M104.9,421.0L104.3,421.8M109.2,421.0L108.6,421.8M113.4,421.0L113.0,421.8M117.7,421.0L117.3,421.8M122.0,421.0L121.6,421.8M126.3,421.0L125.9,421.8M130.6,421.0L130.2,421.8M134.9,421.0L134.5,421.8M139.1,421.0L138.9,421.8M143.4,421.0L143.2,421.8M147.7,421.0L147.5,421.8M152.0,421.0L151.8,421.8M156.2,421.0L156.2,421.8M160.5,421.0L160.5,421.8M164.8,421.0L164.8,421.8M169.1,421.0L169.1,421.8M173.3,421.0L173.5,421.8M177.6,421.0L177.8,421.8M36.2,425.5L35.4,425.9M40.5,425.5L39.7,425.9M44.8,425.4L44.0,426.0M49.1,425.4L48.3,426.0M53.4,425.4L52.6,426.0M57.7,425.4L56.9,426.0M62.0,425.4L61.2,426.0M66.2,425.4L65.6,426.0M70.5,425.4L69.9,426.0M74.8,425.4L74.2,426.0M79.1,425.4L78.5,426.0M83.4,425.4L82.8,426.0M87.7,425.4L87.1,426.0M92.0,425.4L91.4,426.0M96.3,425.4L95.7,426.0M100.6,425.3L100.0,426.1M104.9,425.3L104.3,426.1M109.2,425.3L108.6,426.1M113.4,425.3L113.0,426.1M117.7,425.3L117.3,426.1M122.0,425.3L121.6,426.1M126.3,425.3L125.9,426.1M130.6,425.3L130.2,426.1M134.9,425.3L134.5,426.1M139.1,425.3L138.9,426.1M143.4,425.3L143.2,426.1M147.7,425.3L147.5,426.1M152.0,425.3L151.8,426.1M156.2,425.3L156.2,426.1M160.5,425.3L160.5,426.1M164.8,425.3L164.8,426.1M169.1,425.3L169.1,426.1M173.3,425.3L173.5,426.1M177.6,425.3L177.8,426.1M36.2,429.8L35.4,430.2M40.5,429.7L39.7,430.3M44.8,429.7L44.0,430.3M49.1,429.7L48.3,430.3M53.4,429.7L52.6,430.3M57.7,429.7L56.9,430.3M61.9,429.7L61.3,430.3M66.2,429.7L65.6,430.3M70.5,429.7L69.9,430.3M74.8,429.7L74.2,430.3M79.1,429.7L78.5,430.3M83.4,429.7L82.8,430.3M87.7,429.7L87.1,430.3M92.0,429.7L91.4,430.3M96.3,429.6L95.7,430.4M100.6,429.6L100.0,430.4M104.9,429.6L104.3,430.4M109.1,429.6L108.7,430.4M113.4,429.6L113.0,430.4M117.7,429.6L117.3,430.4M122.0,429.6L121.6,430.4M126.3,429.6L125.9,430.4M130.6,429.6L130.2,430.4M134.8,429.6L134.6,430.4M139.1,429.6L138.9,430.4M143.4,429.6L143.2,430.4M147.7,429.6L147.5,430.4M152.0,429.6L151.8,430.4M156.2,429.6L156.2,430.4M160.5,429.6L160.5,430.4M164.8,429.6L164.8,430.4M169.1,429.6L169.1,430.4M173.4,429.6L173.4,430.4M177.6,429.6L177.8,430.4M36.2,434.0L35.4,434.6M40.5,434.0L39.7,434.6M44.8,434.0L44.0,434.6M49.1,434.0L48.3,434.6M53.4,434.0L52.6,434.6M57.6,434.0L57.0,434.6M61.9,434.0L61.3,434.6M66.2,434.0L65.6,434.6M70.5,434.0L69.9,434.6M74.8,434.0L74.2,434.6M79.1,434.0L78.5,434.6M83.4,434.0L82.8,434.6M87.7,434.0L87.1,434.6M92.0,434.0L91.4,434.6M96.3,433.9L95.7,434.7M100.6,433.9L100.0,434.7M104.8,433.9L104.4,434.7M109.1,433.9L108.7,434.7M113.4,433.9L113.0,434.7M117.7,433.9L117.3,434.7M122.0,433.9L121.6,434.7M126.3,433.9L125.9,434.7M130.6,433.9L130.2,434.7M134.8,433.9L134.6,434.7M139.1,433.9L138.9,434.7M143.4,433.9L143.2,434.7M147.7,433.9L147.5,434.7M152.0,433.9L151.8,434.7M156.2,433.9L156.2,434.7M160.5,433.9L160.5,434.7M164.8,433.9L164.8,434.7M169.1,433.9L169.1,434.7M173.4,433.9L173.4,434.7M177.6,433.9L177.8,434.7M36.2,438.3L35.4,438.9M40.5,438.3L39.7,438.9M44.8,438.3L44.0,438.9M49.0,438.3L48.4,438.9M53.3,438.3L52.7,438.9M57.6,438.3L57.0,438.9M61.9,438.3L61.3,438.9M66.2,438.3L65.6,438.9M70.5,438.3L69.9,438.9M74.8,438.3L74.2,438.9M79.1,438.3L78.5,438.9M83.4,438.3L82.8,438.9M87.7,438.3L87.1,438.9M92.0,438.2L91.4,439.0M96.3,438.2L95.7,439.0M100.6,438.2L100.0,439.0M104.8,438.2L104.4,439.0M109.1,438.2L108.7,439.0M113.4,438.2L113.0,439.0M117.7,438.2L117.3,439.0M122.0,438.2L121.6,439.0M126.3,438.2L125.9,439.0M130.6,438.2L130.2,439.0M134.8,438.2L134.6,439.0M139.1,438.2L138.9,439.0M143.4,438.2L143.2,439.0M147.7,438.2L147.5,439.0M152.0,438.2L151.8,439.0M156.2,438.2L156.2,439.0M160.5,438.2L160.5,439.0M164.8,438.2L164.8,439.0M169.1,438.2L169.1,439.0M173.4,438.2L173.4,439.0M177.6,438.2L177.8,439.0M36.2,442.6L35.4,443.2M40.5,442.6L39.7,443.2M44.7,442.6L44.1,443.2M49.0,442.6L48.4,443.2M53.3,442.6L52.7,443.2M57.6,442.6L57.0,443.2M61.9,442.6L61.3,443.2M66.2,442.6L65.6,443.2M70.5,442.6L69.9,443.2M74.8,442.6L74.2,443.2M79.1,442.6L78.5,443.2M83.4,442.6L82.8,443.2M87.7,442.5L87.1,443.3M92.0,442.5L91.4,443.3M96.3,442.5L95.7,443.3M100.5,442.5L100.1,443.3M104.8,442.5L104.4,443.3M109.1,442.5L108.7,443.3M113.4,442.5L113.0,443.3M117.7,442.5L117.3,443.3M122.0,442.5L121.6,443.3M126.3,442.5L125.9,443.3M130.5,442.5L130.3,443.3M134.8,442.5L134.6,443.3M139.1,442.5L138.9,443.3M143.4,442.5L143.2,443.3M147.7,442.5L147.5,443.3M152.0,442.5L151.8,443.3M156.2,442.5L156.2,443.3M160.5,442.5L160.5,443.3M164.8,442.5L164.8,443.3M169.1,442.5L169.1,443.3M173.4,442.5L173.4,443.3M177.6,442.5L177.8,443.3M36.2,446.9L35.4,447.5M40.4,446.9L39.8,447.5M44.7,446.9L44.1,447.5M49.0,446.9L48.4,447.5M53.3,446.9L52.7,447.5M57.6,446.9L57.0,447.5M61.9,446.9L61.3,447.5M66.2,446.9L65.6,447.5M70.5,446.9L69.9,447.5M74.8,446.9L74.2,447.5M79.1,446.9L78.5,447.5M83.4,446.8L82.8,447.6M87.7,446.8L87.1,447.6M92.0,446.8L91.4,447.6M96.2,446.8L95.8,447.6M100.5,446.8L100.1,447.6M104.8,446.8L104.4,447.6M109.1,446.8L108.7,447.6M113.4,446.8L113.0,447.6M117.7,446.8L117.3,447.6M122.0,446.8L121.6,447.6M126.3,446.8L125.9,447.6M130.5,446.8L130.3,447.6M134.8,446.8L134.6,447.6M139.1,446.8L138.9,447.6M143.4,446.8L143.2,447.6M147.7,446.8L147.5,447.6M152.0,446.8L151.8,447.6M156.2,446.8L156.2,447.6M160.5,446.8L160.5,447.6M164.8,446.8L164.8,447.6M169.1,446.8L169.1,447.6M173.4,446.8L173.4,447.6M177.6,446.8L177.8,447.6M36.1,451.2L35.5,451.8M40.4,451.2L39.8,451.8M44.7,451.2L44.1,451.8M49.0,451.2L48.4,451.8M53.3,451.2L52.7,451.8M57.6,451.2L57.0,451.8M61.9,451.2L61.3,451.8M66.2,451.2L65.6,451.8M70.5,451.2L69.9,451.8M74.8,451.2L74.2,451.8M79.1,451.1L78.5,451.9M83.4,451.1L82.8,451.9M87.7,451.1L87.1,451.9M92.0,451.1L91.4,451.9M96.2,451.1L95.8,451.9M100.5,451.1L100.1,451.9M104.8,451.1L104.4,451.9M109.1,451.1L108.7,451.9M113.4,451.1L113.0,451.9M117.7,451.1L117.3,451.9M122.0,451.1L121.6,451.9M126.3,451.1L125.9,451.9M130.5,451.1L130.3,451.9M134.8,451.1L134.6,451.9M139.1,451.1L138.9,451.9M143.4,451.1L143.2,451.9M147.7,451.1L147.5,451.9M152.0,451.1L151.8,451.9M156.2,451.1L156.2,451.9M160.5,451.1L160.5,451.9M164.8,451.1L164.8,451.9M169.1,451.1L169.1,451.9M173.4,451.1L173.4,451.9M177.6,451.1L177.8,451.9M36.1,455.5L35.5,456.1M40.4,455.5L39.8,456.1M44.7,455.5L44.1,456.1M49.0,455.5L48.4,456.1M53.3,455.5L52.7,456.1M57.6,455.5L57.0,456.1M61.9,455.5L61.3,456.1M66.2,455.5L65.6,456.1M70.5,455.5L69.9,456.1M74.8,455.4L74.2,456.2M79.1,455.4L78.5,456.2M83.4,455.4L82.8,456.2M87.7,455.4L87.1,456.2M91.9,455.4L91.5,456.2M96.2,455.4L95.8,456.2M100.5,455.4L100.1,456.2M104.8,455.4L104.4,456.2M109.1,455.4L108.7,456.2M113.4,455.4L113.0,456.2M117.7,455.4L117.3,456.2M122.0,455.4L121.6,456.2M126.2,455.4L126.0,456.2M130.5,455.4L130.3,456.2M134.8,455.4L134.6,456.2M139.1,455.4L138.9,456.2M143.4,455.4L143.2,456.2M147.7,455.4L147.5,456.2M151.9,455.4L151.9,456.2M156.2,455.4L156.2,456.2M160.5,455.4L160.5,456.2M164.8,455.4L164.8,456.2M169.1,455.4L169.1,456.2M173.4,455.4L173.4,456.2M177.6,455.4L177.8,456.2M36.1,459.8L35.5,460.4M40.4,459.8L39.8,460.4M44.7,459.8L44.1,460.4M49.0,459.8L48.4,460.4M53.3,459.8L52.7,460.4M57.6,459.8L57.0,460.4M61.9,459.8L61.3,460.4M66.2,459.8L65.6,460.4M70.5,459.8L69.9,460.4M74.8,459.7L74.2,460.5M79.1,459.7L78.5,460.5M83.4,459.7L82.8,460.5M87.6,459.7L87.2,460.5M91.9,459.7L91.5,460.5M96.2,459.7L95.8,460.5M100.5,459.7L100.1,460.5M104.8,459.7L104.4,460.5M109.1,459.7L108.7,460.5M113.4,459.7L113.0,460.5M117.7,459.7L117.3,460.5M122.0,459.7L121.6,460.5M126.2,459.7L126.0,460.5M130.5,459.7L130.3,460.5M134.8,459.7L134.6,460.5M139.1,459.7L138.9,460.5M143.4,459.7L143.2,460.5M147.7,459.7L147.5,460.5M151.9,459.7L151.9,460.5M156.2,459.7L156.2,460.5M160.5,459.7L160.5,460.5M164.8,459.7L164.8,460.5M169.1,459.7L169.1,460.5M173.4,459.7L173.4,460.5M177.6,459.7L177.8,460.5" stroke="#ee3a20" stroke-width="1.0" fill="none" opacity="0.1" filter="url(#bl0)"/>
<path d="M147.8,271.6L147.4,270.2M152.0,271.6L151.8,270.2M156.3,271.6L156.1,270.2M160.5,271.6L160.5,270.2M164.8,271.6L164.8,270.2M169.1,271.6L169.1,270.2M173.3,271.6L173.5,270.2M177.6,271.6L177.8,270.2M135.0,275.8L134.4,274.6M139.2,275.9L138.8,274.5M143.5,275.9L143.1,274.5M147.8,275.9L147.4,274.5M152.0,275.9L151.8,274.5M156.3,275.9L156.1,274.5M160.5,275.9L160.5,274.5M164.8,275.9L164.8,274.5M169.0,275.9L169.2,274.5M173.3,275.9L173.5,274.5M177.6,275.9L177.8,274.5M181.8,275.9L182.2,274.5M186.1,275.9L186.5,274.5M190.4,275.9L190.8,274.5M126.5,280.1L125.7,278.9M130.7,280.1L130.1,278.9M135.0,280.1L134.4,278.9M139.2,280.2L138.8,278.8M143.5,280.2L143.1,278.8M147.8,280.2L147.4,278.8M152.0,280.2L151.8,278.8M156.3,280.2L156.1,278.8M160.5,280.2L160.5,278.8M164.8,280.2L164.8,278.8M169.0,280.2L169.2,278.8M173.3,280.2L173.5,278.8M177.6,280.2L177.8,278.8M181.8,280.2L182.2,278.8M186.1,280.2L186.5,278.8M190.3,280.1L190.9,278.9M194.6,280.1L195.2,278.9M198.9,280.1L199.5,278.9M122.2,284.4L121.4,283.2M126.5,284.4L125.7,283.2M130.7,284.4L130.1,283.2M135.0,284.4L134.4,283.2M139.3,284.4L138.7,283.2M143.5,284.5L143.1,283.1M147.8,284.5L147.4,283.1M152.0,284.5L151.8,283.1M177.5,284.5L177.9,283.1M181.8,284.5L182.2,283.1M186.1,284.5L186.5,283.1M190.3,284.4L190.9,283.2M194.6,284.4L195.2,283.2M198.9,284.4L199.5,283.2M203.1,284.4L203.9,283.2M207.4,284.4L208.2,283.2M117.9,288.6L117.1,287.6M122.2,288.7L121.4,287.5M126.5,288.7L125.7,287.5M130.8,288.7L130.0,287.5M135.0,288.7L134.4,287.5M139.3,288.7L138.7,287.5M190.3,288.7L190.9,287.5M194.6,288.7L195.2,287.5M198.8,288.7L199.6,287.5M203.1,288.7L203.9,287.5M207.4,288.7L208.2,287.5M211.6,288.6L212.6,287.6M113.7,292.9L112.7,291.9M118.0,292.9L117.0,291.9M122.2,292.9L121.4,291.9M126.5,293.0L125.7,291.8M130.8,293.0L130.0,291.8M198.8,293.0L199.6,291.8M203.1,293.0L203.9,291.8M207.4,292.9L208.2,291.9M211.6,292.9L212.6,291.9M215.9,292.9L216.9,291.9M109.4,297.2L108.4,296.2M113.7,297.2L112.7,296.2M118.0,297.2L117.0,296.2M122.3,297.2L121.3,296.2M203.1,297.2L203.9,296.2M207.3,297.2L208.3,296.2M211.6,297.2L212.6,296.2M215.9,297.2L216.9,296.2M220.2,297.2L221.2,296.2M105.2,301.4L104.0,300.6M109.4,301.4L108.4,300.6M113.7,301.5L112.7,300.5M118.0,301.5L117.0,300.5M207.3,301.5L208.3,300.5M211.6,301.5L212.6,300.5M215.9,301.5L216.9,300.5M220.1,301.4L221.3,300.6M224.4,301.4L225.6,300.6M100.9,305.7L99.7,304.9M105.2,305.7L104.0,304.9M109.5,305.7L108.3,304.9M113.8,305.7L112.6,304.9M211.6,305.7L212.6,304.9M215.8,305.7L217.0,304.9M220.1,305.7L221.3,304.9M224.4,305.7L225.6,304.9M100.9,309.9L99.7,309.3M105.2,310.0L104.0,309.2M109.5,310.0L108.3,309.2M215.8,310.0L217.0,309.2M220.1,310.0L221.3,309.2M224.4,310.0L225.6,309.2M228.7,309.9L229.9,309.3M96.6,314.2L95.4,313.6M100.9,314.2L99.7,313.6M105.2,314.2L104.0,313.6M109.5,314.2L108.3,313.6M220.1,314.2L221.3,313.6M224.4,314.2L225.6,313.6M228.7,314.2L229.9,313.6M96.7,318.5L95.3,317.9M100.9,318.5L99.7,317.9M105.2,318.5L104.0,317.9M220.1,318.5L221.3,317.9M224.4,318.5L225.6,317.9M228.7,318.5L229.9,317.9M232.9,318.5L234.3,317.9M92.4,322.7L91.0,322.3M96.7,322.7L95.3,322.3M101.0,322.7L99.6,322.3M105.3,322.7L103.9,322.3M224.3,322.7L225.7,322.3M228.6,322.7L230.0,322.3M232.9,322.7L234.3,322.3M92.4,327.0L91.0,326.6M96.7,327.0L95.3,326.6M101.0,327.0L99.6,326.6M105.3,327.0L103.9,326.6M224.3,327.0L225.7,326.6M228.6,327.0L230.0,326.6M232.9,327.0L234.3,326.6M92.4,331.2L91.0,331.0M96.7,331.2L95.3,331.0M101.0,331.2L99.6,331.0M224.3,331.3L225.7,330.9M228.6,331.2L230.0,331.0M232.9,331.2L234.3,331.0M237.2,331.2L238.6,331.0M92.4,335.5L91.0,335.3M96.7,335.5L95.3,335.3M101.0,335.5L99.6,335.3M228.6,335.5L230.0,335.3M232.9,335.5L234.3,335.3M237.2,335.5L238.6,335.3M92.4,339.8L91.0,339.6M96.7,339.8L95.3,339.6M101.0,339.8L99.6,339.6M228.6,339.8L230.0,339.6M232.9,339.8L234.3,339.6M237.2,339.8L238.6,339.6M92.4,344.0L91.0,344.0M96.7,344.0L95.3,344.0M101.0,344.0L99.6,344.0M228.6,344.0L230.0,344.0M232.9,344.0L234.3,344.0M237.2,344.0L238.6,344.0M92.4,348.3L91.0,348.3M96.7,348.3L95.3,348.3M101.0,348.3L99.6,348.3M228.6,348.3L230.0,348.3M232.9,348.3L234.3,348.3M237.2,348.3L238.6,348.3M92.4,352.5L91.0,352.7M96.7,352.5L95.3,352.7M101.0,352.5L99.6,352.7M228.6,352.5L230.0,352.7M232.9,352.5L234.3,352.7M237.2,352.5L238.6,352.7M92.4,356.8L91.0,357.0M96.7,356.8L95.3,357.0M101.0,356.8L99.6,357.0M224.3,356.8L225.7,357.0M228.6,356.8L230.0,357.0M232.9,356.8L234.3,357.0M237.2,356.8L238.6,357.0M92.4,361.0L91.0,361.4M96.7,361.0L95.3,361.4M101.0,361.0L99.6,361.4M224.3,361.0L225.7,361.4M228.6,361.0L230.0,361.4M232.9,361.0L234.3,361.4M237.2,361.1L238.6,361.3M92.4,365.3L91.0,365.7M96.7,365.3L95.3,365.7M101.0,365.3L99.6,365.7M105.3,365.3L103.9,365.7M224.3,365.3L225.7,365.7M228.6,365.3L230.0,365.7M232.9,365.3L234.3,365.7M96.7,369.6L95.3,370.0M101.0,369.5L99.6,370.1M105.2,369.5L104.0,370.1M224.4,369.5L225.6,370.1M228.6,369.6L230.0,370.0M232.9,369.6L234.3,370.0M96.6,373.8L95.4,374.4M100.9,373.8L99.7,374.4M105.2,373.8L104.0,374.4M109.5,373.8L108.3,374.4M220.1,373.8L221.3,374.4M224.4,373.8L225.6,374.4M228.7,373.8L229.9,374.4M233.0,373.8L234.2,374.4M96.6,378.1L95.4,378.7M100.9,378.1L99.7,378.7M105.2,378.1L104.0,378.7M109.5,378.0L108.3,378.8M215.8,378.0L217.0,378.8M220.1,378.0L221.3,378.8M224.4,378.1L225.6,378.7M228.7,378.1L229.9,378.7M100.9,382.3L99.7,383.1M105.2,382.3L104.0,383.1M109.5,382.3L108.3,383.1M113.8,382.3L112.6,383.1M215.8,382.3L217.0,383.1M220.1,382.3L221.3,383.1M224.4,382.3L225.6,383.1M228.7,382.4L229.9,383.0M105.2,386.6L104.0,387.4M109.5,386.6L108.3,387.4M113.7,386.6L112.7,387.4M118.0,386.5L117.0,387.5M211.6,386.5L212.6,387.5M215.9,386.6L216.9,387.4M220.1,386.6L221.3,387.4M224.4,386.6L225.6,387.4M105.2,390.9L104.0,391.7M109.4,390.8L108.4,391.8M113.7,390.8L112.7,391.8M118.0,390.8L117.0,391.8M122.3,390.8L121.3,391.8M207.3,390.8L208.3,391.8M211.6,390.8L212.6,391.8M215.9,390.8L216.9,391.8M220.2,390.9L221.2,391.7M109.4,395.1L108.4,396.1M113.7,395.1L112.7,396.1M118.0,395.1L117.0,396.1M122.2,395.1L121.4,396.1M126.5,395.0L125.7,396.2M113.7,399.4L112.7,400.4M118.0,399.4L117.0,400.4M122.2,399.3L121.4,400.5M126.5,399.3L125.7,400.5M130.8,399.3L130.0,400.5M135.0,399.3L134.4,400.5M117.9,403.6L117.1,404.8M122.2,403.6L121.4,404.8M126.5,403.6L125.7,404.8M130.7,403.6L130.1,404.8M135.0,403.6L134.4,404.8M139.3,403.6L138.7,404.8M143.5,403.5L143.1,404.9M126.5,407.9L125.7,409.1M130.7,407.9L130.1,409.1M135.0,407.9L134.4,409.1M139.3,407.8L138.7,409.2M143.5,407.8L143.1,409.2M147.8,407.8L147.4,409.2M152.0,407.8L151.8,409.2M156.3,407.8L156.1,409.2M160.5,407.8L160.5,409.2M164.8,407.8L164.8,409.2M169.0,407.8L169.2,409.2M173.3,407.8L173.5,409.2M177.6,407.8L177.8,409.2M130.7,412.2L130.1,413.4M135.0,412.2L134.4,413.4M139.2,412.1L138.8,413.5M143.5,412.1L143.1,413.5M147.8,412.1L147.4,413.5M152.0,412.1L151.8,413.5M156.3,412.1L156.1,413.5M160.5,412.1L160.5,413.5M164.8,412.1L164.8,413.5M169.0,412.1L169.2,413.5M173.3,412.1L173.5,413.5M177.6,412.1L177.8,413.5M143.5,416.4L143.1,417.8M147.8,416.4L147.4,417.8M152.0,416.4L151.8,417.8M156.3,416.4L156.1,417.8M160.5,416.4L160.5,417.8M164.8,416.4L164.8,417.8M169.1,416.4L169.1,417.8M173.3,416.4L173.5,417.8M177.6,416.4L177.8,417.8" stroke="#ee3a20" stroke-width="1.0" fill="none" opacity="0.5" filter="url(#bl0)"/>
<path d="M156.3,284.9L156.1,282.7M160.6,284.9L160.4,282.7M164.8,284.9L164.8,282.7M169.0,284.9L169.2,282.7M173.2,284.9L173.6,282.7M143.7,289.1L142.9,287.1M147.9,289.2L147.3,287.0M152.1,289.2L151.7,287.0M156.3,289.2L156.1,287.0M160.6,289.2L160.4,287.0M164.8,289.2L164.8,287.0M169.0,289.2L169.2,287.0M173.2,289.2L173.6,287.0M177.4,289.2L178.0,287.0M181.7,289.1L182.3,287.1M185.9,289.1L186.7,287.1M135.2,293.4L134.2,291.4M139.5,293.4L138.5,291.4M143.7,293.4L142.9,291.4M147.9,293.5L147.3,291.3M152.1,293.5L151.7,291.3M156.4,293.5L156.0,291.3M160.6,293.5L160.4,291.3M164.8,293.5L164.8,291.3M169.0,293.5L169.2,291.3M173.2,293.5L173.6,291.3M177.4,293.5L178.0,291.3M181.6,293.4L182.4,291.4M185.9,293.4L186.7,291.4M190.1,293.4L191.1,291.4M194.3,293.3L195.5,291.5M126.8,297.6L125.4,295.8M131.0,297.6L129.8,295.8M135.3,297.6L134.1,295.8M139.5,297.7L138.5,295.7M143.7,297.7L142.9,295.7M148.0,297.7L147.2,295.7M177.4,297.8L178.0,295.6M181.6,297.7L182.4,295.7M185.8,297.7L186.8,295.7M190.1,297.7L191.1,295.7M194.3,297.6L195.5,295.8M198.6,297.6L199.8,295.8M122.6,301.8L121.0,300.2M126.8,301.8L125.4,300.2M131.1,301.9L129.7,300.1M135.3,301.9L134.1,300.1M139.5,302.0L138.5,300.0M190.0,301.9L191.2,300.1M194.3,301.9L195.5,300.1M198.5,301.9L199.9,300.1M202.8,301.8L204.2,300.2M118.3,306.0L116.7,304.6M122.6,306.1L121.0,304.5M126.9,306.1L125.3,304.5M131.1,306.1L129.7,304.5M194.2,306.2L195.6,304.4M198.5,306.1L199.9,304.5M202.7,306.1L204.3,304.5M207.0,306.0L208.6,304.6M114.1,310.2L112.3,309.0M118.4,310.3L116.6,308.9M122.6,310.3L121.0,308.9M126.9,310.4L125.3,308.8M202.7,310.3L204.3,308.9M206.9,310.3L208.7,308.9M211.2,310.3L213.0,308.9M114.1,314.5L112.3,313.3M118.4,314.5L116.6,313.3M122.7,314.6L120.9,313.2M202.6,314.6L204.4,313.2M206.9,314.5L208.7,313.3M211.2,314.5L213.0,313.3M215.5,314.5L217.3,313.3M109.9,318.7L107.9,317.7M114.2,318.7L112.2,317.7M118.5,318.7L116.5,317.7M206.9,318.8L208.7,317.6M211.1,318.7L213.1,317.7M215.4,318.7L217.4,317.7M109.9,322.9L107.9,322.1M114.2,322.9L112.2,322.1M118.5,323.0L116.5,322.0M211.1,323.0L213.1,322.0M215.4,322.9L217.4,322.1M219.7,322.9L221.7,322.1M109.9,327.1L107.9,326.5M114.2,327.2L112.2,326.4M211.1,327.2L213.1,326.4M215.4,327.2L217.4,326.4M219.7,327.1L221.7,326.5M105.7,331.4L103.5,330.8M110.0,331.4L107.8,330.8M114.3,331.4L112.1,330.8M211.0,331.4L213.2,330.8M215.3,331.4L217.5,330.8M219.6,331.4L221.8,330.8M105.7,335.6L103.5,335.2M110.0,335.6L107.8,335.2M114.3,335.6L112.1,335.2M215.3,335.6L217.5,335.2M219.6,335.6L221.8,335.2M223.9,335.6L226.1,335.2M105.7,339.8L103.5,339.6M110.0,339.8L107.8,339.6M114.3,339.8L112.1,339.6M215.3,339.8L217.5,339.6M219.6,339.8L221.8,339.6M223.9,339.8L226.1,339.6M105.7,344.0L103.5,344.0M110.0,344.0L107.8,344.0M114.3,344.0L112.1,344.0M215.3,344.0L217.5,344.0M219.6,344.0L221.8,344.0M223.9,344.0L226.1,344.0M105.7,348.2L103.5,348.4M110.0,348.2L107.8,348.4M114.3,348.2L112.1,348.4M215.3,348.2L217.5,348.4M219.6,348.2L221.8,348.4M223.9,348.2L226.1,348.4M105.7,352.5L103.5,352.7M110.0,352.4L107.8,352.8M114.3,352.4L112.1,352.8M215.3,352.4L217.5,352.8M219.6,352.5L221.8,352.7M223.9,352.5L226.1,352.7M105.7,356.7L103.5,357.1M110.0,356.7L107.8,357.1M114.3,356.6L112.1,357.2M215.3,356.7L217.5,357.1M219.6,356.7L221.8,357.1M105.7,360.9L103.5,361.5M110.0,360.9L107.8,361.5M114.2,360.9L112.2,361.5M211.1,360.8L213.1,361.6M215.3,360.9L217.5,361.5M219.6,360.9L221.8,361.5M109.9,365.1L107.9,365.9M114.2,365.1L112.2,365.9M118.5,365.1L116.5,365.9M211.1,365.1L213.1,365.9M215.4,365.1L217.4,365.9M219.7,365.1L221.7,365.9M109.9,369.3L107.9,370.3M114.2,369.3L112.2,370.3M118.5,369.3L116.5,370.3M206.8,369.3L208.8,370.3M211.1,369.3L213.1,370.3M215.4,369.3L217.4,370.3M219.7,369.4L221.7,370.2M114.2,373.6L112.2,374.6M118.4,373.5L116.6,374.7M122.7,373.5L120.9,374.7M206.9,373.5L208.7,374.7M211.2,373.5L213.0,374.7M215.4,373.6L217.4,374.6M114.1,377.8L112.3,379.0M118.4,377.8L116.6,379.0M122.7,377.7L120.9,379.1M126.9,377.7L125.3,379.1M202.7,377.7L204.3,379.1M206.9,377.7L208.7,379.1M211.2,377.8L213.0,379.0M118.4,382.0L116.6,383.4M122.6,382.0L121.0,383.4M126.9,381.9L125.3,383.5M131.1,381.9L129.7,383.5M198.4,381.9L200.0,383.5M202.7,381.9L204.3,383.5M207.0,382.0L208.6,383.4M211.2,382.0L213.0,383.4M122.6,386.2L121.0,387.8M126.8,386.2L125.4,387.8M131.1,386.1L129.7,387.9M135.3,386.1L134.1,387.9M194.2,386.1L195.6,387.9M198.5,386.2L199.9,387.8M202.7,386.2L204.3,387.8M207.0,386.2L208.6,387.8M126.8,390.4L125.4,392.2M131.0,390.4L129.8,392.2M135.3,390.4L134.1,392.2M139.5,390.3L138.5,392.3M143.7,390.3L142.9,392.3M185.8,390.3L186.8,392.3M190.1,390.3L191.1,392.3M194.3,390.4L195.5,392.2M198.5,390.4L199.9,392.2M202.8,390.5L204.2,392.1M131.0,394.7L129.8,396.5M135.3,394.6L134.1,396.6M139.5,394.6L138.5,396.6M143.7,394.6L142.9,396.6M147.9,394.6L147.3,396.6M152.2,394.5L151.6,396.7M156.4,394.5L156.0,396.7M160.6,394.5L160.4,396.7M164.8,394.5L164.8,396.7M169.0,394.5L169.2,396.7M173.2,394.5L173.6,396.7M177.4,394.5L178.0,396.7M139.5,398.9L138.5,400.9M143.7,398.9L142.9,400.9M147.9,398.8L147.3,401.0M152.1,398.8L151.7,401.0M156.4,398.8L156.0,401.0M160.6,398.8L160.4,401.0M164.8,398.8L164.8,401.0M169.0,398.8L169.2,401.0M173.2,398.8L173.6,401.0M177.4,398.8L178.0,401.0M147.9,403.1L147.3,405.3M152.1,403.1L151.7,405.3M156.3,403.1L156.1,405.3M160.6,403.1L160.4,405.3M164.8,403.1L164.8,405.3M169.0,403.1L169.2,405.3M173.2,403.1L173.6,405.3M177.5,403.1L177.9,405.3" stroke="#ee3a20" stroke-width="1.0" fill="none" opacity="0.8" filter="url(#bl0)"/>
<path d="M152.2,298.0L151.6,295.4M156.4,298.0L156.0,295.4M160.6,298.0L160.4,295.4M164.8,298.0L164.8,295.4M169.0,298.0L169.2,295.4M173.1,298.0L173.7,295.4M143.9,302.2L142.7,299.8M148.1,302.3L147.1,299.7M152.3,302.3L151.5,299.7M156.4,302.3L156.0,299.7M160.6,302.3L160.4,299.7M164.8,302.3L164.8,299.7M168.9,302.3L169.3,299.7M173.1,302.3L173.7,299.7M177.3,302.3L178.1,299.7M181.5,302.2L182.5,299.8M185.7,302.2L186.9,299.8M135.5,306.4L133.9,304.2M139.7,306.4L138.3,304.2M143.9,306.5L142.7,304.1M148.1,306.5L147.1,304.1M152.3,306.6L151.5,304.0M156.5,306.6L155.9,304.0M160.6,306.6L160.4,304.0M164.8,306.6L164.8,304.0M168.9,306.6L169.3,304.0M173.1,306.6L173.7,304.0M177.3,306.6L178.1,304.0M181.4,306.5L182.6,304.1M185.6,306.5L187.0,304.1M189.8,306.4L191.4,304.2M131.3,310.6L129.5,308.6M135.6,310.6L133.8,308.6M139.8,310.7L138.2,308.5M144.0,310.8L142.6,308.4M148.2,310.8L147.0,308.4M152.3,310.9L151.5,308.3M156.5,310.9L155.9,308.3M160.6,310.9L160.4,308.3M164.8,310.9L164.8,308.3M168.9,310.9L169.3,308.3M173.1,310.9L173.7,308.3M177.2,310.9L178.2,308.3M181.4,310.8L182.6,308.4M185.6,310.7L187.0,308.5M189.8,310.7L191.4,308.5M194.0,310.6L195.8,308.6M198.2,310.6L200.2,308.6M127.1,314.8L125.1,313.0M131.4,314.8L129.4,313.0M135.6,314.9L133.8,312.9M139.8,315.0L138.2,312.8M144.0,315.0L142.6,312.8M148.2,315.1L147.0,312.7M152.4,315.2L151.4,312.6M156.5,315.2L155.9,312.6M160.7,315.2L160.3,312.6M164.8,315.2L164.8,312.6M168.9,315.2L169.3,312.6M173.0,315.2L173.8,312.6M177.2,315.1L178.2,312.7M181.3,315.1L182.7,312.7M185.5,315.0L187.1,312.8M189.7,314.9L191.5,312.9M193.9,314.9L195.9,312.9M198.2,314.8L200.2,313.0M122.9,318.9L120.7,317.5M127.2,319.0L125.0,317.4M131.5,319.0L129.3,317.4M135.7,319.1L133.7,317.3M139.9,319.2L138.1,317.2M144.1,319.3L142.5,317.1M148.3,319.4L146.9,317.0M152.5,319.4L151.3,317.0M156.6,319.5L155.8,316.9M160.7,319.5L160.3,316.9M164.8,319.5L164.8,316.9M168.8,319.5L169.4,316.9M173.0,319.5L173.8,316.9M177.1,319.4L178.3,317.0M181.2,319.3L182.8,317.1M185.4,319.2L187.2,317.2M189.6,319.2L191.6,317.2M193.9,319.1L195.9,317.3M198.1,319.0L200.3,317.4M202.4,319.0L204.6,317.4M123.0,323.1L120.6,321.9M127.3,323.2L124.9,321.8M131.5,323.3L129.3,321.7M135.8,323.3L133.6,321.7M140.0,323.4L138.0,321.6M144.2,323.5L142.4,321.5M148.4,323.6L146.8,321.4M152.5,323.7L151.3,321.3M156.6,323.8L155.8,321.2M160.7,323.8L160.3,321.2M164.8,323.8L164.8,321.2M168.8,323.8L169.4,321.2M172.9,323.7L173.9,321.3M177.0,323.7L178.4,321.3M181.2,323.6L182.8,321.4M185.3,323.5L187.3,321.5M189.6,323.4L191.6,321.6M193.8,323.3L196.0,321.7M198.1,323.2L200.3,321.8M202.3,323.2L204.7,321.8M206.6,323.1L209.0,321.9M118.8,327.3L116.2,326.3M123.0,327.3L120.6,326.3M127.3,327.4L124.9,326.2M131.6,327.4L129.2,326.2M135.8,327.5L133.6,326.1M140.1,327.6L137.9,326.0M144.3,327.7L142.3,325.9M148.5,327.8L146.7,325.8M152.6,327.9L151.2,325.7M156.7,328.0L155.7,325.6M160.8,328.1L160.2,325.5M164.7,328.1L164.9,325.5M168.7,328.1L169.5,325.5M172.8,328.0L174.0,325.6M176.9,327.9L178.5,325.7M181.1,327.8L182.9,325.8M185.3,327.7L187.3,325.9M189.5,327.6L191.7,326.0M193.7,327.5L196.1,326.1M198.0,327.4L200.4,326.2M202.3,327.4L204.7,326.2M206.6,327.3L209.0,326.3M118.8,331.5L116.2,330.7M123.1,331.5L120.5,330.7M127.4,331.6L124.8,330.6M131.6,331.6L129.2,330.6M135.9,331.7L133.5,330.5M140.2,331.8L137.8,330.4M144.4,331.9L142.2,330.3M148.6,332.0L146.6,330.2M152.8,332.1L151.0,330.1M156.9,332.3L155.5,329.9M160.8,332.4L160.2,329.8M164.7,332.4L164.9,329.8M168.6,332.4L169.6,329.8M172.6,332.2L174.2,330.0M176.8,332.1L178.6,330.1M180.9,331.9L183.1,330.3M185.2,331.8L187.4,330.4M189.4,331.7L191.8,330.5M193.7,331.7L196.1,330.5M197.9,331.6L200.5,330.6M202.2,331.5L204.8,330.7M206.5,331.5L209.1,330.7M118.8,335.7L116.2,335.1M123.1,335.7L120.5,335.1M127.4,335.7L124.8,335.1M131.7,335.8L129.1,335.0M136.0,335.8L133.4,335.0M140.3,335.9L137.7,334.9M144.5,336.0L142.1,334.8M148.8,336.1L146.4,334.7M153.0,336.2L150.8,334.6M157.1,336.4L155.3,334.4M161.0,336.7L160.0,334.1M164.7,336.7L164.9,334.1M168.5,336.6L169.7,334.2M172.5,336.4L174.3,334.4M176.6,336.2L178.8,334.6M180.8,336.0L183.2,334.8M185.1,335.9L187.5,334.9M189.3,335.9L191.9,334.9M193.6,335.8L196.2,335.0M197.9,335.8L200.5,335.0M202.2,335.7L204.8,335.1M206.5,335.7L209.1,335.1M210.8,335.7L213.4,335.1M118.8,339.9L116.2,339.5M123.1,339.9L120.5,339.5M127.4,339.9L124.8,339.5M131.7,339.9L129.1,339.5M136.0,339.9L133.4,339.5M140.3,340.0L137.7,339.4M144.6,340.0L142.0,339.4M148.9,340.1L146.3,339.3M153.1,340.2L150.7,339.2M157.3,340.5L155.1,338.9M161.2,340.8L159.8,338.6M164.6,341.0L165.0,338.4M168.2,340.7L170.0,338.7M172.2,340.4L174.6,339.0M176.4,340.2L179.0,339.2M180.7,340.1L183.3,339.3M185.0,340.0L187.6,339.4M189.3,340.0L191.9,339.4M193.6,339.9L196.2,339.5M197.9,339.9L200.5,339.5M202.2,339.9L204.8,339.5M206.5,339.9L209.1,339.5M210.8,339.8L213.4,339.6M118.8,344.0L116.2,344.0M123.1,344.0L120.5,344.0M127.4,344.0L124.8,344.0M131.7,344.0L129.1,344.0M136.0,344.0L133.4,344.0M140.3,344.1L137.7,343.9M144.6,344.1L142.0,343.9M148.9,344.1L146.3,343.9M153.2,344.1L150.6,343.9M157.5,344.2L154.9,343.8M161.8,344.4L159.2,343.6M167.8,344.3L170.4,343.7M172.1,344.1L174.7,343.9M176.4,344.1L179.0,343.9M180.7,344.1L183.3,343.9M185.0,344.1L187.6,343.9M189.3,344.1L191.9,343.9M193.6,344.0L196.2,344.0M197.9,344.0L200.5,344.0M202.2,344.0L204.8,344.0M206.5,344.0L209.1,344.0M210.8,344.0L213.4,344.0M118.8,348.2L116.2,348.4M123.1,348.2L120.5,348.4M127.4,348.2L124.8,348.4M131.7,348.2L129.1,348.4M136.0,348.1L133.4,348.5M140.3,348.1L137.7,348.5M144.6,348.1L142.0,348.5M148.9,348.0L146.3,348.6M153.2,347.9L150.6,348.7M157.4,347.8L155.0,348.8M161.5,347.4L159.5,349.2M164.5,347.0L165.1,349.6M168.0,347.6L170.2,349.0M172.1,347.9L174.7,348.7M176.4,348.0L179.0,348.6M180.7,348.1L183.3,348.5M185.0,348.1L187.6,348.5M189.3,348.1L191.9,348.5M193.6,348.2L196.2,348.4M197.9,348.2L200.5,348.4M202.2,348.2L204.8,348.4M206.5,348.2L209.1,348.4M210.8,348.2L213.4,348.4M118.8,352.4L116.2,352.8M123.1,352.4L120.5,352.8M127.4,352.3L124.8,352.9M131.7,352.3L129.1,352.9M136.0,352.3L133.4,352.9M140.3,352.2L137.7,353.0M144.6,352.1L142.0,353.1M148.8,352.0L146.4,353.2M153.0,351.9L150.8,353.3M157.2,351.7L155.2,353.5M161.1,351.4L159.9,353.8M164.7,351.3L164.9,353.9M168.3,351.5L169.9,353.7M172.4,351.8L174.4,353.4M176.5,351.9L178.9,353.3M180.8,352.1L183.2,353.1M185.0,352.2L187.6,353.0M189.3,352.2L191.9,353.0M193.6,352.3L196.2,352.9M197.9,352.3L200.5,352.9M202.2,352.3L204.8,352.9M206.5,352.4L209.1,352.8M210.8,352.4L213.4,352.8M118.8,356.6L116.2,357.2M123.1,356.5L120.5,357.3M127.4,356.5L124.8,357.3M131.7,356.4L129.1,357.4M136.0,356.4L133.4,357.4M140.2,356.3L137.8,357.5M144.5,356.2L142.1,357.6M148.7,356.1L146.5,357.7M152.9,356.0L150.9,357.8M156.9,355.8L155.5,358.0M160.9,355.6L160.1,358.2M164.7,355.6L164.9,358.2M168.6,355.7L169.6,358.1M172.6,355.8L174.2,358.0M176.7,356.0L178.7,357.8M180.9,356.2L183.1,357.6M185.1,356.3L187.5,357.5M189.4,356.3L191.8,357.5M193.6,356.4L196.2,357.4M197.9,356.5L200.5,357.3M202.2,356.5L204.8,357.3M206.5,356.5L209.1,357.3M210.8,356.6L213.4,357.2M118.8,360.8L116.2,361.6M123.1,360.7L120.5,361.7M127.3,360.7L124.9,361.7M131.6,360.6L129.2,361.8M135.9,360.5L133.5,361.9M140.1,360.5L137.9,361.9M144.4,360.4L142.2,362.0M148.6,360.3L146.6,362.1M152.7,360.1L151.1,362.3M156.8,360.0L155.6,362.4M160.8,359.9L160.2,362.5M164.7,359.9L164.9,362.5M168.7,359.9L169.5,362.5M172.7,360.0L174.1,362.4M176.8,360.2L178.6,362.2M181.0,360.3L183.0,362.1M185.2,360.4L187.4,362.0M189.4,360.5L191.8,361.9M193.7,360.6L196.1,361.8M198.0,360.6L200.4,361.8M202.3,360.7L204.7,361.7M206.5,360.7L209.1,361.7M123.0,364.9L120.6,366.1M127.3,364.9L124.9,366.1M131.6,364.8L129.2,366.2M135.8,364.7L133.6,366.3M140.0,364.6L138.0,366.4M144.3,364.6L142.3,366.4M148.4,364.4L146.8,366.6M152.6,364.3L151.2,366.7M156.7,364.2L155.7,366.8M160.7,364.2L160.3,366.8M164.7,364.2L164.9,366.8M168.8,364.2L169.4,366.8M172.8,364.3L174.0,366.7M176.9,364.4L178.5,366.6M181.1,364.5L182.9,366.5M185.3,364.6L187.3,366.4M189.5,364.7L191.7,366.3M193.8,364.8L196.0,366.2M198.0,364.8L200.4,366.2M202.3,364.9L204.7,366.1M206.6,364.9L209.0,366.1M123.0,369.1L120.6,370.5M127.2,369.1L125.0,370.5M131.5,369.0L129.3,370.6M135.7,368.9L133.7,370.7M140.0,368.8L138.0,370.8M144.2,368.8L142.4,370.8M148.3,368.7L146.9,370.9M152.5,368.6L151.3,371.0M156.6,368.5L155.8,371.1M160.7,368.5L160.3,371.1M164.8,368.5L164.8,371.1M168.8,368.5L169.4,371.1M172.9,368.5L173.9,371.1M177.0,368.6L178.4,371.0M181.2,368.7L182.8,370.9M185.4,368.8L187.2,370.8M189.6,368.9L191.6,370.7M193.8,369.0L196.0,370.6M198.1,369.0L200.3,370.6M202.4,369.1L204.6,370.5M127.2,373.3L125.0,374.9M131.4,373.2L129.4,375.0M135.7,373.1L133.7,375.1M139.9,373.1L138.1,375.1M144.1,373.0L142.5,375.2M148.3,372.9L146.9,375.3M152.4,372.9L151.4,375.3M156.5,372.8L155.9,375.4M160.7,372.8L160.3,375.4M164.8,372.8L164.8,375.4M168.9,372.8L169.3,375.4M173.0,372.8L173.8,375.4M177.1,372.9L178.3,375.3M181.3,373.0L182.7,375.2M185.5,373.0L187.1,375.2M189.7,373.1L191.5,375.1M193.9,373.2L195.9,375.0M198.2,373.2L200.2,375.0M202.4,373.3L204.6,374.9M131.4,377.4L129.4,379.4M135.6,377.4L133.8,379.4M139.8,377.3L138.2,379.5M144.0,377.3L142.6,379.5M148.2,377.2L147.0,379.6M152.4,377.1L151.4,379.7M156.5,377.1L155.9,379.7M160.6,377.1L160.4,379.7M164.8,377.1L164.8,379.7M168.9,377.1L169.3,379.7M173.0,377.1L173.8,379.7M177.2,377.2L178.2,379.6M181.4,377.2L182.6,379.6M185.6,377.3L187.0,379.5M189.8,377.3L191.4,379.5M194.0,377.4L195.8,379.4M198.2,377.5L200.2,379.3M135.5,381.6L133.9,383.8M139.7,381.6L138.3,383.8M143.9,381.5L142.7,383.9M148.1,381.5L147.1,383.9M152.3,381.4L151.5,384.0M156.5,381.4L155.9,384.0M160.6,381.4L160.4,384.0M164.8,381.4L164.8,384.0M168.9,381.4L169.3,384.0M173.1,381.4L173.7,384.0M177.2,381.4L178.2,384.0M181.4,381.5L182.6,383.9M185.6,381.5L187.0,383.9M189.8,381.6L191.4,383.8M194.0,381.7L195.8,383.7M139.7,385.8L138.3,388.2M143.9,385.8L142.7,388.2M148.1,385.7L147.1,388.3M152.3,385.7L151.5,388.3M156.4,385.7L156.0,388.3M160.6,385.7L160.4,388.3M164.8,385.7L164.8,388.3M168.9,385.7L169.3,388.3M173.1,385.7L173.7,388.3M177.3,385.7L178.1,388.3M181.5,385.8L182.5,388.2M185.7,385.8L186.9,388.2M189.9,385.9L191.3,388.1M148.1,390.0L147.1,392.6M152.2,390.0L151.6,392.6M156.4,390.0L156.0,392.6M160.6,390.0L160.4,392.6M164.8,390.0L164.8,392.6M169.0,390.0L169.2,392.6M173.1,390.0L173.7,392.6M177.3,390.0L178.1,392.6M181.5,390.0L182.5,392.6" stroke="#ee3a20" stroke-width="1.0" fill="none" opacity="0.95" filter="url(#bl0)"/>
</g>
<rect x="181" y="392.5" width="97.7" height="66.3" fill="#d0d0d0" filter="url(#nz2)"/>
<g clip-path="url(#cdi)">
<ellipse cx="232.5" cy="429" rx="20" ry="21" fill="#8a8a8a" filter="url(#rough2)"/>
<g stroke="#5c5c5c" stroke-width="0.8" opacity="0.7">
<line x1="225.57" y1="431.64" x2="219.96" y2="433.73"/>
<line x1="225.02" y1="427.94" x2="218.18" y2="427.52"/>
<line x1="240.96" y1="434.21" x2="245.77" y2="438.16"/>
<line x1="242.77" y1="430.53" x2="249.52" y2="432.1"/>
<line x1="226.35" y1="433.23" x2="218.39" y2="438.16"/>
<line x1="242.3" y1="431.98" x2="252.38" y2="436.2"/>
<line x1="236.35" y1="419.81" x2="238.98" y2="410.08"/>
<line x1="225.47" y1="431.37" x2="220.06" y2="433.2"/>
<line x1="238.06" y1="436.53" x2="241.33" y2="443.02"/>
<line x1="228.22" y1="421.6" x2="220.52" y2="412.42"/>
<line x1="235.7" y1="437.34" x2="237.79" y2="448.16"/>
<line x1="241.56" y1="423.61" x2="250.45" y2="417.87"/>
<line x1="231.92" y1="437.26" x2="229.66" y2="446.72"/>
<line x1="235.39" y1="419.61" x2="237.04" y2="409.04"/>
<line x1="237.13" y1="420.06" x2="241.28" y2="408.9"/>
<line x1="235.78" y1="419.68" x2="237.37" y2="411.81"/>
<line x1="233.37" y1="437.48" x2="232.97" y2="443.26"/>
<line x1="227.65" y1="434.88" x2="220.14" y2="442.41"/>
<line x1="240.42" y1="434.81" x2="248.6" y2="442.86"/>
<line x1="236.62" y1="419.89" x2="238.33" y2="414.25"/>
<line x1="237.28" y1="420.12" x2="240.73" y2="411.26"/>
<line x1="234.07" y1="437.5" x2="234.13" y2="445.86"/>
<line x1="226.06" y1="424.25" x2="219.44" y2="420.71"/>
<line x1="225.02" y1="429.09" x2="219.52" y2="429.45"/>
<line x1="229.32" y1="436.19" x2="223.95" y2="445.01"/>
<line x1="230.7" y1="420.13" x2="226.48" y2="409.43"/>
<line x1="225.7" y1="431.98" x2="217.49" y2="435.42"/>
<line x1="229.36" y1="436.21" x2="223.48" y2="445.99"/>
<line x1="234.31" y1="419.51" x2="234.64" y2="410.08"/>
<line x1="232.35" y1="437.35" x2="230.57" y2="446.93"/>
<line x1="240.4" y1="422.18" x2="246.33" y2="416.33"/>
<line x1="242.29" y1="432.01" x2="249.14" y2="434.92"/>
<line x1="229.49" y1="436.29" x2="226.92" y2="440.73"/>
<line x1="239.8" y1="435.39" x2="244.41" y2="440.86"/>
<line x1="230.78" y1="420.09" x2="226.53" y2="408.97"/>
<line x1="242.83" y1="426.74" x2="251.42" y2="425.02"/>
<line x1="241.61" y1="423.7" x2="249.33" y2="418.83"/>
<line x1="234.41" y1="437.49" x2="234.83" y2="446.77"/>
<line x1="226.57" y1="433.57" x2="217.13" y2="440.02"/>
<line x1="230.02" y1="436.57" x2="227.74" y2="441.2"/>
<line x1="241.1" y1="434.03" x2="248.59" y2="439.87"/>
<line x1="226.08" y1="424.22" x2="218.78" y2="420.28"/>
<line x1="238.25" y1="420.57" x2="243.04" y2="411.61"/>
<line x1="232.11" y1="419.7" x2="230.64" y2="412.86"/>
<line x1="228.99" y1="421.03" x2="223.37" y2="412.65"/>
<line x1="241.93" y1="432.76" x2="246.56" y2="435.25"/>
<line x1="225.41" y1="431.17" x2="216.27" y2="434.01"/>
<line x1="234.33" y1="437.49" x2="234.58" y2="444.45"/>
<line x1="233.96" y1="437.5" x2="233.93" y2="446.59"/>
<line x1="241.55" y1="423.6" x2="246.04" y2="420.68"/>
<line x1="225.46" y1="431.35" x2="218.69" y2="433.61"/>
<line x1="225.14" y1="430.09" x2="219.78" y2="431.05"/>
<line x1="234.24" y1="419.5" x2="234.51" y2="409.63"/>
<line x1="225.86" y1="424.66" x2="221.03" y2="422.38"/>
<line x1="241.29" y1="433.77" x2="246.96" y2="437.87"/>
<line x1="242.38" y1="431.78" x2="248.69" y2="434.26"/>
<line x1="227.04" y1="422.8" x2="218.1" y2="415.48"/>
<line x1="242.18" y1="432.25" x2="247.67" y2="434.76"/>
<line x1="225.78" y1="432.15" x2="216.45" y2="436.3"/>
<line x1="239.53" y1="435.6" x2="244.46" y2="441.92"/>
</g>
<ellipse cx="234" cy="428.3" rx="10" ry="9.5" fill="#141414" filter="url(#rough2)"/>
<g fill="#202020" filter="url(#rough2)"><circle cx="251" cy="412" r="1.6"/><circle cx="255" cy="417" r="1.2"/><circle cx="236" cy="449" r="1.8"/><circle cx="240" cy="450" r="1.3"/><circle cx="222" cy="432" r="1.5"/></g>
<rect x="181.5" y="392.6" width="52" height="5.2" fill="#f4f4f4"/>
<text x="182.4" y="397.2" font-size="5.3" fill="#222" style="font-family:&quot;Liberation Sans&quot;,sans-serif" textLength="50" lengthAdjust="spacingAndGlyphs">2006-12-09 22:00:05</text>
</g>
<text x="283.6" y="284.9" font-size="28" font-style="italic">d<tspan x="300.4" y="283.4" font-size="25" font-style="italic">)</tspan></text>
</g>
</svg>
</body></html>
